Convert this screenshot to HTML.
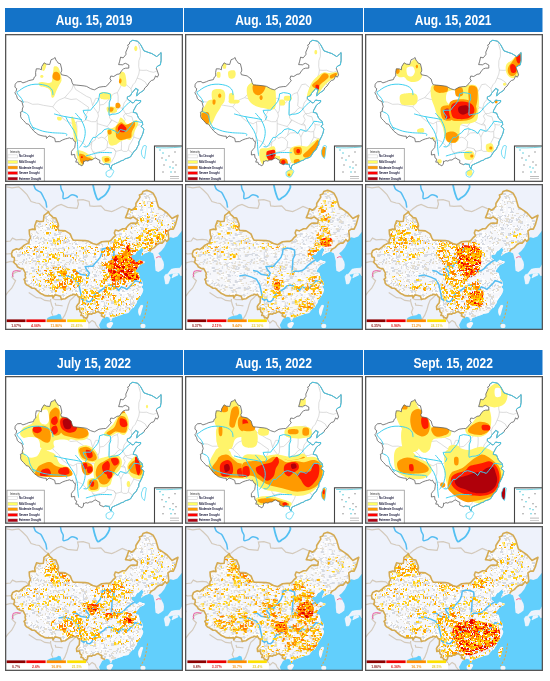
<!DOCTYPE html>
<html><head><meta charset="utf-8"><title>Drought maps</title>
<style>
html,body{margin:0;padding:0;background:#fff;}
body{width:550px;height:681px;overflow:hidden;position:relative;}
svg{display:block;}
.t{font-family:"Liberation Sans",Arial,sans-serif;font-weight:bold;fill:#fff;}
</style></head><body>
<svg width="550" height="681" viewBox="0 0 550 681">
<defs>
<path id="dCh" d="M124.9 8.9 L127.7 7.3 L130.3 7.7 L132.8 8.3 L135.6 11.6 L138.9 17.8 L143.9 19.6 L146.9 20.6 L151.9 23.7 L154.7 20.8 L156.1 19.6 L156.1 23.9 L156.1 27.5 L155.3 32.0 L152.8 32.9 L151.1 35.0 L152.4 38.1 L153.6 41.9 L152.3 44.2 L150.5 42.9 L149.7 45.0 L148.6 46.9 L146.4 47.5 L144.2 49.6 L142.3 52.8 L139.8 54.9 L138.7 57.4 L136.6 58.7 L134.2 60.3 L131.5 63.1 L132.1 60.0 L133.1 56.7 L130.6 55.4 L128.9 57.9 L126.8 59.8 L125.6 62.6 L123.9 63.3 L122.4 63.9 L122.3 65.8 L123.8 67.1 L126.1 68.6 L127.1 69.9 L128.7 69.6 L130.7 67.0 L133.2 67.6 L135.6 67.5 L135.6 69.0 L133.4 70.6 L131.2 72.5 L130.4 74.2 L128.6 77.5 L128.3 79.4 L131.5 80.0 L133.6 85.2 L135.6 87.1 L137.3 88.6 L137.7 91.6 L136.0 93.4 L138.0 94.9 L138.8 96.3 L138.1 99.8 L137.0 102.7 L135.4 106.0 L133.9 108.9 L133.7 111.6 L132.4 113.8 L131.2 116.6 L129.2 118.1 L127.3 121.0 L125.4 124.0 L122.4 125.2 L120.2 125.8 L118.4 127.2 L116.5 127.7 L114.7 128.7 L111.5 130.1 L108.4 131.5 L106.8 132.4 L106.0 135.9 L104.6 133.7 L104.2 131.4 L102.0 131.2 L100.4 130.9 L98.8 131.7 L96.8 131.0 L94.6 129.9 L94.9 127.3 L93.0 126.5 L90.8 125.0 L89.2 125.4 L87.0 127.0 L84.8 127.0 L82.8 128.1 L80.9 127.6 L79.6 128.4 L78.7 128.0 L78.3 131.0 L76.9 132.9 L74.7 131.6 L73.8 131.6 L72.9 129.2 L70.7 129.1 L71.8 126.1 L70.0 124.9 L69.6 121.4 L66.4 122.0 L66.4 118.5 L67.7 116.8 L69.7 114.6 L70.2 111.3 L70.4 108.7 L69.2 108.2 L67.4 105.1 L66.4 105.7 L64.4 104.8 L62.6 105.4 L60.4 105.9 L57.3 107.1 L54.7 108.6 L52.0 108.7 L50.4 108.8 L49.7 105.3 L46.3 103.7 L44.0 102.9 L41.5 105.5 L41.2 103.2 L39.1 103.2 L35.9 102.5 L33.1 101.5 L31.2 100.0 L29.1 98.4 L26.7 95.5 L23.7 91.3 L21.1 90.6 L20.5 89.7 L18.6 87.6 L16.4 85.4 L15.5 83.2 L15.8 81.0 L15.3 79.3 L17.3 78.4 L17.3 76.0 L18.2 73.6 L17.2 69.8 L17.0 68.6 L14.4 67.4 L12.4 65.6 L11.6 62.6 L10.6 61.1 L9.9 59.7 L11.2 58.2 L11.7 55.6 L9.9 54.2 L10.2 51.2 L11.5 49.7 L12.3 48.8 L15.9 48.5 L17.9 49.9 L21.4 48.7 L23.8 47.6 L28.4 46.6 L29.3 44.1 L30.8 43.0 L30.6 39.5 L31.3 35.8 L34.4 35.9 L36.4 36.8 L36.6 33.8 L39.1 29.8 L41.2 31.1 L44.7 31.5 L46.1 26.7 L48.6 25.7 L50.1 24.5 L50.9 27.0 L52.4 28.8 L53.1 30.1 L55.4 30.8 L56.7 36.0 L56.7 37.9 L55.8 39.7 L56.4 41.7 L62.1 42.9 L66.1 46.0 L67.2 49.8 L68.3 51.8 L71.7 52.1 L79.1 52.9 L81.6 53.4 L85.7 55.7 L88.2 56.5 L89.5 56.8 L94.0 54.2 L98.2 53.6 L100.7 53.5 L102.8 51.9 L104.2 49.9 L106.3 47.9 L105.0 45.7 L105.8 43.0 L108.7 43.5 L112.1 41.3 L114.5 41.0 L116.9 37.3 L118.5 35.9 L120.5 35.2 L123.8 35.1 L123.8 32.0 L122.1 31.1 L120.4 30.3 L118.8 30.9 L117.8 31.8 L115.9 31.7 L113.6 31.6 L114.5 28.9 L115.6 24.1 L118.1 24.9 L119.7 23.1 L121.0 21.3 L120.8 19.1 L122.0 16.5 L123.3 13.5 L122.6 12.1 L124.4 11.0Z"/>
<path id="dIs" d="M101.0 140.4 L101.4 142.8 L104.1 144.2 L106.0 143.7 L107.3 141.6 L108.8 138.4 L107.7 136.6 L105.4 136.7 L103.2 137.6 L101.2 138.9Z M138.2 113.1 L140.0 112.4 L141.4 113.2 L140.6 118.0 L140.2 121.9 L139.4 125.6 L137.5 123.6 L136.5 121.1 L136.4 118.0 L137.6 115.1Z"/>
<clipPath id="dClip"><path d="M124.9 8.9 L127.7 7.3 L130.3 7.7 L132.8 8.3 L135.6 11.6 L138.9 17.8 L143.9 19.6 L146.9 20.6 L151.9 23.7 L154.7 20.8 L156.1 19.6 L156.1 23.9 L156.1 27.5 L155.3 32.0 L152.8 32.9 L151.1 35.0 L152.4 38.1 L153.6 41.9 L152.3 44.2 L150.5 42.9 L149.7 45.0 L148.6 46.9 L146.4 47.5 L144.2 49.6 L142.3 52.8 L139.8 54.9 L138.7 57.4 L136.6 58.7 L134.2 60.3 L131.5 63.1 L132.1 60.0 L133.1 56.7 L130.6 55.4 L128.9 57.9 L126.8 59.8 L125.6 62.6 L123.9 63.3 L122.4 63.9 L122.3 65.8 L123.8 67.1 L126.1 68.6 L127.1 69.9 L128.7 69.6 L130.7 67.0 L133.2 67.6 L135.6 67.5 L135.6 69.0 L133.4 70.6 L131.2 72.5 L130.4 74.2 L128.6 77.5 L128.3 79.4 L131.5 80.0 L133.6 85.2 L135.6 87.1 L137.3 88.6 L137.7 91.6 L136.0 93.4 L138.0 94.9 L138.8 96.3 L138.1 99.8 L137.0 102.7 L135.4 106.0 L133.9 108.9 L133.7 111.6 L132.4 113.8 L131.2 116.6 L129.2 118.1 L127.3 121.0 L125.4 124.0 L122.4 125.2 L120.2 125.8 L118.4 127.2 L116.5 127.7 L114.7 128.7 L111.5 130.1 L108.4 131.5 L106.8 132.4 L106.0 135.9 L104.6 133.7 L104.2 131.4 L102.0 131.2 L100.4 130.9 L98.8 131.7 L96.8 131.0 L94.6 129.9 L94.9 127.3 L93.0 126.5 L90.8 125.0 L89.2 125.4 L87.0 127.0 L84.8 127.0 L82.8 128.1 L80.9 127.6 L79.6 128.4 L78.7 128.0 L78.3 131.0 L76.9 132.9 L74.7 131.6 L73.8 131.6 L72.9 129.2 L70.7 129.1 L71.8 126.1 L70.0 124.9 L69.6 121.4 L66.4 122.0 L66.4 118.5 L67.7 116.8 L69.7 114.6 L70.2 111.3 L70.4 108.7 L69.2 108.2 L67.4 105.1 L66.4 105.7 L64.4 104.8 L62.6 105.4 L60.4 105.9 L57.3 107.1 L54.7 108.6 L52.0 108.7 L50.4 108.8 L49.7 105.3 L46.3 103.7 L44.0 102.9 L41.5 105.5 L41.2 103.2 L39.1 103.2 L35.9 102.5 L33.1 101.5 L31.2 100.0 L29.1 98.4 L26.7 95.5 L23.7 91.3 L21.1 90.6 L20.5 89.7 L18.6 87.6 L16.4 85.4 L15.5 83.2 L15.8 81.0 L15.3 79.3 L17.3 78.4 L17.3 76.0 L18.2 73.6 L17.2 69.8 L17.0 68.6 L14.4 67.4 L12.4 65.6 L11.6 62.6 L10.6 61.1 L9.9 59.7 L11.2 58.2 L11.7 55.6 L9.9 54.2 L10.2 51.2 L11.5 49.7 L12.3 48.8 L15.9 48.5 L17.9 49.9 L21.4 48.7 L23.8 47.6 L28.4 46.6 L29.3 44.1 L30.8 43.0 L30.6 39.5 L31.3 35.8 L34.4 35.9 L36.4 36.8 L36.6 33.8 L39.1 29.8 L41.2 31.1 L44.7 31.5 L46.1 26.7 L48.6 25.7 L50.1 24.5 L50.9 27.0 L52.4 28.8 L53.1 30.1 L55.4 30.8 L56.7 36.0 L56.7 37.9 L55.8 39.7 L56.4 41.7 L62.1 42.9 L66.1 46.0 L67.2 49.8 L68.3 51.8 L71.7 52.1 L79.1 52.9 L81.6 53.4 L85.7 55.7 L88.2 56.5 L89.5 56.8 L94.0 54.2 L98.2 53.6 L100.7 53.5 L102.8 51.9 L104.2 49.9 L106.3 47.9 L105.0 45.7 L105.8 43.0 L108.7 43.5 L112.1 41.3 L114.5 41.0 L116.9 37.3 L118.5 35.9 L120.5 35.2 L123.8 35.1 L123.8 32.0 L122.1 31.1 L120.4 30.3 L118.8 30.9 L117.8 31.8 L115.9 31.7 L113.6 31.6 L114.5 28.9 L115.6 24.1 L118.1 24.9 L119.7 23.1 L121.0 21.3 L120.8 19.1 L122.0 16.5 L123.3 13.5 L122.6 12.1 L124.4 11.0Z M101.0 140.4 L101.4 142.8 L104.1 144.2 L106.0 143.7 L107.3 141.6 L108.8 138.4 L107.7 136.6 L105.4 136.7 L103.2 137.6 L101.2 138.9Z M138.2 113.1 L140.0 112.4 L141.4 113.2 L140.6 118.0 L140.2 121.9 L139.4 125.6 L137.5 123.6 L136.5 121.1 L136.4 118.0 L137.6 115.1Z"/></clipPath>
<path id="dRiv" d="M18.5 69.7 C18.1 69.0 17.5 67.0 16.4 65.4 C15.3 63.8 12.4 61.2 12.0 59.9 C11.6 58.6 13.0 58.6 14.2 57.7 C15.4 56.8 17.1 55.4 19.1 54.4 C21.1 53.4 23.8 52.2 26.2 51.7 C28.6 51.2 31.4 51.1 33.8 51.2 C36.1 51.3 38.5 51.8 40.3 52.3 C42.1 52.8 43.5 53.5 44.7 54.4 C45.9 55.3 46.9 56.4 47.4 57.7 C47.9 59.0 47.9 61.4 48.0 62.1 M17.4 78.4 C18.3 79.0 21.6 79.9 22.9 81.7 C24.2 83.5 24.0 86.8 25.1 89.3 C26.2 91.8 28.7 95.7 29.4 97.0 M80.9 123.0 C83.1 122.5 89.6 120.2 93.9 119.7 C98.2 119.2 104.7 119.7 106.8 119.7 M27.0 94.0 C28.8 94.7 34.2 97.1 37.6 98.1 C41.0 99.0 43.7 99.3 47.5 99.7 C51.3 100.1 58.3 100.0 60.6 100.6 C62.9 101.1 61.3 102.6 61.4 103.0 M49.1 80.9 C50.7 81.3 55.6 82.7 58.9 83.4 C62.2 84.1 65.7 84.5 68.7 85.0 C71.7 85.5 75.5 86.3 76.9 86.6 M60.6 83.4 C61.1 84.5 62.4 87.6 63.8 89.9 C65.1 92.2 67.3 94.6 68.7 97.3 C70.1 100.0 71.3 103.2 72.0 106.3 C72.7 109.4 72.5 113.4 72.8 116.1 C73.1 118.8 73.5 121.5 73.6 122.6 M70.4 80.1 C71.5 81.5 75.3 85.3 76.9 88.3 C78.5 91.3 79.9 94.8 80.2 98.1 C80.5 101.4 79.5 105.2 78.6 107.9 C77.6 110.6 75.2 113.4 74.5 114.5 M78.6 113.6 L81.6 114.0 L83.8 111.8 L86.3 107.4 L88.1 104.4 L90.8 104.4 L94.0 101.3 L96.6 99.7 L99.1 96.7 L102.5 95.7 L106.6 96.6 L110.2 98.2 L112.7 100.5 L115.3 96.5 L118.3 97.3 L121.3 98.4 L123.9 95.4 L127.2 91.2 L128.9 88.3 L132.3 88.5 L134.7 89.1 L136.8 89.5 M80.4 86.8 L81.9 83.8 L79.0 80.0 L78.1 77.4 L82.1 77.2 L85.6 77.2 L88.1 73.9 L90.2 71.7 L92.8 68.3 L94.1 64.6 L94.6 60.8 L98.4 59.6 L102.2 60.1 L105.3 61.0 L105.8 65.8 L104.2 69.6 L104.2 75.2 L103.9 80.8 L104.2 82.3 L107.2 81.3 L110.8 81.0 L114.0 79.9 L116.5 77.8 L119.0 74.5 L121.2 72.3 L123.8 69.7 L126.1 68.2"/>
<path id="dProv" d="M17.0 68.6 L22.5 69.1 L27.5 71.3 L33.1 71.1 L38.4 72.3 L47.8 73.8 L51.1 69.1 L54.1 66.9 L59.6 64.7 L64.1 59.6 L66.9 56.2 L68.3 51.8 M47.8 73.8 L50.1 76.4 L53.8 79.6 L57.4 85.0 L61.3 88.0 L68.1 90.9 L71.4 88.9 M71.4 88.9 L71.9 93.8 L71.9 98.6 L70.5 103.0 L71.2 106.1 L70.1 108.6 M59.6 64.7 L66.0 66.5 L71.3 65.9 L76.3 69.2 L80.1 71.9 L83.5 74.2 L82.6 79.4 L79.7 83.0 L81.0 86.8 L78.1 88.5 L72.5 88.3 L71.4 88.9 M68.3 51.8 L70.7 56.5 L75.5 59.5 L81.7 63.4 L85.6 65.0 L87.6 72.4 M87.6 72.4 L90.7 65.4 L94.1 65.3 L94.7 72.0 L94.3 77.5 L92.9 80.2 L91.6 78.3 L88.9 74.7 L87.6 72.4 M92.9 80.2 L93.5 83.1 L92.1 86.8 L90.8 88.7 L86.5 88.7 L81.0 86.8 M92.1 86.8 L92.2 90.6 L97.9 92.3 L102.2 93.5 L104.9 90.0 L106.7 86.9 L104.6 85.2 L104.5 82.2 M104.5 82.2 L104.2 75.2 L104.6 67.8 L105.5 64.0 L108.6 60.7 L112.4 59.6 L113.2 63.3 L113.1 68.8 L112.6 72.6 L114.9 74.6 M94.7 72.0 L98.7 71.4 L102.5 67.9 L105.5 64.0 M92.2 90.6 L92.2 98.0 L90.8 102.9 L93.1 105.4 L96.7 104.2 L99.6 105.2 L102.5 102.5 L104.3 95.6 L102.2 93.5 M70.1 108.6 L72.9 106.9 L77.3 109.0 L81.6 113.7 L84.7 112.6 L86.9 108.9 L90.2 107.0 L90.8 102.9 M86.9 108.9 L86.2 114.9 L87.7 118.6 L89.8 121.3 L90.8 125.0 M87.7 118.6 L90.8 119.7 L95.4 118.5 L100.0 117.2 L102.0 114.5 L102.7 108.8 L99.6 105.2 M102.0 114.5 L106.0 115.0 L109.1 115.9 L110.9 119.1 L109.6 123.4 L106.7 128.6 L104.5 131.0 M102.5 102.5 L105.3 100.0 L109.7 99.7 L114.1 100.4 L115.9 104.0 L116.5 111.4 L116.3 117.1 L110.8 118.4 L109.1 115.9 M104.9 90.0 L106.7 86.9 L113.4 90.4 L116.3 91.6 L120.1 92.2 L121.2 97.7 L118.4 98.8 L115.9 104.0 M104.5 82.2 L107.2 80.6 L109.8 79.6 L112.3 76.4 L114.9 74.6 L117.7 75.4 L120.4 80.6 L118.4 83.1 L120.2 86.6 L118.3 90.6 L116.3 91.6 M112.4 59.6 L114.6 55.6 L116.7 51.6 L120.4 51.1 L123.2 53.3 L126.0 55.8 L126.8 59.8 M117.7 75.4 L119.1 70.0 L122.1 66.2 M120.4 80.6 L123.7 80.5 L126.4 79.4 L128.3 79.4 M120.4 80.6 L122.5 82.6 L126.9 83.8 L128.4 89.1 L129.9 91.5 L133.7 92.0 L135.1 91.7 M118.3 90.6 L120.1 92.2 M121.2 97.7 L125.8 98.9 L128.7 98.5 L130.2 94.5 L129.9 91.5 M116.3 117.1 L118.6 118.4 L121.7 118.4 L123.2 117.1 L124.2 112.4 L126.8 108.2 L128.8 104.1 L128.7 98.5 M128.8 104.1 L132.6 105.4 L135.4 106.0 M123.2 117.1 L125.8 118.6 L127.3 121.0 M126.0 55.8 L128.0 51.7 L130.2 49.4 L132.1 45.2 L133.8 41.1 L134.4 37.1 L133.7 33.4 L133.9 27.6 L135.4 23.4 L135.4 17.5 L133.9 12.0 L132.8 8.3 M134.4 37.1 L138.1 37.4 L141.7 37.2 L144.4 38.4 L148.4 39.3 L151.9 38.2 M132.1 45.2 L136.0 46.3 L140.3 49.1 L142.3 52.8"/>
<path id="dCoast" d="M138.7 57.4 L136.6 58.7 L134.2 60.3 L131.5 63.1 L132.1 60.0 L133.1 56.7 L130.6 55.4 L128.9 57.9 L126.8 59.8 L125.6 62.6 L123.9 63.3 L122.4 63.9 L122.3 65.8 L123.8 67.1 L126.1 68.6 L127.1 69.9 L128.7 69.6 L130.7 67.0 L133.2 67.6 L135.6 67.5 L135.6 69.0 L133.4 70.6 L131.2 72.5 L130.4 74.2 L128.6 77.5 L128.3 79.4 L131.5 80.0 L133.6 85.2 L135.6 87.1 L137.3 88.6 L137.7 91.6 L136.0 93.4 L138.0 94.9 L138.8 96.3 L138.1 99.8 L137.0 102.7 L135.4 106.0 L133.9 108.9 L133.7 111.6 L132.4 113.8 L131.2 116.6 L129.2 118.1 L127.3 121.0 L125.4 124.0 L122.4 125.2 L120.2 125.8 L118.4 127.2 L116.5 127.7 L114.7 128.7 L111.5 130.1 L108.4 131.5 L106.8 132.4 L106.0 135.9 L104.6 133.7 L104.2 131.4 L102.0 131.2 L100.4 130.9 L98.8 131.7 M124.9 8.9 L127.7 7.3 L130.3 7.7 L132.8 8.3 L135.6 11.6 L138.9 17.8 L143.9 19.6 L146.9 20.6 L151.9 23.7 L154.7 20.8 L156.1 19.6 L156.1 23.9 L156.1 27.5 L155.3 32.0 L152.8 32.9 L151.1 35.0"/>
<g id="dIns">
<rect x="149.5" y="0" width="28" height="40" fill="#fff" stroke="#444" stroke-width="1.1"/>
<circle cx="155" cy="4" r="0.8" fill="#5cd"/>
<circle cx="158" cy="7" r="0.8" fill="#5cd"/>
<circle cx="157" cy="12" r="0.8" fill="#999"/>
<circle cx="161" cy="14" r="0.8" fill="#5cd"/>
<circle cx="164" cy="10" r="0.8" fill="#999"/>
<circle cx="170" cy="6" r="0.8" fill="#999"/>
<circle cx="168" cy="16" r="0.8" fill="#999"/>
<circle cx="165" cy="21" r="0.8" fill="#5cd"/>
<circle cx="168" cy="22" r="0.8" fill="#5cd"/>
<circle cx="171" cy="19" r="0.8" fill="#999"/>
<circle cx="159" cy="19" r="0.8" fill="#999"/>
<circle cx="166" cy="26" r="0.8" fill="#5cd"/>
<circle cx="158" cy="26" r="0.8" fill="#999"/>
<circle cx="170" cy="26" r="0.8" fill="#999"/>
<path d="M151 1.5 Q160 2.5 176 1" stroke="#5cd" stroke-width="0.8" fill="none"/>
<rect x="165" y="30" width="9" height="0.5" fill="#777"/><rect x="165" y="32.5" width="9" height="0.5" fill="#999"/>
</g>
<path id="sCh" d="M138.0 7.5 L141.8 6.2 L145.1 7.5 L148.1 9.1 L150.8 14.1 L153.3 22.8 L158.8 26.6 L162.1 29.0 L167.0 34.5 L171.1 32.2 L173.0 31.3 L171.6 36.3 L170.5 40.3 L168.3 45.1 L165.3 45.1 L162.9 46.9 L163.4 50.7 L163.7 55.4 L161.8 57.4 L160.1 55.4 L158.8 57.4 L157.1 59.1 L154.7 59.1 L151.9 60.7 L149.2 63.6 L146.2 65.2 L144.6 67.6 L142.1 68.4 L139.4 69.6 L136.1 71.9 L137.2 68.8 L138.8 65.6 L136.4 63.6 L134.2 66.0 L131.7 67.6 L130.1 70.4 L128.1 70.8 L126.5 71.1 L126.2 73.1 L127.6 74.7 L129.8 76.6 L130.6 78.1 L132.2 78.1 L134.7 75.8 L137.2 77.0 L139.6 77.4 L139.4 78.9 L136.9 80.1 L134.4 81.6 L133.3 83.1 L131.2 86.1 L130.6 87.9 L133.6 89.1 L135.0 94.6 L136.6 96.7 L138.0 98.5 L138.0 101.4 L136.1 102.8 L137.7 104.6 L138.3 106.0 L137.2 109.2 L135.8 111.6 L133.9 114.3 L132.2 116.7 L131.7 119.1 L130.3 120.8 L129.0 123.2 L127.1 124.2 L125.1 126.5 L123.2 128.9 L120.5 129.5 L118.6 129.8 L116.9 130.8 L115.3 131.2 L113.7 131.8 L110.9 132.8 L108.2 133.8 L106.8 134.5 L106.0 137.4 L104.9 135.4 L104.6 133.5 L102.7 133.1 L101.3 132.8 L100.0 133.5 L98.3 132.8 L96.4 131.8 L96.7 129.5 L95.1 128.9 L93.1 127.5 L91.8 127.9 L89.9 129.2 L87.9 129.2 L86.3 130.2 L84.7 129.8 L83.6 130.5 L82.8 130.2 L82.5 132.8 L81.4 134.5 L79.5 133.5 L78.6 133.5 L77.8 131.5 L75.9 131.5 L76.7 128.9 L75.1 127.9 L74.5 124.9 L71.8 125.5 L71.5 122.5 L72.6 120.8 L74.3 118.8 L74.5 115.7 L74.5 113.3 L73.5 113.0 L71.5 110.2 L70.7 110.9 L68.8 110.2 L67.2 110.9 L65.2 111.6 L62.5 113.0 L60.3 114.7 L57.9 115.0 L56.5 115.4 L55.4 112.3 L52.1 111.2 L49.9 110.9 L48.0 113.7 L47.5 111.6 L45.6 111.9 L42.5 111.9 L39.8 111.6 L37.9 110.5 L35.7 109.5 L33.0 107.4 L29.4 104.2 L27.0 104.2 L26.1 103.5 L24.0 102.1 L21.5 100.7 L20.1 98.9 L19.9 96.7 L19.0 95.3 L20.7 93.8 L20.1 91.6 L20.4 89.1 L18.5 85.7 L17.9 84.6 L15.2 84.2 L12.7 83.1 L11.1 80.4 L9.7 79.3 L8.6 78.1 L9.5 76.2 L9.2 73.5 L7.0 72.7 L6.5 69.6 L7.3 67.6 L7.8 66.4 L11.4 64.8 L13.8 65.6 L17.1 63.2 L19.3 61.1 L24.0 58.7 L24.2 55.8 L25.6 54.1 L24.5 50.3 L24.2 46.0 L27.8 45.1 L30.2 45.6 L29.7 42.1 L31.6 36.7 L34.3 37.6 L38.4 37.2 L39.0 31.3 L41.7 29.4 L43.4 27.6 L44.7 30.4 L46.9 32.2 L48.0 33.6 L50.8 34.0 L53.2 39.9 L53.5 42.1 L52.7 44.3 L53.8 46.4 L60.3 46.9 L65.2 49.9 L66.9 54.1 L68.3 56.2 L72.1 56.2 L80.3 56.6 L83.0 57.0 L87.7 59.5 L90.4 60.3 L91.8 60.7 L96.7 57.8 L101.3 57.4 L104.1 57.4 L106.5 55.8 L108.2 53.7 L110.6 51.6 L109.3 49.0 L110.4 46.0 L113.7 46.9 L117.8 44.7 L120.5 44.7 L123.8 40.8 L125.7 39.4 L128.1 39.0 L132.0 39.4 L132.5 35.8 L130.6 34.5 L128.7 33.1 L126.8 33.6 L125.4 34.5 L123.2 34.0 L120.5 33.6 L121.9 30.4 L123.8 24.7 L126.8 26.2 L129.0 24.3 L130.9 22.4 L130.9 19.5 L132.8 16.5 L135.0 13.1 L134.4 11.1 L136.9 10.1Z"/>
<path id="sIs" d="M101.6 141.0 L101.9 142.9 L104.1 144.2 L105.7 143.9 L106.8 142.3 L108.2 139.7 L107.4 138.1 L105.4 138.1 L103.5 138.7 L101.9 139.7Z M135.5 121.2 L137.2 120.8 L138.3 121.8 L136.9 125.9 L136.1 129.2 L135.0 132.2 L133.6 130.2 L133.1 127.9 L133.3 125.2 L134.7 122.8Z"/>
<path id="sLand" d="M100.0 133.5 L98.3 132.8 L96.4 131.8 L96.7 129.5 L95.1 128.9 L93.1 127.5 L91.8 127.9 L89.9 129.2 L87.9 129.2 L86.3 130.2 L84.7 129.8 L83.6 130.5 L82.8 130.2 L82.5 132.8 L81.4 134.5 L79.5 133.5 L78.6 133.5 L77.8 131.5 L75.9 131.5 L76.7 128.9 L75.1 127.9 L74.5 124.9 L71.8 125.5 L71.5 122.5 L72.6 120.8 L74.3 118.8 L74.5 115.7 L74.5 113.3 L73.5 113.0 L71.5 110.2 L70.7 110.9 L68.8 110.2 L67.2 110.9 L65.2 111.6 L62.5 113.0 L60.3 114.7 L57.9 115.0 L56.5 115.4 L55.4 112.3 L52.1 111.2 L49.9 110.9 L48.0 113.7 L47.5 111.6 L45.6 111.9 L42.5 111.9 L39.8 111.6 L37.9 110.5 L35.7 109.5 L33.0 107.4 L29.4 104.2 L27.0 104.2 L26.1 103.5 L24.0 102.1 L21.5 100.7 L20.1 98.9 L19.9 96.7 L19.0 95.3 L20.7 93.8 L20.1 91.6 L20.4 89.1 L18.5 85.7 L17.9 84.6 L15.2 84.2 L12.7 83.1 L11.1 80.4 L9.7 79.3 L8.6 78.1 L9.5 76.2 L9.2 73.5 L7.0 72.7 L6.5 69.6 L7.3 67.6 L7.8 66.4 L11.4 64.8 L13.8 65.6 L17.1 63.2 L19.3 61.1 L24.0 58.7 L24.2 55.8 L25.6 54.1 L24.5 50.3 L24.2 46.0 L27.8 45.1 L30.2 45.6 L29.7 42.1 L31.6 36.7 L34.3 37.6 L38.4 37.2 L39.0 31.3 L41.7 29.4 L43.4 27.6 L44.7 30.4 L46.9 32.2 L48.0 33.6 L50.8 34.0 L53.2 39.9 L53.5 42.1 L52.7 44.3 L53.8 46.4 L60.3 46.9 L65.2 49.9 L66.9 54.1 L68.3 56.2 L72.1 56.2 L80.3 56.6 L83.0 57.0 L87.7 59.5 L90.4 60.3 L91.8 60.7 L96.7 57.8 L101.3 57.4 L104.1 57.4 L106.5 55.8 L108.2 53.7 L110.6 51.6 L109.3 49.0 L110.4 46.0 L113.7 46.9 L117.8 44.7 L120.5 44.7 L123.8 40.8 L125.7 39.4 L128.1 39.0 L132.0 39.4 L132.5 35.8 L130.6 34.5 L128.7 33.1 L126.8 33.6 L125.4 34.5 L123.2 34.0 L120.5 33.6 L121.9 30.4 L123.8 24.7 L126.8 26.2 L129.0 24.3 L130.9 22.4 L130.9 19.5 L132.8 16.5 L135.0 13.1 L134.4 11.1 L136.9 10.1 L138.0 7.5 L141.8 6.2 L145.1 7.5 L148.1 9.1 L150.8 14.1 L153.3 22.8 L158.8 26.6 L162.1 29.0 L167.0 34.5 L171.1 32.2 L173.0 31.3 L171.6 36.3 L170.5 40.3 L168.3 45.1 L165.3 45.1 L162.9 46.9 L163.4 50.7 L163.7 55.4 L161.8 57.4 L160.1 55.4 L158.8 57.4 L157.1 59.1 L154.7 59.1 L151.9 60.7 L149.2 63.6 L146.2 65.2 L144.6 67.6"/>
<clipPath id="sClip"><path d="M138.0 7.5 L141.8 6.2 L145.1 7.5 L148.1 9.1 L150.8 14.1 L153.3 22.8 L158.8 26.6 L162.1 29.0 L167.0 34.5 L171.1 32.2 L173.0 31.3 L171.6 36.3 L170.5 40.3 L168.3 45.1 L165.3 45.1 L162.9 46.9 L163.4 50.7 L163.7 55.4 L161.8 57.4 L160.1 55.4 L158.8 57.4 L157.1 59.1 L154.7 59.1 L151.9 60.7 L149.2 63.6 L146.2 65.2 L144.6 67.6 L142.1 68.4 L139.4 69.6 L136.1 71.9 L137.2 68.8 L138.8 65.6 L136.4 63.6 L134.2 66.0 L131.7 67.6 L130.1 70.4 L128.1 70.8 L126.5 71.1 L126.2 73.1 L127.6 74.7 L129.8 76.6 L130.6 78.1 L132.2 78.1 L134.7 75.8 L137.2 77.0 L139.6 77.4 L139.4 78.9 L136.9 80.1 L134.4 81.6 L133.3 83.1 L131.2 86.1 L130.6 87.9 L133.6 89.1 L135.0 94.6 L136.6 96.7 L138.0 98.5 L138.0 101.4 L136.1 102.8 L137.7 104.6 L138.3 106.0 L137.2 109.2 L135.8 111.6 L133.9 114.3 L132.2 116.7 L131.7 119.1 L130.3 120.8 L129.0 123.2 L127.1 124.2 L125.1 126.5 L123.2 128.9 L120.5 129.5 L118.6 129.8 L116.9 130.8 L115.3 131.2 L113.7 131.8 L110.9 132.8 L108.2 133.8 L106.8 134.5 L106.0 137.4 L104.9 135.4 L104.6 133.5 L102.7 133.1 L101.3 132.8 L100.0 133.5 L98.3 132.8 L96.4 131.8 L96.7 129.5 L95.1 128.9 L93.1 127.5 L91.8 127.9 L89.9 129.2 L87.9 129.2 L86.3 130.2 L84.7 129.8 L83.6 130.5 L82.8 130.2 L82.5 132.8 L81.4 134.5 L79.5 133.5 L78.6 133.5 L77.8 131.5 L75.9 131.5 L76.7 128.9 L75.1 127.9 L74.5 124.9 L71.8 125.5 L71.5 122.5 L72.6 120.8 L74.3 118.8 L74.5 115.7 L74.5 113.3 L73.5 113.0 L71.5 110.2 L70.7 110.9 L68.8 110.2 L67.2 110.9 L65.2 111.6 L62.5 113.0 L60.3 114.7 L57.9 115.0 L56.5 115.4 L55.4 112.3 L52.1 111.2 L49.9 110.9 L48.0 113.7 L47.5 111.6 L45.6 111.9 L42.5 111.9 L39.8 111.6 L37.9 110.5 L35.7 109.5 L33.0 107.4 L29.4 104.2 L27.0 104.2 L26.1 103.5 L24.0 102.1 L21.5 100.7 L20.1 98.9 L19.9 96.7 L19.0 95.3 L20.7 93.8 L20.1 91.6 L20.4 89.1 L18.5 85.7 L17.9 84.6 L15.2 84.2 L12.7 83.1 L11.1 80.4 L9.7 79.3 L8.6 78.1 L9.5 76.2 L9.2 73.5 L7.0 72.7 L6.5 69.6 L7.3 67.6 L7.8 66.4 L11.4 64.8 L13.8 65.6 L17.1 63.2 L19.3 61.1 L24.0 58.7 L24.2 55.8 L25.6 54.1 L24.5 50.3 L24.2 46.0 L27.8 45.1 L30.2 45.6 L29.7 42.1 L31.6 36.7 L34.3 37.6 L38.4 37.2 L39.0 31.3 L41.7 29.4 L43.4 27.6 L44.7 30.4 L46.9 32.2 L48.0 33.6 L50.8 34.0 L53.2 39.9 L53.5 42.1 L52.7 44.3 L53.8 46.4 L60.3 46.9 L65.2 49.9 L66.9 54.1 L68.3 56.2 L72.1 56.2 L80.3 56.6 L83.0 57.0 L87.7 59.5 L90.4 60.3 L91.8 60.7 L96.7 57.8 L101.3 57.4 L104.1 57.4 L106.5 55.8 L108.2 53.7 L110.6 51.6 L109.3 49.0 L110.4 46.0 L113.7 46.9 L117.8 44.7 L120.5 44.7 L123.8 40.8 L125.7 39.4 L128.1 39.0 L132.0 39.4 L132.5 35.8 L130.6 34.5 L128.7 33.1 L126.8 33.6 L125.4 34.5 L123.2 34.0 L120.5 33.6 L121.9 30.4 L123.8 24.7 L126.8 26.2 L129.0 24.3 L130.9 22.4 L130.9 19.5 L132.8 16.5 L135.0 13.1 L134.4 11.1 L136.9 10.1Z M101.6 141.0 L101.9 142.9 L104.1 144.2 L105.7 143.9 L106.8 142.3 L108.2 139.7 L107.4 138.1 L105.4 138.1 L103.5 138.7 L101.9 139.7Z M135.5 121.2 L137.2 120.8 L138.3 121.8 L136.9 125.9 L136.1 129.2 L135.0 132.2 L133.6 130.2 L133.1 127.9 L133.3 125.2 L134.7 122.8Z"/></clipPath>
<path id="sSea" d="M144.6 67.6 L142.1 68.4 L139.4 69.6 L136.1 71.9 L137.2 68.8 L138.8 65.6 L136.4 63.6 L134.2 66.0 L131.7 67.6 L130.1 70.4 L128.1 70.8 L126.5 71.1 L126.2 73.1 L127.6 74.7 L129.8 76.6 L130.6 78.1 L132.2 78.1 L134.7 75.8 L137.2 77.0 L139.6 77.4 L139.4 78.9 L136.9 80.1 L134.4 81.6 L133.3 83.1 L131.2 86.1 L130.6 87.9 L133.6 89.1 L135.0 94.6 L136.6 96.7 L138.0 98.5 L138.0 101.4 L136.1 102.8 L137.7 104.6 L138.3 106.0 L137.2 109.2 L135.8 111.6 L133.9 114.3 L132.2 116.7 L131.7 119.1 L130.3 120.8 L129.0 123.2 L127.1 124.2 L125.1 126.5 L123.2 128.9 L120.5 129.5 L118.6 129.8 L116.9 130.8 L115.3 131.2 L113.7 131.8 L110.9 132.8 L108.2 133.8 L106.8 134.5 L106.0 137.4 L104.9 135.4 L104.6 133.5 L102.7 133.1 L101.3 132.8 L100.0 133.5 L97.2 135.1 L95.9 137.4 L94.0 141.0 L95.1 143.9 L96.4 147.1 L98.6 150.3 L100.8 152.8 L102.7 157.6 L103.3 163.8 L101.3 167.6 L95.9 170.1 L94.5 185.5 L214.8 185.5 L214.8 23.8 L190.2 14.1 L188.9 30.8 L182.0 39.9 L176.6 47.3 L172.4 52.4 L168.3 54.1 L165.6 53.3 L163.7 54.1 L162.1 57.4 L159.3 63.2 L156.0 67.2 L153.3 69.2 L156.0 73.1 L158.5 77.8 L159.0 80.8 L158.5 84.6 L156.0 86.5 L153.3 87.9 L150.6 86.8 L150.0 81.6 L150.0 77.0 L149.2 73.9 L148.7 71.5 L148.0 69.2 L146.5 68.8Z M41.2 140.0 L42.3 134.1 L45.3 132.5 L48.0 131.8 L51.3 131.2 L53.5 129.8 L55.7 130.5 L57.0 135.1 L59.0 139.0 L63.1 144.8 L63.1 170.1 L23.4 170.1 L23.4 152.8 L28.9 148.0 L34.3 143.2Z"/>
<path id="sJp" d="M159.3 92.7 L160.7 100.0 L163.2 99.6 L165.3 93.8 L162.9 90.2 L160.7 90.5Z M162.6 90.2 L166.2 85.3 L169.7 84.6 L175.2 84.2 L178.7 78.1 L180.4 79.7 L183.7 75.8 L187.2 67.6 L187.5 64.0 L191.3 61.5 L193.0 69.2 L190.2 73.9 L190.0 79.3 L187.5 86.5 L185.0 86.1 L182.6 87.9 L179.3 87.9 L176.0 92.0 L174.1 89.1 L170.0 88.7 L166.2 89.8 L162.9 90.5Z M167.0 93.8 L173.0 90.9 L172.4 89.4 L168.3 89.8Z"/>
<path id="sRiv" d="M53.5 92.0 L59.0 90.9 L65.8 93.1 L70.7 95.3 L74.0 101.0 L75.9 109.8 L76.7 115.0 L78.9 116.4 L80.3 114.0 L82.2 117.4 L84.9 117.8 L86.9 115.7 L89.0 111.6 L90.7 108.8 L93.1 108.8 L96.2 106.0 L98.6 104.6 L101.1 101.8 L104.4 101.0 L108.2 102.1 L111.5 103.9 L113.7 106.4 L116.4 102.8 L119.1 103.9 L121.9 105.3 L124.6 102.8 L128.1 99.3 L130.1 96.7 L133.3 97.5 L135.5 98.5 L137.4 99.3 M67.2 86.5 L71.3 87.2 L75.4 90.2 L79.5 90.9 L83.0 92.0 L84.4 89.1 L81.4 85.3 L80.3 82.7 L84.4 82.3 L87.9 82.3 L90.4 78.9 L92.6 76.6 L95.3 73.1 L96.7 69.2 L97.2 65.2 L101.3 64.0 L105.4 64.8 L108.7 66.0 L109.0 71.1 L107.1 75.1 L106.8 80.8 L106.3 86.5 L106.5 87.9 L109.6 87.2 L113.1 87.2 L116.4 86.5 L119.1 84.6 L121.9 81.6 L124.3 79.7 L127.3 77.4 L129.8 76.2  M29.1 0.0 C29.1 0.3 28.8 0.9 29.1 1.8 C29.4 2.7 29.8 4.4 30.9 5.5 C32.0 6.6 34.4 7.3 35.5 8.2 C36.6 9.1 36.7 9.8 37.3 10.9 C37.9 12.0 38.5 13.3 39.1 14.5 C39.7 15.7 40.5 16.7 40.9 18.2 C41.3 19.7 41.6 22.7 41.8 23.6 M55.5 0.0 C55.5 0.1 55.4 -0.0 55.5 0.9 C55.6 1.8 55.9 4.1 56.4 5.5 C56.9 6.9 57.9 7.6 58.2 9.1 C58.5 10.6 57.5 13.8 58.2 14.5 C59.0 15.2 61.3 14.2 62.7 13.6 C64.1 13.0 65.0 11.2 66.4 10.9 C67.8 10.6 69.9 11.4 70.9 11.8 C72.0 12.2 72.4 13.3 72.7 13.6"/>
<path id="sDmz" d="M151.1 73.9 L153.3 72.7 L156.0 73.1"/>
<path id="sLake" d="M88.2 0.0 C88.2 0.3 87.9 0.3 88.2 1.8 C88.5 3.3 89.2 6.8 90.0 9.1 C90.8 11.4 91.6 14.8 92.7 15.5 C93.8 16.2 95.0 14.5 96.4 13.6 C97.8 12.7 99.6 11.7 100.9 10.0 C102.2 8.3 104.0 5.3 104.5 3.6 C105.0 1.9 104.1 0.6 104.0 0.0"/>
<path id="sBord" d="M44.7 27.6 L48.0 24.7 L52.1 21.9 L56.2 20.4 L62.5 23.3 L67.2 23.8 L72.1 24.3 L73.5 20.0 L72.6 16.1 L78.1 15.6 L84.1 17.5 L84.9 21.9 L89.0 22.4 L95.9 21.9 L100.0 26.2 L106.8 27.6 L110.9 25.7 L117.2 22.4 L121.9 24.3 L123.8 24.7 M43.4 27.6 L40.6 25.7 L37.6 22.8 L34.3 19.5 L31.1 19.0 L26.1 17.5 L22.0 10.6 L17.4 6.0 L13.8 2.9 L7.0 3.9 L1.5 2.9 M24.0 58.7 L20.7 55.8 L16.6 55.4 L11.1 55.8 L7.5 54.1 L5.4 57.0 L-1.2 57.8 L-3.9 61.1 M5.9 69.6 L1.5 70.0 L-2.6 68.0 L-5.3 66.4 M9.5 78.1 L5.6 77.4 L0.2 78.9 L-0.7 82.7 L0.2 85.7 L-3.9 90.2 L-5.9 95.7 L-6.7 101.0 L-12.1 104.6 M17.4 84.6 L15.2 86.8 L11.6 87.9 L8.6 89.4 L7.0 93.1 L8.9 95.3 L10.6 96.7 L8.6 100.7 L6.7 104.2 L2.9 108.1 L0.2 111.9 L-3.1 112.6 L-5.0 116.1 L-2.6 120.1 L-5.3 124.2 L-8.0 125.9 M23.7 108.5 L26.7 110.5 L31.6 113.7 L35.7 114.0 L39.8 116.4 L45.6 117.1 L45.6 115.0 M47.5 114.3 L50.2 115.7 L56.5 115.7 M45.6 117.1 L46.7 121.2 L48.0 124.2 L46.4 128.5 L48.0 131.8 M57.6 121.8 L54.9 121.5 L50.8 121.2 L50.2 118.8 M70.7 110.9 L67.7 114.0 L65.0 116.4 L63.3 120.8 L62.0 125.5 L59.8 131.2 L57.9 134.1 L57.0 136.1 M81.4 134.5 L82.5 136.7 L84.1 139.0 L87.1 136.4 L90.1 138.4 L91.2 141.0 L92.9 143.2 L94.5 144.8 L96.2 147.4 M78.6 133.5 L79.5 137.4 L76.7 138.4 L74.0 139.4 L72.1 143.2"/>
<pattern id="pG" width="47" height="47" patternUnits="userSpaceOnUse"><path fill="#d6dae2" d="M6 0h1v2h-1zM31 0h1v2h-1zM7 1h3v1h-3zM42 1h1v2h-1zM43 1h2v1h-2zM2 2h2v2h-2zM20 2h3v2h-3zM32 2h2v1h-2zM3 3h3v1h-3zM6 3h1v2h-1zM7 3h2v1h-2zM17 3h2v1h-2zM44 3h1v2h-1zM2 4h3v1h-3zM20 4h1v2h-1zM25 4h2v2h-2zM30 4h1v1h-1zM28 5h2v2h-2zM32 5h1v1h-1zM0 6h2v2h-2zM23 6h2v1h-2zM28 6h1v2h-1zM36 6h1v2h-1zM22 7h1v2h-1zM33 7h1v2h-1zM35 7h1v2h-1zM38 7h2v1h-2zM43 7h1v1h-1zM15 8h2v1h-2zM26 8h1v2h-1zM5 9h3v2h-3zM11 9h2v1h-2zM16 9h1v2h-1zM23 9h1v2h-1zM43 9h1v1h-1zM44 9h3v2h-3zM3 10h3v1h-3zM11 10h3v1h-3zM14 10h1v2h-1zM15 10h1v2h-1zM30 10h2v1h-2zM37 10h2v1h-2zM13 11h3v1h-3zM22 11h1v1h-1zM23 12h3v2h-3zM33 12h1v1h-1zM45 12h2v1h-2zM0 13h1v2h-1zM2 13h1v1h-1zM3 13h1v2h-1zM37 13h1v1h-1zM46 13h1v1h-1zM12 14h2v1h-2zM33 14h2v1h-2zM14 15h1v1h-1zM20 15h1v1h-1zM23 15h1v1h-1zM28 15h1v1h-1zM29 15h1v2h-1zM10 16h2v1h-2zM21 16h2v2h-2zM43 16h1v1h-1zM6 17h3v1h-3zM11 17h2v2h-2zM30 17h1v2h-1zM34 17h1v1h-1zM1 18h1v2h-1zM31 18h2v1h-2zM45 18h1v1h-1zM7 19h1v1h-1zM32 19h2v2h-2zM31 21h1v1h-1zM19 22h3v1h-3zM31 22h1v2h-1zM38 22h1v1h-1zM2 23h3v1h-3zM14 23h2v1h-2zM16 23h3v1h-3zM19 23h1v2h-1zM22 23h3v2h-3zM34 23h1v1h-1zM42 23h1v2h-1zM7 24h1v2h-1zM12 24h2v2h-2zM14 24h1v2h-1zM15 24h1v1h-1zM31 24h1v2h-1zM5 25h1v2h-1zM26 25h1v2h-1zM32 25h3v2h-3zM41 25h3v2h-3zM24 26h1v2h-1zM31 26h1v2h-1zM33 26h2v1h-2zM5 27h2v2h-2zM21 27h1v1h-1zM24 27h1v2h-1zM4 28h3v2h-3zM7 28h1v2h-1zM19 28h1v2h-1zM21 28h1v1h-1zM32 28h2v1h-2zM43 28h1v1h-1zM18 29h1v1h-1zM28 29h3v2h-3zM33 29h1v1h-1zM2 30h1v2h-1zM17 30h1v1h-1zM18 30h1v2h-1zM43 30h1v2h-1zM45 30h1v2h-1zM8 31h2v1h-2zM27 31h1v1h-1zM39 31h1v1h-1zM46 31h1v2h-1zM1 32h1v1h-1zM13 32h1v1h-1zM17 32h1v2h-1zM40 32h3v2h-3zM10 34h1v2h-1zM12 34h1v2h-1zM40 34h2v1h-2zM2 35h3v1h-3zM10 35h2v2h-2zM12 35h2v1h-2zM36 35h1v2h-1zM41 35h2v1h-2zM3 36h1v2h-1zM5 36h2v2h-2zM26 36h3v2h-3zM36 36h1v2h-1zM16 37h1v1h-1zM24 37h1v1h-1zM46 37h1v2h-1zM2 38h1v1h-1zM3 38h3v1h-3zM12 38h1v1h-1zM14 38h3v2h-3zM29 38h1v1h-1zM27 39h3v2h-3zM33 39h3v2h-3zM21 40h2v2h-2zM44 40h1v2h-1zM1 41h2v2h-2zM11 41h1v2h-1zM5 42h1v1h-1zM7 42h2v1h-2zM14 42h1v2h-1zM24 42h1v2h-1zM35 42h1v2h-1zM2 43h1v2h-1zM12 43h1v1h-1zM21 43h1v1h-1zM41 43h3v2h-3zM13 44h1v1h-1zM37 44h1v1h-1zM42 44h3v2h-3zM46 44h1v1h-1zM4 45h1v1h-1zM12 45h2v1h-2zM15 45h2v1h-2zM42 45h2v1h-2zM10 46h3v1h-3zM32 46h1v1h-1zM37 46h1v1h-1z"/><path fill="#e4ded2" d="M32 1h1v2h-1zM38 1h1v1h-1zM7 2h2v2h-2zM25 2h2v1h-2zM39 2h1v2h-1zM41 2h3v2h-3zM19 3h1v1h-1zM27 3h1v1h-1zM13 4h1v2h-1zM8 5h3v1h-3zM15 6h1v1h-1zM17 6h1v1h-1zM31 6h3v1h-3zM10 7h1v1h-1zM30 7h3v1h-3zM39 8h3v2h-3zM14 9h1v1h-1zM17 9h1v2h-1zM0 11h3v2h-3zM11 11h2v2h-2zM34 11h2v2h-2zM38 11h2v2h-2zM17 12h2v1h-2zM20 12h1v2h-1zM37 12h3v1h-3zM20 13h1v2h-1zM3 14h1v2h-1zM46 14h1v2h-1zM29 16h3v2h-3zM1 17h3v1h-3zM4 17h1v2h-1zM9 17h1v1h-1zM10 17h1v1h-1zM17 17h1v1h-1zM31 17h1v2h-1zM45 17h1v1h-1zM5 18h2v2h-2zM16 18h1v1h-1zM33 18h2v2h-2zM24 19h1v2h-1zM27 19h2v2h-2zM41 19h1v2h-1zM11 20h1v2h-1zM15 20h1v2h-1zM21 20h1v1h-1zM45 20h2v1h-2zM14 21h1v1h-1zM33 21h2v2h-2zM40 21h3v2h-3zM43 22h1v2h-1zM12 23h2v1h-2zM5 24h1v2h-1zM25 24h1v1h-1zM33 24h3v2h-3zM26 27h3v2h-3zM18 28h1v1h-1zM44 28h1v2h-1zM10 29h3v1h-3zM26 29h1v1h-1zM27 29h1v1h-1zM6 30h1v2h-1zM21 30h1v2h-1zM23 30h2v1h-2zM31 30h1v2h-1zM1 31h2v2h-2zM14 31h3v1h-3zM20 31h2v2h-2zM25 31h1v2h-1zM33 31h2v2h-2zM24 32h1v1h-1zM30 32h1v2h-1zM31 32h1v2h-1zM5 33h3v2h-3zM12 33h3v1h-3zM34 33h2v1h-2zM38 33h1v2h-1zM39 33h2v1h-2zM0 34h3v2h-3zM46 34h1v1h-1zM0 36h2v2h-2zM13 36h2v2h-2zM33 36h1v2h-1zM41 36h1v2h-1zM43 36h1v1h-1zM45 36h1v1h-1zM1 37h2v1h-2zM12 37h3v2h-3zM15 37h1v2h-1zM30 38h3v1h-3zM42 38h2v1h-2zM45 39h1v1h-1zM0 40h2v1h-2zM4 40h2v1h-2zM40 40h1v2h-1zM18 41h1v1h-1zM22 41h1v1h-1zM31 41h2v2h-2zM37 41h1v2h-1zM33 42h1v1h-1zM36 42h1v1h-1zM33 43h2v1h-2zM9 44h3v2h-3zM35 46h2v1h-2zM40 46h1v1h-1z"/><path fill="#ffffff" d="M5 0h1v2h-1zM23 0h1v2h-1zM43 0h3v1h-3zM24 1h2v2h-2zM39 1h2v2h-2zM4 2h1v1h-1zM17 2h1v1h-1zM28 2h1v1h-1zM40 2h1v1h-1zM23 3h3v2h-3zM28 3h1v2h-1zM31 3h1v1h-1zM40 3h1v1h-1zM45 3h1v1h-1zM5 4h2v2h-2zM7 4h3v1h-3zM23 4h2v1h-2zM41 4h2v1h-2zM1 5h2v1h-2zM5 5h1v1h-1zM6 5h2v2h-2zM24 5h1v1h-1zM7 6h2v1h-2zM20 6h3v2h-3zM29 6h2v1h-2zM40 6h2v2h-2zM44 6h2v1h-2zM3 7h1v1h-1zM17 7h2v2h-2zM19 7h2v2h-2zM20 8h1v2h-1zM31 8h2v1h-2zM1 10h1v1h-1zM18 10h1v2h-1zM21 10h1v1h-1zM25 10h1v1h-1zM25 11h1v2h-1zM37 11h1v2h-1zM46 11h1v1h-1zM22 12h1v2h-1zM35 12h1v2h-1zM12 13h1v2h-1zM13 13h1v2h-1zM21 13h1v1h-1zM29 13h1v2h-1zM32 13h2v2h-2zM39 13h1v1h-1zM9 14h1v2h-1zM20 14h2v1h-2zM22 14h3v2h-3zM25 14h2v2h-2zM27 14h3v1h-3zM31 14h2v1h-2zM35 14h1v1h-1zM36 14h3v1h-3zM0 15h3v1h-3zM5 15h1v2h-1zM26 15h2v1h-2zM30 15h1v1h-1zM45 15h1v2h-1zM46 15h1v2h-1zM1 16h1v1h-1zM23 16h1v2h-1zM46 16h1v1h-1zM15 17h1v1h-1zM26 17h3v2h-3zM41 17h2v2h-2zM8 18h1v2h-1zM12 18h3v1h-3zM21 18h1v1h-1zM39 18h1v2h-1zM44 18h1v1h-1zM12 19h1v2h-1zM20 19h1v2h-1zM21 19h1v1h-1zM9 20h1v1h-1zM12 20h2v1h-2zM18 20h1v2h-1zM24 20h2v1h-2zM34 20h1v2h-1zM36 20h3v1h-3zM40 20h2v2h-2zM36 21h3v1h-3zM46 21h1v2h-1zM7 22h1v1h-1zM32 22h1v1h-1zM33 22h1v1h-1zM45 22h2v1h-2zM21 23h1v2h-1zM25 23h2v1h-2zM38 23h1v2h-1zM40 23h2v2h-2zM28 24h2v2h-2zM45 24h2v1h-2zM2 25h2v2h-2zM9 25h1v1h-1zM29 25h1v2h-1zM30 25h1v1h-1zM46 25h1v2h-1zM2 26h3v1h-3zM21 26h1v1h-1zM26 26h1v2h-1zM45 26h1v1h-1zM3 27h1v1h-1zM42 27h1v2h-1zM2 28h1v2h-1zM23 28h1v1h-1zM24 28h2v2h-2zM28 28h1v1h-1zM29 28h3v1h-3zM34 28h1v2h-1zM3 29h2v1h-2zM5 29h2v1h-2zM7 29h2v1h-2zM34 29h3v2h-3zM43 29h3v2h-3zM1 30h1v2h-1zM25 30h1v2h-1zM3 32h1v2h-1zM37 32h1v1h-1zM38 32h1v1h-1zM43 32h2v1h-2zM9 33h2v1h-2zM42 33h1v2h-1zM43 33h2v1h-2zM8 34h1v1h-1zM24 34h2v1h-2zM35 34h1v2h-1zM20 35h1v2h-1zM33 35h1v2h-1zM39 35h1v2h-1zM24 36h1v2h-1zM7 37h3v1h-3zM39 37h1v1h-1zM26 38h2v1h-2zM44 38h1v2h-1zM46 38h1v2h-1zM1 39h1v1h-1zM4 39h1v1h-1zM5 39h1v1h-1zM20 39h2v1h-2zM23 39h1v1h-1zM19 40h1v1h-1zM26 40h1v1h-1zM3 41h3v2h-3zM41 41h1v2h-1zM2 42h1v2h-1zM9 42h1v1h-1zM16 42h1v1h-1zM42 42h1v1h-1zM6 43h1v1h-1zM8 43h1v1h-1zM9 43h3v1h-3zM15 43h1v1h-1zM20 43h1v1h-1zM35 43h3v1h-3zM38 43h3v2h-3zM36 44h1v2h-1zM41 44h1v1h-1zM5 45h1v2h-1zM32 45h1v2h-1zM34 45h3v1h-3zM37 45h1v2h-1zM4 46h1v1h-1zM18 46h1v1h-1zM20 46h1v1h-1zM21 46h1v1h-1z"/></pattern>
<pattern id="pR2" width="43" height="43" patternUnits="userSpaceOnUse"><path fill="#ff2200" d="M1 0h2v2h-2zM9 0h3v1h-3zM12 0h1v2h-1zM14 0h1v1h-1zM15 0h1v1h-1zM20 0h2v1h-2zM26 0h1v2h-1zM2 1h1v1h-1zM4 1h1v2h-1zM21 1h1v2h-1zM22 1h3v1h-3zM26 1h2v2h-2zM30 1h1v2h-1zM14 2h2v1h-2zM19 2h2v2h-2zM21 2h1v1h-1zM22 2h1v1h-1zM28 2h1v2h-1zM30 2h1v1h-1zM31 2h3v2h-3zM40 2h1v1h-1zM41 2h2v1h-2zM1 3h1v1h-1zM7 3h1v1h-1zM15 3h1v2h-1zM16 3h1v2h-1zM17 3h1v1h-1zM19 3h2v2h-2zM25 3h1v2h-1zM30 3h2v2h-2zM37 3h2v2h-2zM12 4h2v1h-2zM23 4h1v2h-1zM24 4h3v2h-3zM36 4h2v1h-2zM39 4h1v1h-1zM9 5h1v1h-1zM11 5h2v1h-2zM15 5h1v1h-1zM35 5h1v2h-1zM5 6h1v2h-1zM9 6h2v2h-2zM12 6h1v1h-1zM16 6h3v2h-3zM24 6h1v2h-1zM30 6h2v1h-2zM38 6h1v2h-1zM42 6h1v2h-1zM5 7h2v1h-2zM12 7h1v1h-1zM15 7h1v2h-1zM16 7h2v1h-2zM19 7h1v2h-1zM31 7h1v1h-1zM33 7h3v1h-3zM41 7h2v2h-2zM8 8h1v1h-1zM11 8h1v1h-1zM12 8h1v1h-1zM22 8h2v1h-2zM28 8h1v1h-1zM36 8h3v1h-3zM10 9h3v1h-3zM14 9h3v2h-3zM18 9h3v1h-3zM21 9h1v2h-1zM23 9h2v1h-2zM28 9h1v2h-1zM31 9h1v1h-1zM35 9h3v2h-3zM41 9h1v1h-1zM4 10h1v2h-1zM6 10h1v2h-1zM7 10h1v2h-1zM18 10h1v1h-1zM22 10h2v2h-2zM34 10h2v2h-2zM36 10h3v1h-3zM41 10h2v2h-2zM0 11h2v2h-2zM4 11h2v1h-2zM8 11h1v1h-1zM9 11h1v1h-1zM14 11h1v2h-1zM19 11h2v1h-2zM22 11h1v1h-1zM29 11h1v2h-1zM32 11h1v2h-1zM33 11h1v2h-1zM42 11h1v2h-1zM6 12h2v2h-2zM9 12h1v1h-1zM14 12h1v2h-1zM15 12h2v1h-2zM17 12h2v1h-2zM24 12h1v1h-1zM38 12h2v1h-2zM18 13h1v2h-1zM19 13h3v1h-3zM38 13h2v2h-2zM3 14h1v1h-1zM4 14h3v1h-3zM26 14h1v1h-1zM32 14h2v2h-2zM35 14h1v2h-1zM15 15h1v1h-1zM16 15h1v2h-1zM19 15h1v1h-1zM25 15h1v2h-1zM32 15h3v1h-3zM36 15h1v1h-1zM2 16h1v1h-1zM10 16h1v2h-1zM20 16h1v2h-1zM21 16h1v2h-1zM25 16h2v1h-2zM27 16h3v1h-3zM31 16h2v1h-2zM1 17h2v1h-2zM7 17h1v2h-1zM8 17h1v1h-1zM9 17h1v1h-1zM10 17h3v1h-3zM26 17h1v2h-1zM34 17h3v1h-3zM0 18h3v2h-3zM6 18h1v1h-1zM9 18h1v1h-1zM10 18h1v1h-1zM15 18h3v2h-3zM19 18h2v1h-2zM22 18h1v1h-1zM23 18h2v1h-2zM25 18h2v2h-2zM1 19h2v1h-2zM5 19h1v2h-1zM6 19h1v2h-1zM13 19h1v1h-1zM14 19h2v2h-2zM17 19h1v2h-1zM18 19h1v1h-1zM20 19h1v2h-1zM23 19h1v1h-1zM24 19h1v2h-1zM33 19h1v1h-1zM34 19h2v2h-2zM36 19h3v2h-3zM2 20h1v1h-1zM5 20h1v2h-1zM6 20h1v1h-1zM12 20h1v1h-1zM17 20h3v2h-3zM22 20h2v1h-2zM28 20h1v1h-1zM0 21h1v1h-1zM6 21h1v1h-1zM9 21h2v1h-2zM15 21h1v1h-1zM23 21h3v1h-3zM32 21h1v1h-1zM35 21h2v2h-2zM0 22h1v1h-1zM6 22h2v2h-2zM10 22h1v1h-1zM16 22h1v1h-1zM18 22h1v2h-1zM23 22h1v1h-1zM26 22h2v2h-2zM28 22h1v2h-1zM34 22h1v1h-1zM40 22h1v1h-1zM5 23h2v1h-2zM9 23h2v2h-2zM19 23h1v2h-1zM23 23h1v2h-1zM31 23h1v2h-1zM2 24h1v1h-1zM5 24h1v2h-1zM13 24h1v1h-1zM25 24h1v1h-1zM27 24h1v2h-1zM41 24h1v1h-1zM0 25h1v2h-1zM1 25h2v2h-2zM10 25h1v2h-1zM12 25h1v1h-1zM31 25h1v2h-1zM3 26h1v2h-1zM7 26h1v2h-1zM9 26h2v1h-2zM31 26h1v2h-1zM33 26h1v1h-1zM34 26h2v1h-2zM38 26h1v1h-1zM6 27h3v1h-3zM17 27h1v1h-1zM25 27h1v1h-1zM9 28h2v2h-2zM11 28h2v2h-2zM15 28h1v2h-1zM33 28h1v2h-1zM41 28h1v1h-1zM9 29h1v2h-1zM12 29h2v2h-2zM15 29h2v2h-2zM24 29h1v1h-1zM29 29h2v1h-2zM41 29h2v1h-2zM1 30h1v2h-1zM11 30h1v1h-1zM13 30h1v1h-1zM17 30h1v2h-1zM20 30h1v2h-1zM33 30h1v1h-1zM38 30h2v2h-2zM40 30h2v2h-2zM1 31h3v2h-3zM8 31h1v1h-1zM10 31h1v2h-1zM20 31h2v2h-2zM34 31h1v2h-1zM41 31h1v2h-1zM42 31h1v2h-1zM9 32h3v1h-3zM12 32h1v1h-1zM13 32h1v2h-1zM15 32h3v2h-3zM19 32h1v2h-1zM34 32h1v1h-1zM35 32h1v1h-1zM8 33h1v2h-1zM18 33h1v1h-1zM23 33h1v2h-1zM24 33h3v1h-3zM27 33h1v2h-1zM31 33h1v2h-1zM38 33h2v1h-2zM0 34h2v2h-2zM2 34h1v1h-1zM7 34h1v1h-1zM8 34h1v2h-1zM27 34h1v2h-1zM29 34h1v2h-1zM30 34h1v1h-1zM36 34h1v2h-1zM1 35h3v2h-3zM7 35h1v2h-1zM20 35h1v2h-1zM24 35h1v1h-1zM25 35h2v2h-2zM42 35h1v1h-1zM2 36h1v2h-1zM4 36h1v2h-1zM12 36h3v1h-3zM22 36h1v1h-1zM26 36h1v2h-1zM28 36h1v1h-1zM29 36h1v1h-1zM30 36h1v2h-1zM31 36h2v1h-2zM0 37h2v1h-2zM2 37h1v1h-1zM11 37h1v2h-1zM13 37h1v1h-1zM14 37h1v2h-1zM15 37h1v2h-1zM16 37h2v2h-2zM33 37h2v2h-2zM39 37h1v2h-1zM19 38h1v2h-1zM29 38h3v1h-3zM35 38h1v2h-1zM3 39h3v2h-3zM10 39h1v2h-1zM14 39h1v1h-1zM17 39h1v1h-1zM18 39h3v1h-3zM30 39h2v1h-2zM33 39h1v1h-1zM38 39h2v1h-2zM10 40h1v1h-1zM26 40h1v1h-1zM33 40h1v1h-1zM37 40h2v1h-2zM41 40h1v2h-1zM5 41h3v1h-3zM13 41h2v1h-2zM18 41h1v2h-1zM23 41h3v2h-3zM30 41h2v2h-2zM2 42h2v1h-2zM12 42h1v1h-1zM26 42h1v1h-1zM32 42h2v1h-2zM37 42h1v1h-1zM42 42h1v1h-1z"/><path fill="#ff8a00" d="M5 0h2v2h-2zM18 0h2v2h-2zM22 0h1v2h-1zM29 0h2v1h-2zM31 0h3v2h-3zM38 0h1v2h-1zM41 0h2v1h-2zM5 1h2v1h-2zM15 1h1v1h-1zM19 1h1v1h-1zM4 2h2v2h-2zM16 2h2v1h-2zM25 2h1v2h-1zM27 2h1v2h-1zM37 2h1v1h-1zM38 2h1v1h-1zM13 3h2v2h-2zM21 3h1v1h-1zM22 3h3v1h-3zM26 3h1v2h-1zM27 3h1v2h-1zM40 3h2v1h-2zM42 3h1v1h-1zM7 4h1v2h-1zM8 4h1v2h-1zM14 4h1v2h-1zM17 4h2v2h-2zM21 4h2v1h-2zM33 4h2v2h-2zM38 4h1v1h-1zM42 4h1v1h-1zM10 5h1v1h-1zM16 5h2v2h-2zM22 5h2v1h-2zM36 5h1v2h-1zM40 5h2v2h-2zM0 6h1v2h-1zM3 6h1v2h-1zM6 6h3v1h-3zM11 6h1v2h-1zM13 6h1v1h-1zM28 6h1v1h-1zM35 6h1v1h-1zM13 7h1v2h-1zM14 7h1v2h-1zM22 7h2v1h-2zM30 7h1v2h-1zM5 8h2v1h-2zM9 8h2v2h-2zM13 8h3v1h-3zM0 9h1v2h-1zM1 9h1v2h-1zM2 9h2v2h-2zM4 9h3v2h-3zM13 9h1v1h-1zM25 9h1v2h-1zM39 9h1v1h-1zM40 9h1v1h-1zM0 10h1v1h-1zM1 10h1v1h-1zM5 10h1v1h-1zM13 10h1v2h-1zM15 10h1v2h-1zM31 10h1v2h-1zM39 10h1v2h-1zM21 11h1v1h-1zM23 11h1v2h-1zM24 11h1v1h-1zM38 11h1v2h-1zM39 11h3v1h-3zM0 12h3v2h-3zM20 12h1v1h-1zM22 12h1v1h-1zM25 12h3v2h-3zM31 12h3v1h-3zM2 13h1v2h-1zM5 13h1v1h-1zM7 13h1v1h-1zM13 13h1v2h-1zM15 13h1v1h-1zM16 13h2v1h-2zM22 13h1v1h-1zM33 13h3v2h-3zM36 13h1v1h-1zM1 14h2v1h-2zM10 14h1v1h-1zM14 14h2v1h-2zM17 14h1v2h-1zM18 14h1v1h-1zM19 14h2v2h-2zM22 14h1v2h-1zM27 14h3v2h-3zM34 14h1v2h-1zM39 14h2v1h-2zM5 15h1v1h-1zM6 15h2v1h-2zM8 15h3v1h-3zM13 15h2v1h-2zM24 15h1v2h-1zM26 15h1v1h-1zM27 15h3v1h-3zM31 15h1v1h-1zM41 15h2v1h-2zM36 16h2v2h-2zM40 16h1v2h-1zM42 16h1v2h-1zM4 17h2v1h-2zM16 17h1v2h-1zM20 17h2v2h-2zM24 17h2v2h-2zM27 17h1v2h-1zM29 17h3v1h-3zM38 17h1v1h-1zM3 18h1v2h-1zM8 18h1v1h-1zM11 18h1v1h-1zM36 18h1v1h-1zM42 18h1v1h-1zM0 19h1v2h-1zM4 19h1v2h-1zM39 19h2v1h-2zM8 20h1v2h-1zM14 20h3v2h-3zM24 20h1v2h-1zM32 20h1v2h-1zM33 20h1v1h-1zM8 21h1v2h-1zM13 21h1v2h-1zM26 21h2v1h-2zM41 21h2v1h-2zM1 22h3v2h-3zM11 22h1v1h-1zM17 22h1v1h-1zM25 22h1v1h-1zM37 22h1v2h-1zM38 22h1v1h-1zM39 22h1v2h-1zM41 22h2v1h-2zM0 23h1v2h-1zM12 23h2v1h-2zM17 23h1v2h-1zM24 23h1v1h-1zM25 23h2v1h-2zM40 23h1v1h-1zM41 23h1v1h-1zM4 24h1v1h-1zM10 24h3v2h-3zM17 24h3v1h-3zM21 24h2v1h-2zM26 24h1v2h-1zM29 24h3v1h-3zM32 24h2v1h-2zM34 24h3v2h-3zM3 25h3v1h-3zM8 25h2v1h-2zM17 25h1v1h-1zM20 25h2v1h-2zM22 25h1v1h-1zM25 25h1v1h-1zM27 25h3v1h-3zM35 25h1v1h-1zM4 26h1v1h-1zM6 26h1v2h-1zM8 26h1v2h-1zM18 26h1v1h-1zM19 26h2v1h-2zM21 26h2v1h-2zM24 26h1v2h-1zM25 26h1v2h-1zM27 26h1v1h-1zM1 27h3v1h-3zM23 27h1v1h-1zM26 27h3v1h-3zM29 27h3v2h-3zM34 27h1v1h-1zM38 27h1v1h-1zM4 28h3v2h-3zM17 28h2v2h-2zM34 28h2v2h-2zM37 28h2v1h-2zM8 29h1v2h-1zM10 29h2v1h-2zM14 29h1v1h-1zM17 29h1v1h-1zM25 29h1v1h-1zM0 30h1v1h-1zM9 30h1v2h-1zM14 30h3v1h-3zM18 30h1v1h-1zM22 30h1v2h-1zM37 30h1v1h-1zM0 31h1v1h-1zM35 31h2v2h-2zM37 31h2v2h-2zM39 31h1v1h-1zM1 32h1v1h-1zM2 32h2v1h-2zM6 32h2v2h-2zM27 32h1v1h-1zM37 32h2v2h-2zM0 33h2v1h-2zM2 33h2v2h-2zM16 33h1v2h-1zM28 33h2v2h-2zM33 33h3v1h-3zM36 33h1v1h-1zM37 33h1v2h-1zM4 34h1v1h-1zM5 34h1v1h-1zM18 34h3v2h-3zM21 34h2v1h-2zM28 34h1v2h-1zM37 34h1v1h-1zM38 34h3v1h-3zM13 35h2v1h-2zM27 35h1v1h-1zM40 35h2v2h-2zM3 36h1v2h-1zM5 36h1v1h-1zM6 36h1v2h-1zM19 36h1v1h-1zM24 36h1v1h-1zM37 36h1v1h-1zM42 36h1v1h-1zM4 37h3v2h-3zM20 37h2v2h-2zM22 37h1v1h-1zM27 37h1v1h-1zM29 37h1v2h-1zM2 38h2v1h-2zM4 38h2v1h-2zM6 38h1v2h-1zM8 38h2v1h-2zM10 38h1v1h-1zM11 38h1v2h-1zM12 38h2v2h-2zM14 38h2v2h-2zM16 38h1v1h-1zM20 38h1v1h-1zM28 38h1v1h-1zM33 38h1v2h-1zM36 38h2v2h-2zM40 38h3v1h-3zM7 39h1v1h-1zM9 39h1v2h-1zM11 39h3v2h-3zM24 39h3v2h-3zM32 39h1v1h-1zM42 39h1v2h-1zM4 40h1v2h-1zM7 40h1v2h-1zM20 40h2v2h-2zM29 40h3v2h-3zM32 40h1v2h-1zM39 40h2v1h-2zM9 41h1v1h-1zM12 41h1v2h-1zM21 41h1v2h-1zM37 41h3v2h-3zM41 41h1v2h-1zM4 42h1v1h-1zM15 42h2v1h-2zM21 42h1v1h-1zM22 42h3v1h-3zM38 42h2v1h-2zM40 42h1v1h-1z"/><path fill="#ffcc00" d="M3 0h2v2h-2zM23 0h1v1h-1zM27 0h2v1h-2zM35 0h2v1h-2zM3 1h1v2h-1zM12 1h1v2h-1zM17 1h2v2h-2zM29 1h1v2h-1zM31 1h3v1h-3zM41 1h2v1h-2zM2 2h2v2h-2zM6 2h3v1h-3zM23 2h1v2h-1zM39 2h1v2h-1zM2 3h2v1h-2zM4 3h1v1h-1zM5 3h1v1h-1zM6 3h1v1h-1zM11 3h1v1h-1zM18 3h1v1h-1zM0 4h1v2h-1zM3 4h1v2h-1zM5 4h2v1h-2zM28 4h2v2h-2zM31 4h1v1h-1zM32 4h1v1h-1zM3 5h1v1h-1zM6 5h1v2h-1zM26 5h2v2h-2zM31 5h3v2h-3zM34 5h1v2h-1zM14 6h2v2h-2zM26 6h2v1h-2zM29 6h1v1h-1zM32 6h3v2h-3zM39 6h1v1h-1zM4 7h1v2h-1zM10 7h2v2h-2zM27 7h3v2h-3zM32 7h1v2h-1zM4 8h1v1h-1zM16 8h2v1h-2zM29 8h1v1h-1zM30 8h3v2h-3zM33 8h3v2h-3zM41 8h2v2h-2zM22 9h1v1h-1zM26 9h1v1h-1zM29 9h2v2h-2zM32 9h2v2h-2zM34 9h1v2h-1zM42 9h1v1h-1zM16 10h2v1h-2zM24 10h1v2h-1zM26 10h1v2h-1zM27 10h2v2h-2zM6 11h1v2h-1zM15 11h2v2h-2zM34 11h1v2h-1zM37 11h1v2h-1zM40 12h1v1h-1zM41 12h2v1h-2zM0 13h2v1h-2zM8 13h1v2h-1zM24 13h1v2h-1zM25 13h3v2h-3zM41 13h2v2h-2zM23 14h1v2h-1zM41 14h2v1h-2zM23 15h1v2h-1zM30 15h1v1h-1zM35 15h1v1h-1zM0 16h2v2h-2zM4 16h3v1h-3zM7 16h1v1h-1zM11 16h1v2h-1zM12 16h1v1h-1zM18 16h1v2h-1zM23 16h2v1h-2zM34 16h1v2h-1zM6 17h1v2h-1zM13 17h1v2h-1zM28 17h1v2h-1zM7 18h1v2h-1zM29 18h1v2h-1zM31 18h1v1h-1zM39 18h3v2h-3zM3 19h1v2h-1zM19 19h1v2h-1zM30 19h1v1h-1zM32 19h1v1h-1zM41 19h2v1h-2zM10 20h2v2h-2zM13 20h1v1h-1zM34 20h1v2h-1zM14 21h1v2h-1zM16 21h2v2h-2zM18 21h2v2h-2zM37 21h3v1h-3zM40 21h1v1h-1zM8 22h2v2h-2zM14 22h2v1h-2zM24 22h1v2h-1zM32 22h2v2h-2zM35 22h2v1h-2zM1 23h3v1h-3zM16 23h1v1h-1zM18 23h1v2h-1zM21 23h2v1h-2zM27 23h3v1h-3zM32 23h1v1h-1zM36 23h3v2h-3zM0 24h2v1h-2zM7 24h3v2h-3zM14 24h3v2h-3zM28 24h1v2h-1zM26 25h1v1h-1zM32 25h1v1h-1zM33 25h1v2h-1zM36 25h1v1h-1zM2 26h1v1h-1zM23 26h1v2h-1zM26 26h1v1h-1zM28 26h2v2h-2zM39 26h1v2h-1zM42 26h1v2h-1zM0 27h1v2h-1zM5 27h1v2h-1zM9 27h1v2h-1zM11 27h2v1h-2zM20 27h2v2h-2zM42 27h1v2h-1zM13 28h2v1h-2zM16 28h1v2h-1zM22 28h3v1h-3zM26 28h3v2h-3zM30 28h3v2h-3zM36 28h1v1h-1zM42 28h1v2h-1zM0 29h1v2h-1zM1 29h1v2h-1zM4 29h1v1h-1zM18 29h1v1h-1zM27 29h2v1h-2zM31 29h1v2h-1zM32 29h3v1h-3zM35 29h1v2h-1zM36 29h1v1h-1zM37 29h1v2h-1zM38 29h3v1h-3zM12 30h1v2h-1zM34 30h2v1h-2zM36 30h1v1h-1zM42 30h1v1h-1zM4 31h2v2h-2zM11 31h1v1h-1zM13 31h2v2h-2zM17 31h1v1h-1zM18 31h2v1h-2zM22 31h2v2h-2zM28 31h2v2h-2zM33 31h1v1h-1zM0 32h1v1h-1zM18 32h1v1h-1zM20 32h2v1h-2zM36 32h1v2h-1zM5 33h3v1h-3zM9 33h1v1h-1zM12 33h2v2h-2zM19 33h3v1h-3zM6 34h1v2h-1zM14 34h2v1h-2zM23 34h2v2h-2zM26 34h1v2h-1zM35 34h1v1h-1zM4 35h2v1h-2zM9 35h1v2h-1zM17 35h3v1h-3zM21 35h2v2h-2zM23 35h1v2h-1zM38 35h1v2h-1zM1 36h1v2h-1zM9 36h3v2h-3zM20 36h2v1h-2zM39 36h1v2h-1zM3 37h1v1h-1zM7 37h2v2h-2zM30 37h3v1h-3zM36 37h1v2h-1zM37 37h2v2h-2zM0 38h1v1h-1zM7 38h1v2h-1zM17 38h1v1h-1zM0 39h1v2h-1zM6 39h1v2h-1zM8 39h1v1h-1zM34 39h1v1h-1zM36 39h1v2h-1zM37 39h1v1h-1zM0 40h1v2h-1zM11 40h3v2h-3zM19 40h1v1h-1zM34 40h3v2h-3zM42 40h1v2h-1zM4 41h1v2h-1zM8 41h1v1h-1zM10 41h2v2h-2zM16 41h1v1h-1zM19 41h1v1h-1zM20 41h1v2h-1zM27 41h2v2h-2zM29 41h1v2h-1zM32 41h1v2h-1zM10 42h2v1h-2zM14 42h1v1h-1zM28 42h1v1h-1zM30 42h1v1h-1zM35 42h2v1h-2z"/><path fill="#e00000" d="M39 0h2v2h-2zM20 1h1v1h-1zM37 1h2v1h-2zM39 1h2v1h-2zM9 4h3v2h-3zM40 4h1v2h-1zM7 5h1v2h-1zM28 5h3v2h-3zM37 5h1v2h-1zM38 5h2v2h-2zM20 6h1v1h-1zM36 6h2v2h-2zM7 7h3v2h-3zM20 7h2v2h-2zM38 7h1v2h-1zM19 8h2v2h-2zM21 8h1v1h-1zM19 10h3v2h-3zM40 10h1v1h-1zM34 12h2v2h-2zM40 13h1v1h-1zM7 14h3v2h-3zM11 14h3v2h-3zM24 14h2v2h-2zM18 15h1v2h-1zM8 16h2v2h-2zM16 16h1v2h-1zM30 16h1v1h-1zM33 17h1v1h-1zM40 17h1v1h-1zM4 18h2v1h-2zM12 18h3v1h-3zM35 18h1v1h-1zM11 19h1v2h-1zM0 20h2v1h-2zM36 20h1v1h-1zM40 20h3v1h-3zM21 21h1v2h-1zM33 21h2v1h-2zM20 23h1v1h-1zM0 26h2v1h-2zM5 26h1v1h-1zM19 27h1v1h-1zM35 27h1v1h-1zM1 28h2v1h-2zM5 30h1v1h-1zM8 30h1v1h-1zM9 31h1v2h-1zM15 31h2v2h-2zM23 32h2v2h-2zM41 33h1v2h-1zM3 34h1v1h-1zM33 34h2v2h-2zM10 35h2v2h-2zM28 35h3v2h-3zM16 36h2v1h-2zM35 36h2v1h-2zM12 37h1v2h-1zM24 37h2v1h-2zM21 38h3v1h-3zM15 39h2v1h-2zM35 39h1v2h-1zM15 41h1v2h-1zM17 41h1v2h-1zM34 41h3v2h-3zM8 42h1v1h-1zM19 42h2v1h-2zM27 42h1v1h-1z"/></pattern>
<pattern id="pY" width="61" height="61" patternUnits="userSpaceOnUse"><path fill="#ffd21a" d="M22 1h3v1h-3zM38 1h1v1h-1zM2 2h1v2h-1zM15 2h2v2h-2zM36 2h1v1h-1zM40 2h2v2h-2zM59 4h1v2h-1zM22 5h1v1h-1zM19 6h1v2h-1zM31 6h1v1h-1zM55 7h3v1h-3zM46 8h1v2h-1zM38 9h1v2h-1zM45 9h1v2h-1zM47 9h2v1h-2zM54 9h1v2h-1zM47 10h3v2h-3zM58 10h1v2h-1zM49 12h3v2h-3zM53 13h2v1h-2zM38 14h3v1h-3zM44 14h2v1h-2zM52 14h2v2h-2zM40 15h2v2h-2zM43 15h1v2h-1zM1 16h1v2h-1zM17 16h1v2h-1zM25 16h1v1h-1zM32 16h3v1h-3zM37 16h2v2h-2zM3 17h1v2h-1zM26 17h3v2h-3zM42 17h2v2h-2zM27 19h1v1h-1zM32 19h1v1h-1zM30 20h1v1h-1zM14 21h1v1h-1zM23 21h3v2h-3zM33 21h1v2h-1zM50 24h1v1h-1zM58 25h3v2h-3zM55 26h2v1h-2zM59 26h2v1h-2zM47 27h1v1h-1zM40 28h2v1h-2zM43 28h1v2h-1zM34 29h2v2h-2zM56 29h3v2h-3zM22 32h1v2h-1zM60 32h1v1h-1zM1 33h1v1h-1zM15 33h1v1h-1zM16 34h1v2h-1zM51 34h3v2h-3zM16 35h1v2h-1zM10 36h2v1h-2zM13 36h1v1h-1zM15 36h1v1h-1zM30 36h1v2h-1zM34 38h1v2h-1zM47 38h1v1h-1zM2 39h3v1h-3zM8 39h1v2h-1zM11 39h1v2h-1zM31 39h1v1h-1zM55 39h2v2h-2zM34 40h2v2h-2zM47 41h2v2h-2zM52 41h2v1h-2zM45 42h1v2h-1zM53 42h1v1h-1zM47 43h1v2h-1zM60 44h1v1h-1zM24 45h3v2h-3zM16 46h2v2h-2zM27 47h1v2h-1zM10 48h1v1h-1zM45 48h1v2h-1zM15 49h1v2h-1zM23 49h1v1h-1zM32 49h3v2h-3zM30 50h1v2h-1zM13 51h1v2h-1zM14 51h2v2h-2zM26 51h1v2h-1zM27 51h3v2h-3zM11 52h3v2h-3zM0 54h2v1h-2zM52 54h3v2h-3zM48 55h2v2h-2zM59 55h1v1h-1zM48 56h2v2h-2zM48 57h3v1h-3zM24 58h2v2h-2zM42 58h1v2h-1zM55 58h1v2h-1zM50 59h1v1h-1zM53 59h1v2h-1zM6 60h1v1h-1z"/><path fill="#ffb400" d="M13 1h1v1h-1zM30 1h1v2h-1zM41 1h1v2h-1zM17 2h1v2h-1zM24 2h1v1h-1zM38 2h1v1h-1zM29 4h1v2h-1zM38 4h1v1h-1zM35 6h3v2h-3zM10 7h1v2h-1zM17 7h1v2h-1zM22 7h2v1h-2zM53 7h1v2h-1zM28 8h2v2h-2zM58 8h1v2h-1zM44 9h1v2h-1zM53 9h1v1h-1zM1 10h1v2h-1zM4 10h1v2h-1zM47 11h3v2h-3zM6 12h1v1h-1zM7 12h1v2h-1zM44 13h2v2h-2zM59 15h1v1h-1zM8 16h2v2h-2zM23 20h1v2h-1zM17 21h2v1h-2zM55 21h1v2h-1zM51 22h1v1h-1zM53 22h1v2h-1zM7 24h3v2h-3zM33 24h1v2h-1zM52 24h2v1h-2zM6 25h1v1h-1zM0 26h1v1h-1zM31 26h1v1h-1zM52 26h3v2h-3zM58 26h1v2h-1zM32 28h1v1h-1zM45 28h1v2h-1zM20 29h1v2h-1zM2 30h1v1h-1zM20 32h1v1h-1zM20 33h2v1h-2zM13 34h2v2h-2zM13 35h2v1h-2zM14 36h1v2h-1zM20 36h2v2h-2zM35 36h1v1h-1zM20 37h1v2h-1zM60 38h1v2h-1zM45 39h1v1h-1zM41 40h1v1h-1zM54 40h1v2h-1zM0 41h1v1h-1zM49 41h2v2h-2zM59 42h2v1h-2zM4 43h1v2h-1zM49 43h1v2h-1zM58 43h3v1h-3zM18 44h2v2h-2zM50 45h2v2h-2zM41 48h3v2h-3zM9 53h3v2h-3zM29 53h1v1h-1zM35 53h2v2h-2zM60 53h1v2h-1zM52 56h1v1h-1zM55 56h1v2h-1zM57 56h1v1h-1zM26 58h1v1h-1zM2 59h1v1h-1zM15 59h2v1h-2zM21 59h1v2h-1zM52 59h1v2h-1z"/><path fill="#ffe680" d="M11 1h1v2h-1zM19 1h1v2h-1zM16 3h1v2h-1zM19 7h2v2h-2zM52 8h2v2h-2zM51 9h2v2h-2zM10 10h1v2h-1zM12 10h1v2h-1zM41 12h1v1h-1zM15 16h2v2h-2zM16 18h2v2h-2zM37 21h1v2h-1zM57 24h2v2h-2zM45 25h1v2h-1zM45 26h1v1h-1zM3 27h1v2h-1zM25 28h2v1h-2zM52 28h1v2h-1zM60 28h1v2h-1zM27 31h2v2h-2zM59 32h1v1h-1zM33 35h3v1h-3zM54 35h3v1h-3zM9 37h1v2h-1zM10 38h1v1h-1zM11 38h1v2h-1zM48 39h1v2h-1zM58 41h1v1h-1zM55 42h1v2h-1zM27 43h3v1h-3zM20 44h1v1h-1zM30 44h1v2h-1zM57 46h2v2h-2zM18 47h1v2h-1zM41 50h2v1h-2zM17 52h3v2h-3zM54 52h1v2h-1zM37 53h2v1h-2zM50 56h2v2h-2zM28 57h2v2h-2zM48 58h2v2h-2zM50 58h1v1h-1zM52 58h1v1h-1z"/><path fill="#ff9a00" d="M32 1h1v1h-1zM29 2h3v1h-3zM25 3h2v1h-2zM21 5h1v2h-1zM32 6h1v1h-1zM50 8h1v2h-1zM60 10h1v2h-1zM9 14h1v2h-1zM24 18h2v2h-2zM12 19h2v1h-2zM46 28h1v2h-1zM29 31h1v1h-1zM28 34h1v2h-1zM51 42h2v2h-2zM58 44h2v1h-2zM59 45h2v1h-2zM12 51h1v2h-1zM36 52h1v2h-1zM60 58h1v2h-1z"/></pattern>
<pattern id="pO" width="53" height="53" patternUnits="userSpaceOnUse"><path fill="#ffa000" d="M21 0h2v2h-2zM34 0h1v1h-1zM35 1h1v2h-1zM37 1h1v1h-1zM28 2h2v2h-2zM38 2h2v2h-2zM40 2h1v2h-1zM49 2h1v1h-1zM51 2h1v2h-1zM9 3h2v1h-2zM19 3h2v1h-2zM22 3h2v2h-2zM29 3h1v1h-1zM41 3h1v1h-1zM46 4h2v1h-2zM5 5h3v1h-3zM10 5h1v2h-1zM28 5h1v1h-1zM31 5h1v2h-1zM37 5h1v2h-1zM39 5h3v2h-3zM7 6h1v2h-1zM21 6h1v2h-1zM23 6h1v2h-1zM26 6h1v2h-1zM31 6h3v1h-3zM36 6h1v2h-1zM50 6h1v2h-1zM2 7h1v2h-1zM3 7h1v2h-1zM26 7h1v2h-1zM2 8h1v2h-1zM12 8h1v1h-1zM23 8h1v1h-1zM24 8h1v1h-1zM2 9h2v2h-2zM0 10h2v1h-2zM24 10h1v2h-1zM34 10h1v2h-1zM49 10h1v2h-1zM50 10h1v2h-1zM0 11h1v2h-1zM3 11h1v1h-1zM11 11h3v1h-3zM38 11h2v2h-2zM48 11h3v2h-3zM2 12h2v2h-2zM15 12h1v2h-1zM50 12h2v2h-2zM15 13h2v1h-2zM27 13h1v2h-1zM30 13h1v2h-1zM39 13h1v2h-1zM52 13h1v1h-1zM27 14h1v1h-1zM39 14h3v1h-3zM7 15h1v2h-1zM18 15h1v2h-1zM21 15h1v1h-1zM38 15h2v1h-2zM40 15h1v2h-1zM7 16h3v1h-3zM11 16h3v2h-3zM15 16h1v2h-1zM31 16h1v2h-1zM43 16h1v2h-1zM51 16h1v2h-1zM13 17h2v1h-2zM19 17h3v2h-3zM44 17h1v1h-1zM46 17h1v2h-1zM49 17h2v2h-2zM9 18h1v2h-1zM25 18h1v2h-1zM8 19h1v2h-1zM30 19h1v1h-1zM2 20h1v2h-1zM20 20h3v2h-3zM26 20h3v1h-3zM35 20h2v2h-2zM14 21h3v2h-3zM15 22h1v2h-1zM23 23h2v2h-2zM2 24h1v1h-1zM15 24h2v2h-2zM19 24h1v2h-1zM25 24h1v2h-1zM26 24h2v1h-2zM28 24h2v1h-2zM50 24h2v2h-2zM17 25h1v2h-1zM19 25h1v1h-1zM29 25h3v2h-3zM37 25h1v2h-1zM43 25h2v1h-2zM47 25h1v2h-1zM42 26h2v2h-2zM45 26h1v1h-1zM48 26h2v2h-2zM10 27h3v1h-3zM29 27h3v2h-3zM43 28h3v1h-3zM7 29h1v1h-1zM20 29h2v2h-2zM40 29h1v2h-1zM4 30h1v2h-1zM11 30h1v1h-1zM34 30h1v2h-1zM24 31h3v2h-3zM31 31h1v2h-1zM5 32h1v1h-1zM23 33h2v1h-2zM32 33h1v2h-1zM35 33h1v1h-1zM41 33h1v2h-1zM6 34h1v1h-1zM15 34h1v2h-1zM25 34h1v2h-1zM2 35h3v2h-3zM6 35h1v2h-1zM8 35h1v2h-1zM45 35h3v1h-3zM17 36h2v2h-2zM5 37h1v1h-1zM24 37h3v2h-3zM44 37h1v1h-1zM0 38h2v1h-2zM7 38h1v1h-1zM36 38h1v1h-1zM42 38h1v1h-1zM13 39h1v2h-1zM18 39h1v2h-1zM22 39h3v2h-3zM46 39h1v1h-1zM50 39h1v2h-1zM9 40h1v2h-1zM22 40h1v2h-1zM18 41h1v2h-1zM27 41h1v2h-1zM33 41h3v2h-3zM12 42h2v2h-2zM37 42h2v2h-2zM39 42h1v1h-1zM20 43h2v2h-2zM29 43h1v2h-1zM35 43h3v1h-3zM40 43h3v1h-3zM4 44h1v2h-1zM32 44h1v1h-1zM33 44h2v1h-2zM46 44h1v2h-1zM9 45h1v2h-1zM32 45h1v2h-1zM7 46h1v1h-1zM12 46h2v2h-2zM33 46h2v2h-2zM37 46h3v2h-3zM2 47h1v1h-1zM24 47h1v2h-1zM4 48h1v1h-1zM20 48h3v1h-3zM36 48h2v2h-2zM19 49h2v1h-2zM22 49h1v1h-1zM18 50h1v2h-1zM25 50h2v2h-2zM4 51h2v1h-2zM52 51h1v2h-1zM5 52h2v1h-2zM46 52h3v1h-3z"/><path fill="#ffc800" d="M39 0h1v1h-1zM48 0h1v2h-1zM8 1h1v2h-1zM27 1h3v1h-3zM41 1h1v2h-1zM45 1h1v1h-1zM48 1h2v2h-2zM12 2h2v2h-2zM21 2h1v1h-1zM33 2h2v2h-2zM35 2h2v2h-2zM12 3h1v2h-1zM25 3h1v1h-1zM47 3h1v1h-1zM9 4h1v1h-1zM11 4h1v2h-1zM20 4h1v1h-1zM40 4h1v1h-1zM4 5h1v2h-1zM32 5h1v1h-1zM36 5h1v1h-1zM52 5h1v1h-1zM2 6h1v1h-1zM5 6h1v1h-1zM5 7h1v2h-1zM27 7h2v2h-2zM30 7h1v2h-1zM13 8h1v2h-1zM25 8h1v1h-1zM7 9h2v2h-2zM22 9h1v1h-1zM35 9h2v2h-2zM4 10h3v1h-3zM15 11h1v1h-1zM20 11h2v1h-2zM24 12h2v2h-2zM26 12h1v2h-1zM10 13h2v2h-2zM18 13h3v2h-3zM1 14h1v2h-1zM12 14h2v2h-2zM15 15h1v2h-1zM49 15h2v2h-2zM8 17h1v2h-1zM26 17h1v2h-1zM42 17h2v2h-2zM4 18h3v2h-3zM15 18h2v2h-2zM31 18h3v1h-3zM1 19h3v2h-3zM9 19h1v2h-1zM15 19h1v2h-1zM26 19h1v1h-1zM29 19h1v2h-1zM6 20h1v1h-1zM30 20h1v2h-1zM32 20h1v1h-1zM4 21h2v2h-2zM35 21h1v1h-1zM3 22h1v2h-1zM18 22h1v2h-1zM30 22h1v2h-1zM35 22h1v2h-1zM36 22h1v1h-1zM28 23h2v1h-2zM52 23h1v2h-1zM14 24h1v1h-1zM18 24h1v1h-1zM34 24h1v2h-1zM42 25h1v2h-1zM0 26h1v2h-1zM38 26h1v1h-1zM52 26h1v1h-1zM43 27h2v2h-2zM17 28h2v2h-2zM19 28h3v2h-3zM47 28h1v1h-1zM49 28h3v2h-3zM11 29h1v1h-1zM41 29h1v1h-1zM48 29h3v2h-3zM8 30h2v2h-2zM10 30h1v2h-1zM7 32h1v2h-1zM9 32h3v1h-3zM23 32h1v2h-1zM32 32h1v2h-1zM2 33h1v2h-1zM7 33h1v2h-1zM36 33h1v2h-1zM44 33h3v1h-3zM2 34h2v2h-2zM4 34h1v2h-1zM7 34h1v2h-1zM31 35h3v2h-3zM34 35h1v2h-1zM28 36h1v1h-1zM3 37h1v2h-1zM13 37h2v2h-2zM36 37h3v1h-3zM47 37h2v2h-2zM5 38h2v2h-2zM15 38h1v1h-1zM18 38h2v2h-2zM29 38h1v2h-1zM45 38h2v1h-2zM15 39h1v1h-1zM19 39h1v2h-1zM20 39h2v2h-2zM27 39h2v2h-2zM48 39h2v2h-2zM15 40h1v2h-1zM17 40h2v2h-2zM5 41h1v1h-1zM6 41h1v2h-1zM7 41h1v1h-1zM8 41h1v2h-1zM10 41h2v1h-2zM15 41h3v2h-3zM30 41h3v2h-3zM43 41h1v1h-1zM29 42h1v2h-1zM46 42h3v2h-3zM6 43h2v1h-2zM9 43h1v1h-1zM17 43h1v2h-1zM9 44h1v1h-1zM40 44h1v1h-1zM22 45h1v1h-1zM34 45h1v2h-1zM40 45h1v2h-1zM42 45h3v1h-3zM11 46h1v2h-1zM21 46h1v1h-1zM31 46h1v2h-1zM23 47h1v1h-1zM52 47h1v2h-1zM8 48h1v2h-1zM44 48h1v2h-1zM39 49h2v2h-2zM2 50h2v2h-2zM23 50h2v2h-2zM38 50h2v2h-2zM50 50h2v2h-2zM19 51h1v2h-1zM21 51h3v2h-3zM36 51h1v2h-1zM48 51h1v2h-1zM50 51h2v2h-2zM13 52h3v1h-3zM16 52h1v1h-1zM27 52h2v1h-2z"/><path fill="#ff7a00" d="M46 0h2v2h-2zM10 1h2v2h-2zM40 1h1v1h-1zM46 1h1v2h-1zM14 3h2v1h-2zM1 5h3v1h-3zM25 6h1v1h-1zM34 6h1v2h-1zM44 6h2v2h-2zM9 7h3v2h-3zM38 8h1v1h-1zM4 9h1v1h-1zM48 10h1v2h-1zM1 11h1v2h-1zM17 12h1v2h-1zM21 13h2v2h-2zM23 13h2v2h-2zM46 13h1v2h-1zM48 14h3v1h-3zM10 16h1v1h-1zM16 16h3v2h-3zM41 18h2v2h-2zM44 18h1v2h-1zM6 19h2v2h-2zM1 20h1v2h-1zM3 20h1v2h-1zM8 20h2v2h-2zM24 20h1v2h-1zM34 20h1v2h-1zM38 20h1v2h-1zM23 21h1v2h-1zM37 21h1v1h-1zM0 23h1v1h-1zM36 23h1v1h-1zM37 23h1v1h-1zM52 24h1v1h-1zM39 25h2v2h-2zM13 26h1v2h-1zM24 26h1v1h-1zM26 26h1v2h-1zM32 26h2v2h-2zM5 27h3v1h-3zM46 27h3v2h-3zM1 29h1v2h-1zM5 29h2v1h-2zM10 29h1v2h-1zM48 30h1v2h-1zM3 33h1v2h-1zM15 33h2v2h-2zM39 33h2v1h-2zM17 34h3v1h-3zM33 34h3v2h-3zM18 35h3v2h-3zM26 35h2v1h-2zM5 36h3v2h-3zM34 36h1v2h-1zM35 36h3v2h-3zM30 40h1v1h-1zM33 40h1v2h-1zM49 40h1v2h-1zM20 41h1v2h-1zM45 41h1v2h-1zM47 41h2v2h-2zM7 42h3v1h-3zM12 43h1v2h-1zM22 43h1v1h-1zM43 43h1v2h-1zM7 44h1v1h-1zM13 44h2v2h-2zM1 45h1v2h-1zM6 45h1v2h-1zM28 45h1v2h-1zM2 46h3v2h-3zM45 46h2v1h-2zM1 47h1v2h-1zM6 47h2v1h-2zM15 48h1v2h-1zM35 48h1v2h-1zM1 49h1v1h-1zM4 49h2v2h-2zM6 49h2v2h-2zM26 49h1v2h-1zM47 49h2v2h-2zM16 50h1v2h-1zM9 52h1v1h-1z"/><path fill="#ffe060" d="M7 0h3v1h-3zM10 0h2v1h-2zM14 1h1v2h-1zM37 2h1v1h-1zM44 3h1v2h-1zM49 3h1v2h-1zM41 4h2v1h-2zM44 4h1v1h-1zM51 4h2v2h-2zM24 5h2v2h-2zM28 6h2v2h-2zM35 6h1v2h-1zM22 7h1v1h-1zM26 8h3v2h-3zM39 8h3v2h-3zM26 9h2v2h-2zM52 9h1v2h-1zM7 10h1v2h-1zM48 12h1v2h-1zM48 13h1v2h-1zM40 17h1v2h-1zM34 22h1v2h-1zM37 22h2v2h-2zM27 25h1v2h-1zM36 25h1v1h-1zM14 26h2v1h-2zM16 26h1v2h-1zM17 27h2v1h-2zM27 29h2v2h-2zM41 30h3v2h-3zM11 31h2v1h-2zM31 32h1v2h-1zM31 36h1v1h-1zM49 36h1v2h-1zM19 37h1v2h-1zM46 40h3v2h-3zM44 43h2v2h-2zM32 46h1v2h-1zM21 47h1v2h-1zM33 47h3v2h-3zM23 48h1v2h-1zM47 48h3v2h-3zM0 51h1v2h-1zM50 52h1v1h-1z"/></pattern>
<pattern id="pR" width="41" height="41" patternUnits="userSpaceOnUse"><path fill="#ff2200" d="M0 0h3v2h-3zM4 0h1v1h-1zM10 0h1v1h-1zM13 0h1v2h-1zM14 0h1v2h-1zM19 0h2v2h-2zM27 0h1v1h-1zM32 0h1v1h-1zM34 0h1v2h-1zM9 1h1v2h-1zM12 1h3v2h-3zM20 1h1v1h-1zM30 1h1v1h-1zM0 2h1v2h-1zM4 2h1v1h-1zM11 2h1v2h-1zM17 2h1v2h-1zM26 2h1v2h-1zM27 2h3v1h-3zM32 2h1v1h-1zM3 3h1v1h-1zM4 3h3v1h-3zM8 3h1v2h-1zM12 3h3v2h-3zM17 3h3v1h-3zM21 3h1v2h-1zM22 3h3v2h-3zM33 3h1v2h-1zM38 3h1v1h-1zM3 4h1v1h-1zM10 4h2v2h-2zM17 4h1v1h-1zM18 4h1v1h-1zM19 4h1v2h-1zM20 4h2v1h-2zM22 4h2v2h-2zM26 4h2v1h-2zM32 4h1v2h-1zM40 4h1v2h-1zM8 5h3v2h-3zM13 5h1v1h-1zM18 5h2v1h-2zM20 5h1v1h-1zM21 5h3v2h-3zM24 5h1v2h-1zM30 5h1v2h-1zM31 5h1v2h-1zM32 5h2v1h-2zM34 5h2v1h-2zM39 5h2v2h-2zM6 6h1v1h-1zM13 6h2v1h-2zM20 6h1v2h-1zM23 6h1v1h-1zM25 6h2v2h-2zM29 6h2v2h-2zM31 6h1v2h-1zM32 6h1v2h-1zM40 6h1v1h-1zM1 7h3v2h-3zM8 7h2v2h-2zM12 7h1v2h-1zM19 7h1v2h-1zM25 7h3v2h-3zM0 8h1v1h-1zM14 8h1v2h-1zM15 8h2v1h-2zM17 8h1v1h-1zM19 8h2v1h-2zM24 8h1v2h-1zM29 8h1v2h-1zM33 8h2v1h-2zM3 9h1v1h-1zM8 9h1v2h-1zM9 9h1v1h-1zM12 9h1v2h-1zM23 9h2v1h-2zM25 9h1v1h-1zM29 9h1v1h-1zM30 9h1v2h-1zM31 9h2v2h-2zM35 9h1v2h-1zM39 9h1v2h-1zM40 9h1v2h-1zM0 10h2v1h-2zM12 10h1v1h-1zM15 10h1v1h-1zM17 10h3v2h-3zM24 10h1v1h-1zM27 10h2v2h-2zM37 10h1v1h-1zM3 11h1v2h-1zM4 11h1v2h-1zM10 11h1v2h-1zM11 11h1v1h-1zM17 11h1v2h-1zM24 11h2v1h-2zM26 11h2v2h-2zM38 11h1v1h-1zM2 12h1v2h-1zM3 12h1v2h-1zM4 12h1v1h-1zM5 12h1v2h-1zM6 12h1v1h-1zM7 12h1v2h-1zM8 12h2v2h-2zM10 12h2v2h-2zM15 12h1v2h-1zM16 12h1v2h-1zM19 12h3v2h-3zM22 12h1v2h-1zM27 12h1v2h-1zM34 12h1v1h-1zM36 12h1v1h-1zM39 12h1v2h-1zM0 13h1v2h-1zM1 13h2v1h-2zM14 13h1v2h-1zM15 13h2v2h-2zM17 13h1v1h-1zM21 13h1v2h-1zM22 13h1v2h-1zM26 13h2v2h-2zM35 13h2v1h-2zM1 14h2v1h-2zM3 14h1v1h-1zM13 14h1v2h-1zM15 14h1v1h-1zM21 14h1v2h-1zM22 14h1v1h-1zM25 14h3v2h-3zM30 14h2v1h-2zM33 14h1v1h-1zM34 14h1v2h-1zM4 15h2v1h-2zM19 15h2v1h-2zM21 15h1v1h-1zM27 15h1v1h-1zM28 15h1v2h-1zM34 15h3v1h-3zM0 16h3v1h-3zM10 16h2v2h-2zM12 16h2v2h-2zM16 16h1v2h-1zM19 16h1v1h-1zM25 16h1v1h-1zM33 16h2v2h-2zM36 16h3v2h-3zM40 16h1v2h-1zM0 17h1v2h-1zM6 17h1v2h-1zM7 17h3v2h-3zM13 17h3v2h-3zM16 17h1v1h-1zM26 17h2v1h-2zM31 17h2v2h-2zM33 17h1v1h-1zM34 17h2v1h-2zM0 18h1v1h-1zM1 18h2v1h-2zM3 18h1v1h-1zM4 18h2v1h-2zM6 18h1v2h-1zM27 18h1v1h-1zM32 18h1v2h-1zM40 18h1v1h-1zM3 19h2v2h-2zM5 19h1v1h-1zM12 19h1v1h-1zM14 19h1v1h-1zM15 19h2v2h-2zM17 19h1v1h-1zM19 19h2v2h-2zM24 19h1v2h-1zM28 19h1v1h-1zM34 19h2v2h-2zM0 20h1v2h-1zM1 20h3v1h-3zM19 20h1v1h-1zM21 20h1v1h-1zM22 20h1v2h-1zM23 20h3v2h-3zM26 20h1v2h-1zM27 20h2v1h-2zM31 20h1v2h-1zM32 20h1v1h-1zM37 20h1v2h-1zM3 21h1v2h-1zM4 21h3v2h-3zM8 21h3v2h-3zM11 21h2v1h-2zM16 21h2v2h-2zM19 21h2v2h-2zM22 21h1v2h-1zM24 21h1v1h-1zM26 21h1v1h-1zM30 21h1v1h-1zM36 21h1v1h-1zM39 21h2v2h-2zM13 22h2v2h-2zM20 22h2v1h-2zM28 22h2v2h-2zM35 22h1v2h-1zM36 22h3v1h-3zM0 23h3v2h-3zM6 23h2v1h-2zM10 23h1v1h-1zM16 23h1v1h-1zM19 23h1v2h-1zM21 23h2v2h-2zM32 23h1v2h-1zM33 23h1v1h-1zM34 23h1v2h-1zM38 23h1v2h-1zM0 24h2v2h-2zM9 24h1v1h-1zM12 24h1v2h-1zM13 24h1v2h-1zM14 24h1v2h-1zM15 24h1v2h-1zM18 24h3v1h-3zM24 24h1v2h-1zM25 24h1v2h-1zM27 24h1v1h-1zM28 24h2v2h-2zM32 24h1v1h-1zM37 24h2v2h-2zM39 24h1v1h-1zM40 24h1v1h-1zM1 25h2v2h-2zM10 25h2v2h-2zM18 25h2v1h-2zM22 25h2v2h-2zM26 25h1v1h-1zM30 25h1v2h-1zM31 25h1v2h-1zM33 25h1v2h-1zM4 26h1v1h-1zM6 26h1v1h-1zM15 26h3v2h-3zM19 26h2v2h-2zM21 26h1v1h-1zM27 26h2v1h-2zM35 26h3v2h-3zM2 27h1v1h-1zM4 27h1v1h-1zM8 27h1v1h-1zM9 27h1v2h-1zM10 27h1v2h-1zM15 27h3v1h-3zM18 27h1v1h-1zM20 27h3v1h-3zM26 27h1v1h-1zM30 27h1v2h-1zM17 28h1v2h-1zM18 28h3v1h-3zM26 28h1v2h-1zM33 28h2v2h-2zM38 28h1v1h-1zM3 29h1v1h-1zM15 29h2v1h-2zM17 29h1v1h-1zM21 29h1v1h-1zM22 29h2v2h-2zM26 29h1v1h-1zM3 30h2v2h-2zM6 30h2v1h-2zM10 30h1v1h-1zM11 30h2v1h-2zM14 30h2v1h-2zM18 30h1v2h-1zM21 30h1v1h-1zM22 30h1v2h-1zM23 30h2v2h-2zM26 30h3v2h-3zM35 30h1v1h-1zM0 31h2v1h-2zM6 31h1v2h-1zM7 31h1v1h-1zM8 31h3v1h-3zM11 31h1v2h-1zM13 31h3v1h-3zM17 31h2v2h-2zM21 31h1v2h-1zM22 31h2v2h-2zM28 31h2v2h-2zM34 31h2v1h-2zM36 31h1v2h-1zM1 32h1v1h-1zM2 32h1v2h-1zM3 32h2v2h-2zM13 32h1v2h-1zM14 32h2v1h-2zM16 32h1v2h-1zM17 32h1v2h-1zM19 32h2v2h-2zM21 32h3v1h-3zM29 32h1v1h-1zM30 32h1v1h-1zM34 32h2v1h-2zM3 33h1v2h-1zM4 33h1v1h-1zM7 33h2v2h-2zM9 33h1v2h-1zM16 33h1v2h-1zM20 33h3v1h-3zM27 33h2v2h-2zM29 33h2v2h-2zM38 33h2v2h-2zM1 34h1v1h-1zM2 34h1v1h-1zM3 34h1v2h-1zM5 34h1v2h-1zM11 34h1v2h-1zM15 34h1v2h-1zM16 34h1v1h-1zM23 34h1v1h-1zM26 34h1v2h-1zM30 34h1v1h-1zM33 34h1v1h-1zM34 34h3v2h-3zM37 34h2v1h-2zM2 35h1v1h-1zM4 35h3v2h-3zM7 35h2v1h-2zM9 35h1v1h-1zM13 35h1v1h-1zM14 35h1v1h-1zM15 35h1v2h-1zM17 35h1v1h-1zM18 35h1v1h-1zM24 35h1v2h-1zM28 35h1v2h-1zM38 35h2v1h-2zM4 36h1v1h-1zM5 36h1v1h-1zM7 36h1v1h-1zM12 36h1v2h-1zM13 36h2v1h-2zM30 36h3v1h-3zM40 36h1v2h-1zM2 37h1v1h-1zM3 37h1v2h-1zM4 37h2v1h-2zM6 37h1v2h-1zM8 37h2v2h-2zM12 37h3v1h-3zM19 37h2v1h-2zM23 37h1v2h-1zM28 37h1v2h-1zM34 37h2v1h-2zM36 37h1v1h-1zM0 38h1v2h-1zM1 38h1v2h-1zM5 38h3v1h-3zM8 38h1v2h-1zM10 38h3v2h-3zM18 38h1v2h-1zM23 38h1v1h-1zM24 38h2v2h-2zM27 38h2v2h-2zM33 38h2v2h-2zM0 39h1v1h-1zM12 39h1v1h-1zM13 39h1v1h-1zM16 39h1v2h-1zM18 39h1v2h-1zM22 39h1v2h-1zM26 39h3v1h-3zM31 39h1v2h-1zM34 39h1v2h-1zM38 39h1v2h-1zM40 39h1v1h-1zM20 40h1v1h-1zM27 40h2v1h-2zM29 40h2v1h-2zM36 40h1v1h-1zM40 40h1v1h-1z"/><path fill="#ff8a00" d="M7 0h1v1h-1zM8 0h2v1h-2zM15 0h2v2h-2zM24 0h3v2h-3zM0 1h3v2h-3zM3 1h3v2h-3zM22 1h1v1h-1zM24 1h1v2h-1zM40 1h1v1h-1zM1 2h3v1h-3zM5 2h2v2h-2zM7 2h1v2h-1zM8 2h1v1h-1zM16 2h1v1h-1zM18 2h3v1h-3zM22 2h2v2h-2zM33 2h3v2h-3zM39 2h1v1h-1zM2 3h1v2h-1zM9 3h1v1h-1zM30 3h1v1h-1zM31 3h2v2h-2zM34 3h1v2h-1zM35 3h2v2h-2zM39 3h1v1h-1zM4 4h1v1h-1zM5 4h2v1h-2zM9 4h1v1h-1zM12 4h3v2h-3zM25 4h1v1h-1zM30 4h2v2h-2zM25 5h1v2h-1zM29 5h1v2h-1zM37 5h1v1h-1zM38 5h1v2h-1zM0 6h3v1h-3zM9 6h1v2h-1zM10 6h2v1h-2zM15 6h2v1h-2zM18 6h2v1h-2zM27 6h1v1h-1zM28 6h1v2h-1zM34 6h3v1h-3zM37 6h2v2h-2zM39 6h1v1h-1zM0 7h1v2h-1zM4 7h3v1h-3zM13 7h1v2h-1zM18 7h1v1h-1zM22 7h3v2h-3zM36 7h1v1h-1zM40 7h1v1h-1zM1 8h1v1h-1zM4 8h3v2h-3zM7 8h1v1h-1zM11 8h1v1h-1zM25 8h2v1h-2zM1 9h2v2h-2zM6 9h1v1h-1zM27 9h1v1h-1zM28 9h1v1h-1zM33 9h1v2h-1zM34 9h1v2h-1zM37 9h2v1h-2zM2 10h1v2h-1zM5 10h1v2h-1zM20 10h1v2h-1zM21 10h2v2h-2zM29 10h1v1h-1zM30 10h1v1h-1zM31 10h1v2h-1zM32 10h2v2h-2zM34 10h1v1h-1zM36 10h1v1h-1zM5 11h3v2h-3zM8 11h1v2h-1zM9 11h1v2h-1zM12 11h1v2h-1zM14 11h3v2h-3zM21 11h2v1h-2zM30 11h2v1h-2zM36 11h1v2h-1zM40 11h1v1h-1zM17 12h1v2h-1zM26 12h1v1h-1zM28 12h2v1h-2zM31 12h3v2h-3zM9 13h1v1h-1zM10 13h1v2h-1zM11 13h3v1h-3zM23 13h1v2h-1zM24 13h1v2h-1zM28 13h3v2h-3zM32 13h1v1h-1zM33 13h1v1h-1zM34 13h1v1h-1zM37 13h3v2h-3zM4 14h1v1h-1zM11 14h1v2h-1zM16 14h2v1h-2zM18 14h1v1h-1zM19 14h1v1h-1zM23 14h2v1h-2zM29 14h1v2h-1zM32 14h1v1h-1zM36 14h3v1h-3zM7 15h1v1h-1zM22 15h1v2h-1zM23 15h3v2h-3zM26 15h1v1h-1zM32 15h1v2h-1zM33 15h1v1h-1zM6 16h1v2h-1zM7 16h3v1h-3zM20 16h2v1h-2zM23 16h2v1h-2zM27 16h1v2h-1zM30 16h1v1h-1zM1 17h3v1h-3zM4 17h2v2h-2zM17 17h3v2h-3zM23 17h3v2h-3zM28 17h3v1h-3zM37 17h1v2h-1zM39 17h1v1h-1zM7 18h2v2h-2zM9 18h3v1h-3zM13 18h2v2h-2zM15 18h1v1h-1zM17 18h2v2h-2zM20 18h1v2h-1zM25 18h1v2h-1zM28 18h2v1h-2zM30 18h1v1h-1zM31 18h1v2h-1zM33 18h2v1h-2zM35 18h2v1h-2zM1 19h1v2h-1zM2 19h1v2h-1zM10 19h2v1h-2zM13 19h1v1h-1zM18 19h1v2h-1zM21 19h1v1h-1zM25 19h1v1h-1zM26 19h2v1h-2zM33 19h1v1h-1zM36 19h3v1h-3zM5 20h2v2h-2zM7 20h1v1h-1zM8 20h1v1h-1zM9 20h1v1h-1zM16 20h3v1h-3zM20 20h1v1h-1zM33 20h1v1h-1zM38 20h3v1h-3zM13 21h2v2h-2zM15 21h1v1h-1zM21 21h1v2h-1zM23 21h1v2h-1zM27 21h3v2h-3zM32 21h1v1h-1zM37 21h1v2h-1zM0 22h1v1h-1zM1 22h1v2h-1zM8 22h2v2h-2zM10 22h3v1h-3zM18 22h1v1h-1zM23 22h2v2h-2zM26 22h1v2h-1zM27 22h1v2h-1zM30 22h3v1h-3zM33 22h1v1h-1zM9 23h1v2h-1zM11 23h1v2h-1zM12 23h1v1h-1zM13 23h1v1h-1zM18 23h1v2h-1zM20 23h1v1h-1zM23 23h3v2h-3zM26 23h1v2h-1zM27 23h1v1h-1zM36 23h1v1h-1zM37 23h1v2h-1zM39 23h1v2h-1zM40 23h1v1h-1zM5 24h1v1h-1zM6 24h2v2h-2zM11 24h1v2h-1zM16 24h1v1h-1zM17 24h1v2h-1zM33 24h3v1h-3zM3 25h3v2h-3zM29 25h1v2h-1zM38 25h2v2h-2zM13 26h1v2h-1zM14 26h1v2h-1zM18 26h1v2h-1zM25 26h1v2h-1zM31 26h2v2h-2zM38 26h3v2h-3zM0 27h1v1h-1zM1 27h1v2h-1zM3 27h1v1h-1zM5 27h2v2h-2zM7 27h1v2h-1zM34 27h1v2h-1zM36 27h3v2h-3zM39 27h2v1h-2zM0 28h3v2h-3zM3 28h1v1h-1zM11 28h1v1h-1zM13 28h1v1h-1zM14 28h3v2h-3zM24 28h1v1h-1zM28 28h2v2h-2zM30 28h1v2h-1zM32 28h1v2h-1zM35 28h3v2h-3zM39 28h1v1h-1zM4 29h1v1h-1zM5 29h1v2h-1zM10 29h3v1h-3zM25 29h1v2h-1zM30 29h2v2h-2zM33 29h3v1h-3zM36 29h3v2h-3zM16 30h1v2h-1zM25 30h1v2h-1zM36 30h3v1h-3zM39 30h1v1h-1zM3 31h1v1h-1zM16 31h1v2h-1zM20 31h1v2h-1zM24 31h1v1h-1zM25 31h3v2h-3zM32 31h2v2h-2zM24 32h1v2h-1zM25 32h1v2h-1zM26 32h2v1h-2zM37 32h3v2h-3zM11 33h1v2h-1zM12 33h2v2h-2zM14 33h2v1h-2zM24 33h3v1h-3zM31 33h2v1h-2zM33 33h1v2h-1zM35 33h3v2h-3zM40 33h1v1h-1zM0 34h1v2h-1zM7 34h1v1h-1zM14 34h1v2h-1zM17 34h3v2h-3zM20 34h2v1h-2zM24 34h1v1h-1zM31 34h1v2h-1zM32 34h1v1h-1zM40 34h1v2h-1zM1 35h1v2h-1zM16 35h1v1h-1zM20 35h1v2h-1zM21 35h3v2h-3zM26 35h1v1h-1zM29 35h1v1h-1zM31 35h1v1h-1zM32 35h2v2h-2zM40 35h1v2h-1zM2 36h2v1h-2zM6 36h1v1h-1zM9 36h2v1h-2zM20 36h1v1h-1zM22 36h2v2h-2zM24 36h2v2h-2zM26 36h2v1h-2zM34 36h2v1h-2zM36 36h1v1h-1zM38 36h1v1h-1zM7 37h1v1h-1zM16 37h1v2h-1zM24 37h1v1h-1zM25 37h2v2h-2zM31 37h3v2h-3zM37 37h3v1h-3zM3 38h2v1h-2zM15 38h3v2h-3zM19 38h2v1h-2zM21 38h2v2h-2zM29 38h1v2h-1zM3 39h2v2h-2zM6 39h1v2h-1zM7 39h1v2h-1zM8 39h2v2h-2zM14 39h2v1h-2zM23 39h3v1h-3zM35 39h2v2h-2zM37 39h1v1h-1zM0 40h1v1h-1zM1 40h1v1h-1zM2 40h2v1h-2zM4 40h2v1h-2zM7 40h3v1h-3zM13 40h2v1h-2zM18 40h1v1h-1zM21 40h2v1h-2zM24 40h1v1h-1zM32 40h1v1h-1zM33 40h2v1h-2zM38 40h2v1h-2z"/><path fill="#ffcc00" d="M3 0h1v1h-1zM21 0h3v2h-3zM38 0h3v2h-3zM15 1h3v1h-3zM19 1h1v2h-1zM28 1h2v1h-2zM34 1h2v1h-2zM37 1h2v2h-2zM9 2h1v2h-1zM13 2h3v2h-3zM21 2h1v1h-1zM25 2h1v1h-1zM30 2h2v2h-2zM7 3h1v2h-1zM20 3h1v1h-1zM26 3h1v1h-1zM40 3h1v1h-1zM7 4h1v2h-1zM8 4h1v1h-1zM28 4h1v1h-1zM6 5h2v2h-2zM16 5h1v1h-1zM7 6h2v2h-2zM21 6h2v1h-2zM7 7h1v2h-1zM10 7h2v1h-2zM14 7h3v2h-3zM20 7h1v2h-1zM28 7h1v2h-1zM29 7h2v2h-2zM2 8h2v1h-2zM9 8h1v1h-1zM18 8h1v1h-1zM22 8h2v2h-2zM27 8h2v2h-2zM30 8h3v2h-3zM37 8h1v2h-1zM0 9h1v1h-1zM7 9h1v2h-1zM10 9h1v2h-1zM13 9h2v2h-2zM17 9h3v2h-3zM26 9h1v2h-1zM3 10h2v2h-2zM6 10h2v2h-2zM25 10h2v1h-2zM18 11h1v1h-1zM28 11h2v2h-2zM12 12h1v1h-1zM24 12h2v2h-2zM37 12h2v1h-2zM40 12h1v2h-1zM3 13h3v1h-3zM18 13h3v2h-3zM8 14h1v1h-1zM39 14h2v1h-2zM1 15h2v1h-2zM9 15h3v1h-3zM12 15h1v2h-1zM13 15h1v1h-1zM14 15h3v1h-3zM17 15h2v2h-2zM37 15h2v1h-2zM14 16h1v2h-1zM28 16h2v1h-2zM10 17h1v2h-1zM12 17h1v2h-1zM20 17h1v2h-1zM6 19h1v1h-1zM7 19h1v2h-1zM8 19h2v1h-2zM23 19h1v1h-1zM30 19h3v1h-3zM40 19h1v1h-1zM4 20h1v2h-1zM10 20h3v2h-3zM13 20h3v1h-3zM34 20h3v1h-3zM1 21h1v2h-1zM18 21h1v1h-1zM33 21h1v2h-1zM34 21h1v2h-1zM35 21h1v2h-1zM2 22h1v1h-1zM3 22h3v2h-3zM15 22h3v1h-3zM19 22h1v1h-1zM22 22h1v2h-1zM25 22h1v2h-1zM14 23h2v1h-2zM28 23h2v2h-2zM30 23h2v1h-2zM26 24h1v1h-1zM30 24h2v1h-2zM9 25h1v1h-1zM14 25h1v1h-1zM15 25h3v1h-3zM27 25h2v2h-2zM32 25h1v2h-1zM34 25h3v2h-3zM40 25h1v1h-1zM0 26h1v2h-1zM1 26h1v1h-1zM3 26h1v2h-1zM10 26h3v1h-3zM26 26h1v1h-1zM30 26h1v1h-1zM12 27h1v2h-1zM19 27h1v2h-1zM27 27h1v2h-1zM32 27h1v1h-1zM6 28h1v1h-1zM7 28h1v1h-1zM8 28h1v2h-1zM10 28h1v1h-1zM21 28h3v2h-3zM40 28h1v2h-1zM6 29h3v1h-3zM18 29h3v2h-3zM27 29h3v1h-3zM0 30h1v2h-1zM1 30h2v1h-2zM5 30h1v2h-1zM8 30h1v1h-1zM17 30h1v1h-1zM19 30h2v1h-2zM34 30h1v2h-1zM12 31h1v2h-1zM30 31h1v2h-1zM31 31h1v2h-1zM37 31h1v2h-1zM38 31h3v2h-3zM8 32h2v2h-2zM12 32h1v1h-1zM31 32h3v1h-3zM36 32h1v2h-1zM40 32h1v2h-1zM0 33h3v2h-3zM5 33h1v1h-1zM18 33h2v2h-2zM34 33h1v2h-1zM4 34h1v2h-1zM3 35h1v1h-1zM11 35h1v2h-1zM25 35h1v2h-1zM34 35h2v2h-2zM37 35h1v1h-1zM11 36h1v1h-1zM19 36h1v1h-1zM21 36h1v2h-1zM0 37h2v2h-2zM10 37h2v1h-2zM21 37h2v1h-2zM14 38h1v2h-1zM36 38h1v1h-1zM38 38h1v2h-1zM39 38h2v2h-2zM2 39h1v2h-1zM20 39h2v2h-2zM33 39h1v1h-1zM15 40h3v1h-3zM23 40h1v1h-1zM25 40h1v1h-1zM26 40h1v1h-1zM31 40h1v1h-1z"/><path fill="#e00000" d="M17 0h2v2h-2zM29 0h3v1h-3zM35 0h3v2h-3zM6 1h2v1h-2zM8 1h1v2h-1zM18 1h1v1h-1zM27 1h1v1h-1zM31 1h3v1h-3zM36 2h1v1h-1zM0 3h2v1h-2zM10 3h1v2h-1zM11 3h1v1h-1zM0 4h1v2h-1zM24 4h1v1h-1zM34 4h3v2h-3zM0 5h3v1h-3zM3 5h2v1h-2zM11 5h1v2h-1zM26 5h3v2h-3zM36 5h1v2h-1zM12 6h1v1h-1zM37 7h3v2h-3zM38 8h3v2h-3zM4 9h1v2h-1zM5 9h1v1h-1zM8 10h2v2h-2zM14 10h1v1h-1zM0 11h3v2h-3zM33 11h1v2h-1zM34 11h1v1h-1zM37 11h1v1h-1zM6 13h2v1h-2zM8 13h1v2h-1zM25 13h1v1h-1zM12 14h1v1h-1zM35 14h1v2h-1zM29 15h3v1h-3zM3 16h2v2h-2zM26 16h1v2h-1zM31 16h2v2h-2zM35 16h1v1h-1zM11 17h1v1h-1zM12 18h1v2h-1zM38 18h2v1h-2zM40 22h1v2h-1zM5 23h1v1h-1zM10 24h1v1h-1zM21 24h3v2h-3zM0 25h1v2h-1zM25 25h1v2h-1zM5 26h1v2h-1zM7 26h3v2h-3zM23 27h3v1h-3zM4 28h1v2h-1zM5 31h1v2h-1zM28 32h1v1h-1zM6 33h1v2h-1zM10 34h1v2h-1zM13 34h1v1h-1zM27 34h3v2h-3zM36 35h1v2h-1zM15 36h2v1h-2zM18 36h1v1h-1zM15 37h1v1h-1zM17 37h1v2h-1zM13 38h1v1h-1z"/></pattern>
<filter id="fb" x="-2%" y="-2%" width="104%" height="104%"><feGaussianBlur stdDeviation="0.55"/></filter>
</defs>
<rect width="550" height="681" fill="#fff"/>
<rect x="5" y="8" width="178" height="24" fill="#1473c8"/>
<text class="t" transform="translate(94.0,25) scale(0.87,1)" font-size="13.8" text-anchor="middle">Aug. 15, 2019</text>
<svg x="5" y="34" width="178" height="148" overflow="hidden"><rect width="178" height="148" fill="#fff"/>
<g transform="translate(0,-1)">
<use href="#dCh" fill="#fff"/>
<use href="#dProv" fill="none" stroke="#c4c4c4" stroke-width="0.6"/>
<g clip-path="url(#dClip)">
<path d="M38.5 29.5 C39.1 28.1 40.5 28.1 40.9 28.6 C41.4 29.2 41.5 31.2 41.2 32.7 C41.0 34.2 39.9 37.0 39.3 37.6 C38.6 38.3 37.5 38.2 37.3 36.8 C37.2 35.5 37.9 30.8 38.5 29.5Z" fill="#fff46a"/>
<path d="M38.5 43.4 C38.5 43.7 38.3 44.0 38.1 44.2 C38.0 44.5 37.6 44.7 37.3 44.8 C37.0 44.9 36.6 44.9 36.3 44.8 C36.0 44.7 35.7 44.5 35.5 44.2 C35.3 44.0 35.2 43.7 35.2 43.4 C35.2 43.1 35.3 42.7 35.5 42.5 C35.7 42.3 36.0 42.1 36.3 42.0 C36.6 41.9 37.0 41.9 37.3 42.0 C37.6 42.1 38.0 42.3 38.1 42.5 C38.3 42.7 38.5 43.1 38.5 43.4Z" fill="#fff46a"/>
<path d="M49.1 33.6 C49.9 33.0 52.1 33.1 53.2 34.4 C54.3 35.6 55.1 38.7 55.6 40.9 C56.2 43.1 56.7 45.6 56.5 47.5 C56.2 49.4 54.8 50.7 54.0 52.4 C53.2 54.0 52.4 55.4 51.6 57.3 C50.7 59.2 49.9 62.7 49.1 63.8 C48.3 65.0 47.2 65.0 46.6 64.2 C46.1 63.3 46.4 60.3 45.8 58.9 C45.3 57.5 44.5 56.5 43.4 55.6 C42.3 54.8 40.6 54.4 39.3 54.0 C37.9 53.6 36.1 53.9 35.2 53.2 C34.2 52.5 33.1 50.6 33.6 49.9 C34.0 49.2 36.1 49.1 37.6 49.1 C39.1 49.1 41.1 49.9 42.6 49.9 C44.1 49.9 45.8 50.3 46.6 49.1 C47.5 47.9 47.2 44.5 47.5 42.6 C47.7 40.6 48.0 39.1 48.3 37.6 C48.6 36.1 48.3 34.1 49.1 33.6Z" fill="#fff46a"/>
<path d="M49.1 39.3 C49.9 38.5 51.4 38.5 52.4 39.0 C53.3 39.4 54.4 40.6 54.8 41.7 C55.3 42.9 55.4 44.8 55.2 45.8 C54.9 46.8 54.2 47.7 53.2 47.8 C52.2 47.9 50.1 47.4 49.1 46.6 C48.1 45.9 47.5 44.6 47.5 43.4 C47.5 42.1 48.3 40.0 49.1 39.3Z" fill="#ff9a00"/>
<path d="M132.4 15.5 C132.4 16.1 132.3 16.7 132.1 17.1 C131.9 17.5 131.6 17.9 131.3 18.1 C131.0 18.3 130.6 18.3 130.3 18.1 C130.0 17.9 129.7 17.5 129.5 17.1 C129.3 16.7 129.2 16.1 129.2 15.5 C129.2 15.0 129.3 14.4 129.5 13.9 C129.7 13.5 130.0 13.1 130.3 12.9 C130.6 12.8 131.0 12.8 131.3 12.9 C131.6 13.1 131.9 13.5 132.1 13.9 C132.3 14.4 132.4 15.0 132.4 15.5Z" fill="#fff46a"/>
<path d="M115.6 39.2 C116.5 38.3 118.7 38.8 119.6 40.0 C120.5 41.2 120.9 44.3 121.2 46.4 C121.5 48.5 121.7 51.6 121.2 52.8 C120.7 54.0 119.1 53.9 118.0 53.6 C116.9 53.3 115.5 52.5 114.8 51.2 C114.1 49.9 113.9 47.6 114.0 45.6 C114.1 43.6 114.7 40.1 115.6 39.2Z" fill="#fff46a"/>
<path d="M114.3 46.4 C114.6 45.7 115.5 45.3 115.9 45.6 C116.3 45.9 116.6 47.2 116.6 48.0 C116.5 48.8 116.0 50.1 115.6 50.4 C115.2 50.7 114.2 50.3 114.0 49.6 C113.8 48.9 114.0 47.1 114.3 46.4Z" fill="#ff9a00"/>
<path d="M94.8 60.0 C95.7 58.9 99.3 59.1 101.2 59.2 C103.1 59.3 105.2 59.7 106.0 60.8 C106.8 61.9 106.8 64.7 106.0 65.6 C105.2 66.5 102.9 66.4 101.2 66.4 C99.5 66.4 96.7 66.7 95.6 65.6 C94.5 64.5 93.9 61.1 94.8 60.0Z" fill="#fff46a"/>
<path d="M110.8 70.4 C111.3 69.6 113.2 69.7 114.0 70.1 C114.8 70.5 115.6 72.0 115.6 72.8 C115.6 73.6 114.8 74.7 114.0 75.0 C113.2 75.4 111.3 75.8 110.8 75.0 C110.3 74.3 110.3 71.2 110.8 70.4Z" fill="#ff9a00"/>
<path d="M52.4 84.0 C53.0 83.6 55.8 83.9 56.5 84.5 C57.1 85.0 56.8 86.9 56.1 87.3 C55.5 87.7 53.3 87.5 52.7 86.9 C52.1 86.4 51.7 84.4 52.4 84.0Z" fill="#fff46a"/>
<path d="M66.3 84.8 C66.4 83.0 67.8 83.2 68.7 85.1 C69.7 87.1 71.5 92.5 72.0 96.3 C72.6 100.0 72.4 105.8 72.0 107.7 C71.6 109.6 70.2 109.6 69.6 107.7 C68.9 105.8 68.5 100.1 67.9 96.3 C67.4 92.5 66.1 86.7 66.3 84.8Z" fill="#fff46a"/>
<path d="M72.0 117.6 C73.1 116.6 76.4 117.6 78.6 118.4 C80.7 119.2 83.3 121.2 85.1 122.5 C86.9 123.7 88.7 124.5 89.2 125.7 C89.7 127.0 89.6 128.9 88.4 129.8 C87.2 130.8 83.5 130.8 81.8 131.5 C80.2 132.1 79.8 133.9 78.6 133.9 C77.3 133.9 75.6 133.1 74.5 131.5 C73.4 129.8 72.4 126.4 72.0 124.1 C71.6 121.8 70.9 118.5 72.0 117.6Z" fill="#fff46a"/>
<path d="M74.5 120.8 C75.2 120.4 77.3 121.1 78.6 121.6 C79.8 122.2 80.7 123.6 81.8 124.1 C82.9 124.6 84.2 124.4 85.1 124.9 C86.1 125.4 87.7 126.4 87.6 127.0 C87.4 127.7 85.4 128.7 84.3 129.0 C83.2 129.3 82.0 128.6 81.0 129.0 C80.1 129.4 79.5 131.5 78.6 131.5 C77.7 131.5 76.3 130.2 75.6 129.0 C74.9 127.8 74.7 125.5 74.5 124.1 C74.3 122.7 73.8 121.2 74.5 120.8Z" fill="#ff9a00"/>
<path d="M77.9 124.1 C77.9 124.3 77.8 124.5 77.7 124.7 C77.6 124.8 77.4 125.0 77.2 125.0 C77.0 125.1 76.8 125.1 76.6 125.0 C76.4 125.0 76.2 124.8 76.1 124.7 C76.0 124.5 75.9 124.3 75.9 124.1 C75.9 123.9 76.0 123.7 76.1 123.5 C76.2 123.4 76.4 123.2 76.6 123.2 C76.8 123.1 77.0 123.1 77.2 123.2 C77.4 123.2 77.6 123.4 77.7 123.5 C77.8 123.7 77.9 123.9 77.9 124.1Z" fill="#ff1a00"/>
<path d="M115.6 84.6 C116.4 84.5 117.7 85.9 118.8 87.0 C119.9 88.1 120.7 90.6 122.0 91.0 C123.3 91.4 125.2 90.1 126.8 89.4 C128.4 88.7 130.5 86.7 131.6 87.0 C132.7 87.3 133.5 89.3 133.2 91.0 C132.9 92.7 130.9 95.3 130.0 97.4 C129.1 99.5 128.4 102.2 127.6 103.8 C126.8 105.4 126.1 106.6 125.2 107.0 C124.3 107.4 123.1 106.2 122.0 106.2 C120.9 106.2 120.1 106.5 118.8 107.0 C117.5 107.5 115.3 108.6 114.0 109.4 C112.7 110.2 112.1 111.3 110.8 111.8 C109.5 112.3 107.2 113.0 106.0 112.6 C104.8 112.2 104.1 111.1 103.6 109.4 C103.1 107.7 103.1 104.2 102.8 102.2 C102.5 100.2 101.7 98.5 102.0 97.4 C102.3 96.3 103.2 96.3 104.4 95.8 C105.6 95.3 107.9 95.0 109.2 94.2 C110.5 93.4 111.6 92.1 112.4 91.0 C113.2 89.9 113.5 88.9 114.0 87.8 C114.5 86.7 114.8 84.7 115.6 84.6Z" fill="#fff46a"/>
<path d="M110.8 94.2 C111.6 92.3 114.0 89.8 115.6 89.4 C117.2 89.0 118.8 91.7 120.4 91.8 C122.0 91.9 123.7 90.7 125.2 90.2 C126.7 89.7 128.4 88.2 129.2 88.6 C130.0 89.0 130.4 90.9 130.0 92.6 C129.6 94.3 127.5 97.0 126.8 99.0 C126.1 101.0 127.1 103.4 126.0 104.6 C124.9 105.8 122.3 105.8 120.4 106.2 C118.5 106.6 116.3 107.3 114.8 107.0 C113.3 106.7 112.3 105.7 111.6 104.6 C110.9 103.5 110.9 102.3 110.8 100.6 C110.7 98.9 110.0 96.1 110.8 94.2Z" fill="#ff9a00"/>
<path d="M102.8 97.4 C103.2 96.7 105.4 96.5 106.0 97.1 C106.6 97.6 106.9 99.9 106.5 100.6 C106.1 101.3 104.2 102.1 103.6 101.6 C103.0 101.0 102.4 98.1 102.8 97.4Z" fill="#ff9a00"/>
<path d="M113.2 94.2 C113.7 93.1 115.3 91.2 116.4 91.0 C117.5 90.8 118.7 92.1 119.6 92.9 C120.5 93.7 121.5 94.8 121.5 95.8 C121.5 96.8 120.6 98.5 119.6 99.0 C118.6 99.5 116.7 99.3 115.6 99.0 C114.5 98.7 113.6 98.2 113.2 97.4 C112.8 96.6 112.7 95.3 113.2 94.2Z" fill="#ff1a00"/>
<path d="M97.2 123.8 C98.1 123.0 101.3 122.7 102.8 123.0 C104.3 123.3 105.6 124.3 106.0 125.4 C106.4 126.5 106.3 128.6 105.2 129.4 C104.1 130.2 100.9 130.5 99.6 130.2 C98.3 129.9 97.6 128.9 97.2 127.8 C96.8 126.7 96.3 124.6 97.2 123.8Z" fill="#fff46a"/>
<path d="M99.6 125.4 C100.1 124.8 102.8 124.7 103.6 125.1 C104.4 125.5 104.9 127.2 104.4 127.8 C103.9 128.4 101.2 129.3 100.4 128.9 C99.6 128.5 99.1 126.0 99.6 125.4Z" fill="#ff9a00"/>
<path d="M102.0 74.2 C103.1 73.3 108.4 73.4 110.0 74.2 C111.6 75.0 112.7 78.1 111.6 79.0 C110.5 79.9 105.2 80.6 103.6 79.8 C102.0 79.0 100.9 75.1 102.0 74.2Z" fill="#fff46a"/>
<path d="M103.6 74.7 C104.3 74.0 107.7 74.1 108.4 74.7 C109.1 75.3 108.3 77.6 107.6 78.2 C106.9 78.8 105.1 79.1 104.4 78.5 C103.7 77.9 102.9 75.3 103.6 74.7Z" fill="#ff9a00"/>
</g>
<use href="#dRiv" fill="none" stroke="#40d0f0" stroke-width="1"/>
<use href="#dCh" fill="none" stroke="#5e5e5e" stroke-width="0.8"/>
<use href="#dCoast" fill="none" stroke="#40d0f0" stroke-width="0.9"/>
<use href="#dIs" fill="none" stroke="#40d0f0" stroke-width="0.7"/>
</g>
<g transform="translate(0,114.4)">
<rect x="2" y="0" width="37.3" height="40" fill="#fff" stroke="#999" stroke-width="0.8"/>
<text x="4.9" y="4.6" font-size="2.7" fill="#333" font-family="Liberation Sans,Arial,sans-serif">Intensity</text>
<rect x="2.9" y="6.50" width="9.8" height="3" fill="#fff" stroke="#bbb" stroke-width="0.4"/>
<text x="13.9" y="9.10" font-size="2.95" fill="#1a1a3a" stroke="#1a1a3a" stroke-width="0.08" font-family="Liberation Sans,Arial,sans-serif">No Drought</text>
<rect x="2.9" y="12.05" width="9.8" height="3" fill="#ffff66" stroke="#bbb" stroke-width="0.4"/>
<text x="13.9" y="14.65" font-size="2.95" fill="#1a1a3a" stroke="#1a1a3a" stroke-width="0.08" font-family="Liberation Sans,Arial,sans-serif">Mild Drought</text>
<rect x="2.9" y="17.60" width="9.8" height="3" fill="#ff9900" stroke="#bbb" stroke-width="0.4"/>
<text x="13.9" y="20.20" font-size="2.95" fill="#1a1a3a" stroke="#1a1a3a" stroke-width="0.08" font-family="Liberation Sans,Arial,sans-serif">Moderate Drought</text>
<rect x="2.9" y="23.15" width="9.8" height="3" fill="#ff0000" stroke="#bbb" stroke-width="0.4"/>
<text x="13.9" y="25.75" font-size="2.95" fill="#1a1a3a" stroke="#1a1a3a" stroke-width="0.08" font-family="Liberation Sans,Arial,sans-serif">Severe Drought</text>
<rect x="2.9" y="28.70" width="9.8" height="3" fill="#b00010" stroke="#bbb" stroke-width="0.4"/>
<text x="13.9" y="31.30" font-size="2.95" fill="#1a1a3a" stroke="#1a1a3a" stroke-width="0.08" font-family="Liberation Sans,Arial,sans-serif">Extreme Drought</text>
</g>
<use href="#dIns" y="112.0"/>
</svg>
<rect x="5.65" y="34.65" width="176.7" height="146.7" fill="none" stroke="#555" stroke-width="1.3"/>
<svg x="5" y="184" width="178" height="146" overflow="hidden"><rect width="178" height="146" fill="#eef2fb"/>
<g transform="translate(0,0)"><use href="#sSea" fill="#62cffc"/>
<use href="#sJp" fill="#eef2fb" stroke="#fff" stroke-width="0.6"/>
<use href="#sBord" fill="none" stroke="#d3c9bb" stroke-width="1.2"/>
<use href="#sDmz" fill="none" stroke="#f06a9a" stroke-width="1"/>
<use href="#sCh" fill="#f6f7fb"/>
<use href="#sIs" fill="#f6f7fb"/>
<g clip-path="url(#sClip)"><use href="#sCh" fill="url(#pG)"/></g>
<use href="#sRiv" fill="none" stroke="#55bdf2" stroke-width="1.5"/>
<use href="#sLake" fill="none" stroke="#52c0f2" stroke-width="1.8"/>
<g clip-path="url(#sClip)"><g filter="url(#fb)">
<path d="M40.5 38.8 C42.9 35.3 49.9 36.1 53.4 37.2 C56.9 38.3 60.4 41.5 61.5 45.3 C62.6 49.1 62.0 56.6 59.9 59.9 C57.7 63.1 52.0 65.0 48.5 64.7 C45.0 64.5 40.2 62.6 38.8 58.3 C37.5 53.9 38.0 42.3 40.5 38.8Z" fill="url(#pY)"/>
<path d="M14.6 64.7 C17.5 62.6 26.7 61.5 32.4 61.5 C38.0 61.5 43.1 64.5 48.5 64.7 C53.9 65.0 61.8 61.8 64.7 63.1 C67.7 64.5 69.0 70.4 66.3 72.8 C63.6 75.2 55.3 76.9 48.5 77.7 C41.8 78.5 31.6 78.2 25.9 77.7 C20.2 77.1 16.5 76.6 14.6 74.4 C12.7 72.3 11.6 66.9 14.6 64.7Z" fill="url(#pY)"/>
<path d="M61.5 63.1 C64.2 60.9 75.0 61.2 80.9 61.5 C86.8 61.8 93.9 62.6 97.1 64.7 C100.3 66.9 102.5 72.3 100.3 74.4 C98.2 76.6 90.1 77.7 84.1 77.7 C78.2 77.7 68.5 76.9 64.7 74.4 C60.9 72.0 58.8 65.3 61.5 63.1Z" fill="url(#pY)"/>
<path d="M25.9 84.1 C28.0 80.9 35.6 81.2 42.1 80.9 C48.5 80.6 58.3 81.2 64.7 82.5 C71.2 83.9 77.7 86.0 80.9 89.0 C84.1 92.0 85.2 96.8 84.1 100.3 C83.1 103.8 80.4 108.4 74.4 110.0 C68.5 111.7 56.1 111.7 48.5 110.0 C41.0 108.4 32.9 104.6 29.1 100.3 C25.4 96.0 23.7 87.4 25.9 84.1Z" fill="url(#pY)"/>
<path d="M71.2 97.1 C74.2 93.9 84.7 93.3 90.6 93.9 C96.5 94.4 103.6 96.5 106.8 100.3 C110.0 104.1 111.7 111.7 110.0 116.5 C108.4 121.4 102.5 127.3 97.1 129.4 C91.7 131.6 81.7 132.1 77.7 129.4 C73.6 126.8 73.9 118.7 72.8 113.3 C71.7 107.9 68.2 100.3 71.2 97.1Z" fill="url(#pY)"/>
<path d="M123.0 22.7 C124.6 19.7 131.6 18.3 135.9 17.8 C140.2 17.3 145.6 16.5 148.9 19.4 C152.1 22.4 152.1 33.4 155.3 35.6 C158.6 37.8 165.6 31.3 168.3 32.4 C171.0 33.4 172.6 38.3 171.5 42.1 C170.4 45.8 165.6 51.2 161.8 55.0 C158.0 58.8 153.2 62.6 148.9 64.7 C144.6 66.9 140.2 68.0 135.9 68.0 C131.6 68.0 125.7 68.0 123.0 64.7 C120.3 61.5 119.2 53.4 119.7 48.5 C120.3 43.7 125.7 39.9 126.2 35.6 C126.8 31.3 121.4 25.6 123.0 22.7Z" fill="url(#pY)"/>
<path d="M103.6 51.8 C106.8 48.5 118.7 44.8 123.0 45.3 C127.3 45.8 130.5 51.8 129.4 55.0 C128.4 58.3 120.8 63.1 116.5 64.7 C112.2 66.3 105.7 66.9 103.6 64.7 C101.4 62.6 100.3 55.0 103.6 51.8Z" fill="url(#pY)"/>
<path d="M90.6 119.7 C93.9 117.0 103.6 115.4 110.0 113.3 C116.5 111.1 125.1 106.3 129.4 106.8 C133.8 107.3 137.0 112.7 135.9 116.5 C134.8 120.3 128.4 126.8 123.0 129.4 C117.6 132.1 109.0 132.7 103.6 132.7 C98.2 132.7 92.8 131.6 90.6 129.4 C88.5 127.3 87.4 122.4 90.6 119.7Z" fill="url(#pY)"/>
<path d="M38.8 85.8 C41.3 83.2 49.6 83.2 55.0 83.5 C60.4 83.8 67.4 85.4 71.2 87.4 C75.0 89.4 77.7 92.8 77.7 95.5 C77.7 98.2 75.0 102.1 71.2 103.6 C67.4 105.0 60.1 105.0 55.0 104.2 C49.9 103.4 43.1 101.8 40.5 98.7 C37.8 95.6 36.4 88.3 38.8 85.8Z" fill="url(#pO)"/>
<path d="M98.7 66.3 C100.9 61.5 104.9 59.3 110.0 58.3 C115.2 57.2 124.1 58.0 129.4 59.9 C134.8 61.8 140.2 64.5 142.4 69.6 C144.6 74.7 144.0 85.5 142.4 90.6 C140.8 95.7 137.0 98.2 132.7 100.3 C128.4 102.5 121.4 103.6 116.5 103.6 C111.7 103.6 106.8 103.0 103.6 100.3 C100.3 97.6 97.9 93.0 97.1 87.4 C96.3 81.7 96.5 71.2 98.7 66.3Z" fill="url(#pO)"/>
<path d="M132.7 53.4 C134.8 51.0 141.3 50.4 145.6 48.5 C149.9 46.7 155.6 42.1 158.6 42.1 C161.5 42.1 164.0 45.8 163.4 48.5 C162.9 51.2 158.8 55.8 155.3 58.3 C151.8 60.7 146.2 62.3 142.4 63.1 C138.6 63.9 134.3 64.7 132.7 63.1 C131.1 61.5 130.5 55.8 132.7 53.4Z" fill="url(#pO)"/>
<path d="M77.7 108.4 C79.8 105.7 89.5 104.6 92.2 106.8 C94.9 109.0 96.0 118.7 93.9 121.4 C91.7 124.1 82.0 125.1 79.3 123.0 C76.6 120.8 75.5 111.1 77.7 108.4Z" fill="url(#pO)"/>
<path d="M97.1 103.6 C99.1 101.5 107.9 101.0 110.0 102.9 C112.2 104.8 112.1 112.8 110.0 114.9 C108.0 116.9 99.9 117.1 97.7 115.2 C95.6 113.3 95.0 105.6 97.1 103.6Z" fill="url(#pO)"/>
<path d="M117.2 57.3 C118.6 54.9 124.1 54.9 125.5 57.3 C126.8 59.6 126.8 69.1 125.5 71.5 C124.1 73.8 118.6 73.8 117.2 71.5 C115.8 69.1 115.8 59.6 117.2 57.3Z" fill="url(#pO)"/>
<path d="M138.5 47.8 C141.0 44.7 152.3 43.7 155.0 46.6 C157.8 49.6 157.6 62.4 155.0 65.6 C152.5 68.7 142.4 68.5 139.6 65.6 C136.9 62.6 135.9 51.0 138.5 47.8Z" fill="url(#pO)"/>
<path d="M97.1 95.1 C99.1 92.1 106.9 92.1 108.9 95.1 C110.9 98.1 110.9 109.9 108.9 112.8 C106.9 115.8 99.1 115.8 97.1 112.8 C95.1 109.9 95.1 98.1 97.1 95.1Z" fill="url(#pO)"/>
<path d="M104.2 79.7 C105.2 77.8 107.7 75.2 108.9 73.8 C110.1 72.4 109.7 72.1 111.3 71.5 C112.9 70.9 116.8 71.5 118.4 70.3 C119.9 69.1 119.9 66.1 120.7 64.4 C121.5 62.6 122.3 60.1 123.1 59.6 C123.9 59.1 125.1 59.8 125.5 61.4 C125.9 63.0 124.7 67.2 125.5 69.1 C126.2 71.0 128.6 71.5 130.2 72.6 C131.8 73.8 133.5 75.3 134.9 76.2 C136.3 77.1 138.7 77.2 138.5 78.0 C138.3 78.8 134.7 79.6 133.7 80.9 C132.8 82.2 132.4 83.9 132.6 85.6 C132.8 87.4 134.7 90.0 134.9 91.6 C135.1 93.1 134.7 94.3 133.7 95.1 C132.8 95.9 131.2 96.3 129.0 96.3 C126.8 96.3 123.3 95.1 120.7 95.1 C118.2 95.1 115.8 95.9 113.6 96.3 C111.5 96.7 109.3 98.1 107.7 97.5 C106.2 96.9 105.0 94.7 104.2 92.7 C103.4 90.8 103.0 87.8 103.0 85.6 C103.0 83.5 103.2 81.7 104.2 79.7Z" fill="url(#pR)"/>
</g></g>
<use href="#sLand" fill="none" stroke="#d4aa52" stroke-width="1.6" stroke-linejoin="round"/>
<path d="M8.2 87.4L11.5 86.5L15.5 87.4M8.2 87.4L7.4 90.6L8.2 93.1" fill="none" stroke="#ea4f9c" stroke-width="0.9"/>
<path d="M142.6 117.5L141.3 125.5L139.6 133L135.5 140" fill="none" stroke="#d4aa52" stroke-width="1.1" stroke-dasharray="2.2 1.6"/>
<ellipse cx="138" cy="142" rx="2.6" ry="2.2" fill="#f4f6fa"/>
<rect x="1" y="138.0" width="82" height="9" fill="#fff"/>
<rect x="1.6" y="135.4" width="18.9" height="2.7" fill="#8c0000"/>
<text x="11.1" y="142.8" font-size="3.5" font-weight="bold" fill="#8b1a1a" text-anchor="middle" font-family="Liberation Sans,Arial,sans-serif">1.07%</text>
<rect x="21.3" y="135.4" width="19.3" height="2.7" fill="#ec0000"/>
<text x="31.0" y="142.8" font-size="3.5" font-weight="bold" fill="#e02020" text-anchor="middle" font-family="Liberation Sans,Arial,sans-serif">4.06%</text>
<rect x="41.7" y="135.4" width="19.2" height="2.7" fill="#ff8c00"/>
<text x="51.3" y="142.8" font-size="3.5" font-weight="bold" fill="#f59a20" text-anchor="middle" font-family="Liberation Sans,Arial,sans-serif">11.86%</text>
<rect x="62.2" y="135.4" width="18.8" height="2.7" fill="#ffe000"/>
<text x="71.6" y="142.8" font-size="3.5" font-weight="bold" fill="#e8d040" text-anchor="middle" font-family="Liberation Sans,Arial,sans-serif">23.45%</text></g>
</svg>
<rect x="5.65" y="184.65" width="176.7" height="144.7" fill="none" stroke="#555" stroke-width="1.3"/>
<rect x="184" y="8" width="179" height="24" fill="#1473c8"/>
<text class="t" transform="translate(273.5,25) scale(0.87,1)" font-size="13.8" text-anchor="middle">Aug. 15, 2020</text>
<svg x="185" y="34" width="178" height="148" overflow="hidden"><rect width="178" height="148" fill="#fff"/>
<g transform="translate(0,-1)">
<use href="#dCh" fill="#fff"/>
<use href="#dProv" fill="none" stroke="#c4c4c4" stroke-width="0.6"/>
<g clip-path="url(#dClip)">
<path d="M37.6 30.3 C38.1 29.5 40.4 29.5 40.9 30.3 C41.5 31.1 41.4 34.4 40.9 35.2 C40.4 36.0 38.5 36.0 38.0 35.2 C37.4 34.4 37.2 31.1 37.6 30.3Z" fill="#fff46a"/>
<path d="M31.9 39.3 C32.4 38.5 34.6 38.5 35.2 39.3 C35.7 40.1 35.7 43.4 35.2 44.2 C34.7 45.0 32.8 45.0 32.2 44.2 C31.7 43.4 31.4 40.1 31.9 39.3Z" fill="#fff46a"/>
<path d="M43.4 38.5 C44.2 37.2 47.9 36.9 49.1 37.3 C50.3 37.7 50.7 39.6 50.7 40.9 C50.7 42.2 50.2 44.3 49.1 45.0 C48.0 45.7 45.1 46.1 44.2 45.0 C43.2 43.9 42.6 39.7 43.4 38.5Z" fill="#fff46a"/>
<path d="M27.8 57.3 C29.5 55.8 34.8 55.9 36.8 56.5 C38.9 57.0 39.7 58.5 40.1 60.6 C40.5 62.6 40.1 66.8 39.3 68.7 C38.5 70.6 36.8 71.5 35.2 72.0 C33.6 72.6 30.8 73.1 29.5 72.0 C28.1 70.9 27.3 67.9 27.0 65.5 C26.7 63.0 26.2 58.8 27.8 57.3Z" fill="#fff46a"/>
<path d="M36.3 62.7 C36.3 63.1 36.2 63.6 36.0 63.9 C35.8 64.3 35.5 64.6 35.2 64.7 C34.9 64.8 34.5 64.8 34.2 64.7 C33.9 64.6 33.6 64.3 33.4 63.9 C33.2 63.6 33.1 63.1 33.1 62.7 C33.1 62.3 33.2 61.8 33.4 61.4 C33.6 61.1 33.9 60.8 34.2 60.7 C34.5 60.5 34.9 60.5 35.2 60.7 C35.5 60.8 35.8 61.1 36.0 61.4 C36.2 61.8 36.3 62.3 36.3 62.7Z" fill="#ff9a00"/>
<path d="M30.4 68.7 C30.4 69.2 30.3 69.8 30.2 70.2 C30.0 70.6 29.8 70.9 29.5 71.1 C29.3 71.2 29.0 71.2 28.7 71.1 C28.5 70.9 28.2 70.6 28.1 70.2 C27.9 69.8 27.8 69.2 27.8 68.7 C27.8 68.3 27.9 67.7 28.1 67.3 C28.2 66.9 28.5 66.6 28.7 66.4 C29.0 66.3 29.3 66.3 29.5 66.4 C29.8 66.6 30.0 66.9 30.2 67.3 C30.3 67.7 30.4 68.3 30.4 68.7Z" fill="#ff9a00"/>
<path d="M44.5 60.6 C45.3 59.5 48.0 59.8 48.8 60.9 C49.5 62.0 49.5 65.8 49.1 67.1 C48.7 68.4 47.5 68.7 46.6 68.7 C45.8 68.7 44.2 68.5 43.9 67.1 C43.5 65.7 43.7 61.6 44.5 60.6Z" fill="#fff46a"/>
<path d="M62.2 54.0 C63.1 51.3 66.3 50.1 68.7 49.1 C71.2 48.1 74.2 47.7 76.9 48.3 C79.7 48.8 82.9 51.4 85.1 52.4 C87.3 53.3 89.2 50.2 90.0 54.0 C90.8 57.8 91.9 71.5 90.0 75.0 C88.1 78.5 82.1 75.5 78.6 75.0 C75.0 74.5 71.3 73.6 68.7 72.0 C66.1 70.4 64.1 68.5 63.0 65.5 C61.9 62.5 61.2 56.7 62.2 54.0Z" fill="#fff46a"/>
<path d="M67.9 52.4 C68.7 50.9 71.6 50.7 73.6 50.7 C75.7 50.8 79.2 51.6 80.2 52.7 C81.2 53.8 79.9 56.0 79.4 57.3 C78.8 58.6 77.9 59.7 76.9 60.6 C76.0 61.4 75.0 62.3 73.6 62.2 C72.3 62.1 69.7 61.4 68.7 59.7 C67.8 58.1 67.1 53.9 67.9 52.4Z" fill="#ff9a00"/>
<path d="M77.7 64.6 C77.7 65.1 77.6 65.7 77.4 66.1 C77.2 66.5 76.9 66.8 76.6 67.0 C76.3 67.1 75.9 67.1 75.6 67.0 C75.3 66.8 75.0 66.5 74.8 66.1 C74.6 65.7 74.5 65.1 74.5 64.6 C74.5 64.2 74.6 63.6 74.8 63.2 C75.0 62.8 75.3 62.5 75.6 62.3 C75.9 62.2 76.3 62.2 76.6 62.3 C76.9 62.5 77.2 62.8 77.4 63.2 C77.6 63.6 77.7 64.2 77.7 64.6Z" fill="#ff9a00"/>
<path d="M132.2 19.2 C132.2 19.6 132.1 20.2 132.0 20.5 C131.8 20.9 131.5 21.2 131.2 21.3 C131.0 21.5 130.6 21.5 130.4 21.3 C130.1 21.2 129.8 20.9 129.6 20.5 C129.5 20.2 129.4 19.6 129.4 19.2 C129.4 18.8 129.5 18.2 129.6 17.9 C129.8 17.5 130.1 17.2 130.4 17.1 C130.6 16.9 131.0 16.9 131.2 17.1 C131.5 17.2 131.8 17.5 132.0 17.9 C132.1 18.2 132.2 18.8 132.2 19.2Z" fill="#fff46a"/>
<path d="M122.0 62.4 C122.5 59.9 124.7 53.1 126.8 49.6 C128.9 46.1 132.7 43.3 134.8 41.6 C136.9 39.9 138.0 39.5 139.6 39.2 C141.2 38.9 142.3 40.0 144.4 40.0 C146.5 40.0 151.2 38.5 152.4 39.2 C153.6 39.9 152.9 42.5 151.6 44.0 C150.3 45.5 146.7 46.3 144.4 48.0 C142.1 49.7 139.9 52.3 138.0 54.4 C136.1 56.5 134.8 59.2 133.2 60.8 C131.6 62.4 130.0 63.3 128.4 64.0 C126.8 64.7 124.7 65.1 123.6 64.8 C122.5 64.5 121.5 64.9 122.0 62.4Z" fill="#fff46a"/>
<path d="M127.6 51.2 C128.5 50.0 131.5 48.1 133.2 46.4 C134.9 44.7 136.5 41.7 138.0 40.8 C139.5 39.9 141.1 40.3 142.0 40.8 C142.9 41.3 144.0 42.8 143.6 44.0 C143.2 45.2 140.9 46.8 139.6 48.0 C138.3 49.2 136.7 50.0 135.6 51.2 C134.5 52.4 134.1 54.5 133.2 55.2 C132.3 55.9 130.9 55.5 130.0 55.2 C129.1 54.9 128.0 54.3 127.6 53.6 C127.2 52.9 126.7 52.4 127.6 51.2Z" fill="#ff9a00"/>
<path d="M145.2 42.4 C146.0 41.5 149.7 40.1 150.8 40.0 C151.9 39.9 152.6 41.0 151.8 41.9 C151.0 42.9 147.1 45.5 146.0 45.6 C144.9 45.7 144.4 43.3 145.2 42.4Z" fill="#ff9a00"/>
<path d="M130.8 52.0 C131.3 51.5 133.0 51.5 133.5 52.0 C134.1 52.5 134.3 54.3 134.2 55.2 C134.0 56.1 133.0 57.6 132.4 57.6 C131.8 57.6 131.1 56.1 130.8 55.2 C130.5 54.3 130.3 52.5 130.8 52.0Z" fill="#ff1a00"/>
<path d="M94.8 67.2 C95.6 66.4 98.8 66.4 99.6 67.2 C100.4 68.0 100.4 71.2 99.6 72.0 C98.8 72.8 95.6 72.8 94.8 72.0 C94.0 71.2 94.0 68.0 94.8 67.2Z" fill="#fff46a"/>
<path d="M99.6 63.2 C100.7 62.5 104.9 62.5 106.0 63.2 C107.1 63.9 107.1 66.5 106.0 67.2 C104.9 67.9 100.7 67.9 99.6 67.2 C98.5 66.5 98.5 63.9 99.6 63.2Z" fill="#fff46a"/>
<path d="M24.5 67.0 C27.6 65.9 35.7 65.9 37.6 67.0 C39.6 68.1 37.1 71.1 36.0 73.5 C34.9 76.0 32.7 78.7 31.1 81.7 C29.5 84.7 27.8 89.9 26.2 91.5 C24.5 93.2 22.9 92.4 21.3 91.5 C19.6 90.7 17.3 88.8 16.4 86.6 C15.4 84.5 15.0 80.6 15.5 78.5 C16.1 76.3 18.1 75.5 19.6 73.5 C21.1 71.6 21.5 68.1 24.5 67.0Z" fill="#fff46a"/>
<path d="M17.2 80.1 C18.3 79.4 21.7 78.7 22.9 79.3 C24.1 79.8 24.4 81.6 24.5 83.4 C24.7 85.1 24.4 88.5 23.7 89.9 C23.0 91.3 21.5 91.8 20.5 91.5 C19.4 91.3 17.9 89.6 17.2 88.3 C16.5 86.9 16.4 84.7 16.4 83.4 C16.4 82.0 16.1 80.8 17.2 80.1Z" fill="#ff9a00"/>
<path d="M27.8 67.0 C28.3 66.3 30.1 66.3 30.4 67.0 C30.8 67.7 30.6 70.4 30.1 71.1 C29.7 71.8 28.2 71.8 27.8 71.1 C27.4 70.4 27.4 67.7 27.8 67.0Z" fill="#ff9a00"/>
<path d="M44.2 67.0 C45.7 66.5 52.5 66.5 54.0 67.0 C55.5 67.5 54.7 69.7 53.2 70.3 C51.7 70.8 46.5 70.8 45.0 70.3 C43.5 69.7 42.7 67.5 44.2 67.0Z" fill="#fff46a"/>
<path d="M75.3 116.1 C76.5 114.6 79.4 115.6 81.8 115.3 C84.3 115.0 88.7 111.3 90.0 114.5 C91.4 117.6 91.4 131.0 90.0 134.1 C88.7 137.2 84.0 133.8 81.8 133.3 C79.7 132.7 78.2 132.3 76.9 130.8 C75.7 129.3 74.7 126.7 74.5 124.3 C74.2 121.8 74.1 117.6 75.3 116.1Z" fill="#fff46a"/>
<path d="M81.8 118.6 C82.7 117.3 85.4 117.1 86.7 116.9 C88.1 116.8 89.5 116.0 90.0 117.7 C90.6 119.5 90.8 125.9 90.0 127.6 C89.2 129.2 86.5 128.4 85.1 127.9 C83.7 127.3 82.4 125.8 81.8 124.3 C81.3 122.7 81.0 119.8 81.8 118.6Z" fill="#ff1a00"/>
<path d="M88.1 121.8 C88.1 122.1 88.0 122.5 87.8 122.8 C87.7 123.0 87.4 123.3 87.1 123.4 C86.9 123.5 86.6 123.5 86.3 123.4 C86.1 123.3 85.8 123.0 85.7 122.8 C85.5 122.5 85.4 122.1 85.4 121.8 C85.4 121.5 85.5 121.1 85.7 120.9 C85.8 120.6 86.1 120.4 86.3 120.3 C86.6 120.2 86.9 120.2 87.1 120.3 C87.4 120.4 87.7 120.6 87.8 120.9 C88.0 121.1 88.1 121.5 88.1 121.8Z" fill="#b0000a"/>
<path d="M106.0 115.0 C107.6 113.8 111.3 112.9 114.0 112.6 C116.7 112.3 119.6 114.1 122.0 113.4 C124.4 112.7 126.5 109.9 128.4 108.6 C130.3 107.3 132.0 105.5 133.2 105.4 C134.4 105.3 135.6 106.2 135.6 107.8 C135.6 109.4 134.4 112.7 133.2 115.0 C132.0 117.3 130.3 119.5 128.4 121.4 C126.5 123.3 124.4 124.9 122.0 126.2 C119.6 127.5 116.4 128.7 114.0 129.4 C111.6 130.1 109.1 130.7 107.6 130.2 C106.1 129.7 105.7 127.9 105.2 126.2 C104.7 124.5 104.3 121.7 104.4 119.8 C104.5 117.9 104.4 116.2 106.0 115.0Z" fill="#fff46a"/>
<path d="M118.0 122.2 C118.4 120.9 121.9 118.3 123.6 116.6 C125.3 114.9 126.9 113.4 128.4 111.8 C129.9 110.2 131.5 107.4 132.4 107.0 C133.3 106.6 134.3 107.8 134.0 109.4 C133.7 111.0 132.1 114.5 130.8 116.6 C129.5 118.7 127.6 120.9 126.0 122.2 C124.4 123.5 122.5 124.6 121.2 124.6 C119.9 124.6 117.6 123.5 118.0 122.2Z" fill="#ff9a00"/>
<path d="M108.9 115.0 C109.8 113.8 114.3 113.7 115.6 114.2 C116.9 114.7 116.9 117.0 116.9 118.2 C116.9 119.4 116.7 120.9 115.6 121.4 C114.5 121.9 111.1 122.5 110.0 121.4 C108.9 120.3 107.9 116.2 108.9 115.0Z" fill="#ff9a00"/>
<path d="M115.1 118.2 C115.1 118.6 115.0 119.2 114.8 119.5 C114.5 119.9 114.2 120.2 113.8 120.3 C113.4 120.5 113.0 120.5 112.6 120.3 C112.2 120.2 111.9 119.9 111.6 119.5 C111.4 119.2 111.3 118.6 111.3 118.2 C111.3 117.8 111.4 117.2 111.6 116.9 C111.9 116.5 112.2 116.2 112.6 116.1 C113.0 115.9 113.4 115.9 113.8 116.1 C114.2 116.2 114.5 116.5 114.8 116.9 C115.0 117.2 115.1 117.8 115.1 118.2Z" fill="#ff1a00"/>
<path d="M109.2 127.0 C109.9 126.3 113.1 125.7 114.0 126.2 C114.9 126.7 115.5 129.0 114.8 129.7 C114.1 130.4 110.5 130.8 109.5 130.4 C108.6 129.9 108.5 127.7 109.2 127.0Z" fill="#ff9a00"/>
<path d="M94.8 126.5 C95.8 125.4 100.2 125.2 101.5 126.2 C102.8 127.2 103.5 131.5 102.5 132.6 C101.5 133.7 96.9 133.9 95.6 132.9 C94.3 131.9 93.8 127.6 94.8 126.5Z" fill="#ff9a00"/>
<path d="M100.6 129.4 C100.6 129.9 100.4 130.5 100.1 130.9 C99.9 131.3 99.4 131.7 99.0 131.8 C98.6 132.0 98.0 132.0 97.6 131.8 C97.2 131.7 96.8 131.3 96.5 130.9 C96.2 130.5 96.1 129.9 96.1 129.4 C96.1 128.9 96.2 128.3 96.5 127.9 C96.8 127.5 97.2 127.1 97.6 127.0 C98.0 126.8 98.6 126.8 99.0 127.0 C99.4 127.1 99.9 127.5 100.1 127.9 C100.4 128.3 100.6 128.9 100.6 129.4Z" fill="#ff1a00"/>
<path d="M136.7 115.0 C137.3 113.7 139.7 113.1 140.4 114.2 C141.1 115.3 141.1 119.5 140.9 121.4 C140.6 123.3 139.5 125.3 138.8 125.4 C138.1 125.5 137.1 123.9 136.7 122.2 C136.4 120.5 136.1 116.3 136.7 115.0Z" fill="#ff9a00"/>
<path d="M102.0 137.4 C102.8 136.3 106.5 136.5 107.6 137.4 C108.7 138.3 109.2 141.9 108.4 143.0 C107.6 144.1 103.9 145.1 102.8 144.1 C101.7 143.2 101.2 138.5 102.0 137.4Z" fill="#fff46a"/>
<path d="M105.4 141.7 C105.4 142.0 105.3 142.3 105.1 142.5 C105.0 142.7 104.7 142.9 104.5 142.9 C104.2 143.0 103.9 143.0 103.7 142.9 C103.4 142.9 103.2 142.7 103.0 142.5 C102.9 142.3 102.8 142.0 102.8 141.7 C102.8 141.5 102.9 141.2 103.0 141.0 C103.2 140.8 103.4 140.6 103.7 140.5 C103.9 140.4 104.2 140.4 104.5 140.5 C104.7 140.6 105.0 140.8 105.1 141.0 C105.3 141.2 105.4 141.5 105.4 141.7Z" fill="#ff9a00"/>
<path d="M90.0 123.0 C90.8 122.5 94.1 122.7 94.8 123.3 C95.5 123.9 95.3 126.0 94.5 126.5 C93.7 127.1 90.7 127.1 90.0 126.5 C89.3 125.9 89.2 123.5 90.0 123.0Z" fill="#fff46a"/>
</g>
<use href="#dRiv" fill="none" stroke="#40d0f0" stroke-width="1"/>
<use href="#dCh" fill="none" stroke="#5e5e5e" stroke-width="0.8"/>
<use href="#dCoast" fill="none" stroke="#40d0f0" stroke-width="0.9"/>
<use href="#dIs" fill="none" stroke="#40d0f0" stroke-width="0.7"/>
</g>
<g transform="translate(0,114.4)">
<rect x="2" y="0" width="37.3" height="40" fill="#fff" stroke="#999" stroke-width="0.8"/>
<text x="4.9" y="4.6" font-size="2.7" fill="#333" font-family="Liberation Sans,Arial,sans-serif">Intensity</text>
<rect x="2.9" y="6.50" width="9.8" height="3" fill="#fff" stroke="#bbb" stroke-width="0.4"/>
<text x="13.9" y="9.10" font-size="2.95" fill="#1a1a3a" stroke="#1a1a3a" stroke-width="0.08" font-family="Liberation Sans,Arial,sans-serif">No Drought</text>
<rect x="2.9" y="12.05" width="9.8" height="3" fill="#ffff66" stroke="#bbb" stroke-width="0.4"/>
<text x="13.9" y="14.65" font-size="2.95" fill="#1a1a3a" stroke="#1a1a3a" stroke-width="0.08" font-family="Liberation Sans,Arial,sans-serif">Mild Drought</text>
<rect x="2.9" y="17.60" width="9.8" height="3" fill="#ff9900" stroke="#bbb" stroke-width="0.4"/>
<text x="13.9" y="20.20" font-size="2.95" fill="#1a1a3a" stroke="#1a1a3a" stroke-width="0.08" font-family="Liberation Sans,Arial,sans-serif">Moderate Drought</text>
<rect x="2.9" y="23.15" width="9.8" height="3" fill="#ff0000" stroke="#bbb" stroke-width="0.4"/>
<text x="13.9" y="25.75" font-size="2.95" fill="#1a1a3a" stroke="#1a1a3a" stroke-width="0.08" font-family="Liberation Sans,Arial,sans-serif">Severe Drought</text>
<rect x="2.9" y="28.70" width="9.8" height="3" fill="#b00010" stroke="#bbb" stroke-width="0.4"/>
<text x="13.9" y="31.30" font-size="2.95" fill="#1a1a3a" stroke="#1a1a3a" stroke-width="0.08" font-family="Liberation Sans,Arial,sans-serif">Extreme Drought</text>
</g>
<use href="#dIns" y="112.0"/>
</svg>
<rect x="185.65" y="34.65" width="176.7" height="146.7" fill="none" stroke="#555" stroke-width="1.3"/>
<svg x="185" y="184" width="178" height="146" overflow="hidden"><rect width="178" height="146" fill="#eef2fb"/>
<g transform="translate(0.8,0)"><use href="#sSea" fill="#62cffc"/>
<use href="#sJp" fill="#eef2fb" stroke="#fff" stroke-width="0.6"/>
<use href="#sBord" fill="none" stroke="#d3c9bb" stroke-width="1.2"/>
<use href="#sDmz" fill="none" stroke="#f06a9a" stroke-width="1"/>
<use href="#sCh" fill="#f6f7fb"/>
<use href="#sIs" fill="#f6f7fb"/>
<g clip-path="url(#sClip)"><use href="#sCh" fill="url(#pG)"/></g>
<use href="#sRiv" fill="none" stroke="#55bdf2" stroke-width="1.5"/>
<use href="#sLake" fill="none" stroke="#52c0f2" stroke-width="1.8"/>
<g clip-path="url(#sClip)"><g filter="url(#fb)">
<path d="M141.7 7.9 C143.8 7.4 148.9 6.2 150.6 8.8 C152.2 11.5 152.5 18.8 151.5 23.6 C150.6 28.3 146.1 32.4 144.7 37.3 C143.2 42.2 144.0 49.4 142.7 53.0 C141.4 56.6 138.8 58.3 136.8 58.9 C134.8 59.6 131.6 60.2 130.9 57.0 C130.2 53.7 132.2 44.9 132.9 39.3 C133.5 33.7 134.0 28.2 134.8 23.6 C135.7 19.0 136.6 14.4 137.8 11.8 C138.9 9.2 139.6 8.3 141.7 7.9Z" fill="url(#pY)"/>
<path d="M132.9 23.6 C133.9 21.3 139.3 21.6 140.7 23.6 C142.2 25.5 142.7 33.1 141.7 35.4 C140.7 37.7 136.3 39.3 134.8 37.3 C133.4 35.4 131.9 25.9 132.9 23.6Z" fill="url(#pO)"/>
<path d="M132.9 43.2 C135.2 40.8 140.7 41.9 142.7 44.2 C144.7 46.5 145.6 53.5 144.7 57.0 C143.7 60.4 139.4 62.5 136.8 64.8 C134.2 67.1 130.9 68.8 128.9 70.7 C127.0 72.7 126.0 76.9 125.0 76.6 C124.0 76.3 122.4 71.7 123.0 68.8 C123.7 65.8 127.3 63.2 128.9 58.9 C130.6 54.7 130.6 45.7 132.9 43.2Z" fill="url(#pO)"/>
<path d="M32.4 35.6 C36.1 32.9 51.1 32.9 55.0 35.6 C58.9 38.3 59.4 49.1 55.7 51.8 C51.9 54.5 36.2 54.5 32.4 51.8 C28.5 49.1 28.6 38.3 32.4 35.6Z" fill="url(#pY)"/>
<path d="M12.9 58.3 C18.9 55.6 42.6 55.6 48.5 58.3 C54.5 60.9 54.5 71.7 48.5 74.4 C42.6 77.1 18.9 77.1 12.9 74.4 C7.0 71.7 7.0 60.9 12.9 58.3Z" fill="url(#pY)"/>
<path d="M58.3 55.0 C64.7 53.4 90.6 53.4 97.1 55.0 C103.6 56.6 103.6 63.1 97.1 64.7 C90.6 66.3 64.7 66.3 58.3 64.7 C51.8 63.1 51.8 56.6 58.3 55.0Z" fill="url(#pY)"/>
<path d="M84.1 84.1 C88.5 79.8 105.7 79.8 110.0 84.1 C114.3 88.5 114.3 105.7 110.0 110.0 C105.7 114.3 88.5 114.3 84.1 110.0 C79.8 105.7 79.8 88.5 84.1 84.1Z" fill="url(#pY)"/>
<path d="M74.4 106.8 C78.2 103.6 93.3 103.6 97.1 106.8 C100.9 110.0 100.9 123.0 97.1 126.2 C93.3 129.4 78.2 129.4 74.4 126.2 C70.7 123.0 70.7 110.0 74.4 106.8Z" fill="url(#pY)"/>
<path d="M113.3 93.9 C117.6 90.6 134.8 90.6 139.2 93.9 C143.5 97.1 143.5 110.0 139.2 113.3 C134.8 116.5 117.6 116.5 113.3 113.3 C109.0 110.0 109.0 97.1 113.3 93.9Z" fill="url(#pY)"/>
<path d="M97.1 116.5 C102.5 113.8 124.1 113.8 129.4 116.5 C134.8 119.2 134.8 130.0 129.4 132.7 C124.1 135.4 102.5 135.4 97.1 132.7 C91.7 130.0 91.7 119.2 97.1 116.5Z" fill="url(#pY)"/>
<path d="M123.0 64.7 C124.6 63.1 131.1 63.1 132.7 64.7 C134.3 66.3 134.3 72.8 132.7 74.4 C131.1 76.1 124.6 76.1 123.0 74.4 C121.4 72.8 121.4 66.3 123.0 64.7Z" fill="url(#pO)"/>
<path d="M87.4 93.9 C89.0 91.2 95.5 91.2 97.1 93.9 C98.7 96.5 98.7 107.3 97.1 110.0 C95.5 112.7 89.0 112.7 87.4 110.0 C85.8 107.3 85.8 96.5 87.4 93.9Z" fill="url(#pO)"/>
<path d="M123.0 93.9 C125.7 91.2 136.7 91.2 139.2 93.9 C141.6 96.5 140.2 107.3 137.5 110.0 C134.8 112.7 125.4 112.7 123.0 110.0 C120.6 107.3 120.3 96.5 123.0 93.9Z" fill="url(#pO)"/>
<path d="M113.3 116.5 C115.4 114.9 124.1 114.9 126.2 116.5 C128.4 118.1 128.4 124.6 126.2 126.2 C124.1 127.8 115.4 127.8 113.3 126.2 C111.1 124.6 111.1 118.1 113.3 116.5Z" fill="url(#pO)"/>
<path d="M135.9 55.0 C137.5 53.7 144.0 53.3 145.6 54.4 C147.2 55.4 147.2 60.2 145.6 61.5 C144.0 62.8 137.5 63.2 135.9 62.1 C134.3 61.1 134.3 56.3 135.9 55.0Z" fill="url(#pR)"/>
<path d="M89.0 98.7 C89.8 97.6 93.0 97.6 93.9 98.7 C94.7 99.8 94.7 104.1 93.9 105.2 C93.0 106.3 89.8 106.3 89.0 105.2 C88.2 104.1 88.2 99.8 89.0 98.7Z" fill="url(#pR)"/>
</g></g>
<use href="#sLand" fill="none" stroke="#d4aa52" stroke-width="1.6" stroke-linejoin="round"/>
<path d="M8.2 87.4L11.5 86.5L15.5 87.4M8.2 87.4L7.4 90.6L8.2 93.1" fill="none" stroke="#ea4f9c" stroke-width="0.9"/>
<path d="M142.6 117.5L141.3 125.5L139.6 133L135.5 140" fill="none" stroke="#d4aa52" stroke-width="1.1" stroke-dasharray="2.2 1.6"/>
<ellipse cx="138" cy="142" rx="2.6" ry="2.2" fill="#f4f6fa"/>
<rect x="1" y="138.0" width="82" height="9" fill="#fff"/>
<rect x="1.6" y="135.4" width="18.9" height="2.7" fill="#8c0000"/>
<text x="11.1" y="142.8" font-size="3.5" font-weight="bold" fill="#8b1a1a" text-anchor="middle" font-family="Liberation Sans,Arial,sans-serif">0.37%</text>
<rect x="21.3" y="135.4" width="19.3" height="2.7" fill="#ec0000"/>
<text x="31.0" y="142.8" font-size="3.5" font-weight="bold" fill="#e02020" text-anchor="middle" font-family="Liberation Sans,Arial,sans-serif">2.11%</text>
<rect x="41.7" y="135.4" width="19.2" height="2.7" fill="#ff8c00"/>
<text x="51.3" y="142.8" font-size="3.5" font-weight="bold" fill="#f59a20" text-anchor="middle" font-family="Liberation Sans,Arial,sans-serif">9.44%</text>
<rect x="62.2" y="135.4" width="18.8" height="2.7" fill="#ffe000"/>
<text x="71.6" y="142.8" font-size="3.5" font-weight="bold" fill="#e8d040" text-anchor="middle" font-family="Liberation Sans,Arial,sans-serif">22.16%</text></g>
</svg>
<rect x="185.65" y="184.65" width="176.7" height="144.7" fill="none" stroke="#555" stroke-width="1.3"/>
<rect x="364" y="8" width="178.5" height="24" fill="#1473c8"/>
<text class="t" transform="translate(453.2,25) scale(0.87,1)" font-size="13.8" text-anchor="middle">Aug. 15, 2021</text>
<svg x="365" y="34" width="178" height="148" overflow="hidden"><rect width="178" height="148" fill="#fff"/>
<g transform="translate(0,-1)">
<use href="#dCh" fill="#fff"/>
<use href="#dProv" fill="none" stroke="#c4c4c4" stroke-width="0.6"/>
<g clip-path="url(#dClip)">
<path d="M31.1 34.4 C32.2 32.3 35.5 29.3 37.6 28.6 C39.8 28.0 42.3 30.7 44.2 30.3 C46.1 29.9 47.5 26.5 49.1 26.2 C50.7 25.9 52.8 27.0 54.0 28.6 C55.2 30.3 55.9 33.7 56.5 36.0 C57.0 38.3 57.7 40.6 57.3 42.6 C56.9 44.5 55.6 46.4 54.0 47.5 C52.4 48.6 49.4 49.1 47.5 49.1 C45.6 49.1 43.9 48.3 42.6 47.5 C41.2 46.6 40.6 44.7 39.3 44.2 C37.9 43.6 35.7 44.7 34.4 44.2 C33.0 43.6 31.6 42.6 31.1 40.9 C30.6 39.3 30.0 36.4 31.1 34.4Z" fill="#fff46a"/>
<path d="M41.7 35.2 C42.5 33.7 46.1 33.0 47.5 33.6 C48.8 34.1 49.9 36.9 49.9 38.5 C49.9 40.0 48.6 42.2 47.5 42.9 C46.3 43.6 43.8 43.8 42.9 42.6 C41.9 41.3 41.0 36.7 41.7 35.2Z" fill="#fff"/>
<path d="M30.8 34.7 C31.2 33.8 32.9 33.4 33.6 34.0 C34.2 34.7 34.8 37.3 34.7 38.5 C34.6 39.6 33.4 40.8 32.7 40.9 C32.1 41.1 31.1 40.3 30.8 39.3 C30.4 38.2 30.3 35.6 30.8 34.7Z" fill="#ff9a00"/>
<path d="M53.0 33.6 C53.0 33.9 52.9 34.3 52.8 34.6 C52.7 34.9 52.4 35.2 52.2 35.3 C52.0 35.4 51.7 35.4 51.5 35.3 C51.3 35.2 51.1 34.9 51.0 34.6 C50.8 34.3 50.7 33.9 50.7 33.6 C50.7 33.2 50.8 32.8 51.0 32.5 C51.1 32.2 51.3 31.9 51.5 31.8 C51.7 31.7 52.0 31.7 52.2 31.8 C52.4 31.9 52.7 32.2 52.8 32.5 C52.9 32.8 53.0 33.2 53.0 33.6Z" fill="#ff9a00"/>
<path d="M35.2 62.2 C36.3 60.4 40.0 60.4 42.6 60.2 C45.1 60.0 49.0 60.0 50.7 60.9 C52.4 61.8 52.7 63.7 52.7 65.5 C52.7 67.2 52.4 70.0 50.7 71.2 C49.0 72.3 45.0 72.4 42.6 72.3 C40.1 72.3 37.2 72.4 36.0 70.7 C34.8 69.0 34.1 63.9 35.2 62.2Z" fill="#fff46a"/>
<path d="M141.2 32.0 C142.2 29.7 145.6 28.3 147.6 26.4 C149.6 24.5 151.6 22.1 153.2 20.8 C154.8 19.5 156.4 17.5 157.2 18.9 C158.0 20.2 158.3 25.5 158.0 28.8 C157.7 32.1 156.7 35.9 155.6 38.4 C154.5 40.9 153.2 42.9 151.6 44.0 C150.0 45.1 147.7 45.5 146.0 44.8 C144.3 44.1 142.3 42.1 141.5 40.0 C140.7 37.9 140.2 34.3 141.2 32.0Z" fill="#fff46a"/>
<path d="M143.6 33.6 C144.4 31.9 146.3 29.9 147.6 28.0 C148.9 26.1 150.3 23.9 151.6 22.4 C152.9 20.9 154.8 18.7 155.6 19.2 C156.4 19.7 156.5 23.5 156.4 25.6 C156.3 27.7 155.5 29.9 154.8 32.0 C154.1 34.1 153.3 36.7 152.4 38.4 C151.5 40.1 150.4 41.7 149.2 42.4 C148.0 43.1 146.3 43.1 145.2 42.4 C144.1 41.7 143.1 39.9 142.8 38.4 C142.5 36.9 142.8 35.3 143.6 33.6Z" fill="#ff9a00"/>
<path d="M145.2 32.8 C145.5 31.5 147.4 30.9 148.4 31.2 C149.4 31.5 150.8 33.1 151.1 34.4 C151.5 35.7 151.3 38.4 150.5 39.2 C149.7 40.0 147.2 40.3 146.3 39.2 C145.4 38.1 144.9 34.1 145.2 32.8Z" fill="#ff1a00"/>
<path d="M151.6 23.2 C152.1 22.0 154.1 20.3 154.8 20.8 C155.5 21.3 156.1 24.8 155.9 26.4 C155.8 28.0 154.7 30.1 154.0 30.4 C153.3 30.7 152.0 29.2 151.6 28.0 C151.2 26.8 151.1 24.4 151.6 23.2Z" fill="#ff1a00"/>
<path d="M141.2 51.2 C141.2 51.5 141.1 51.9 140.9 52.1 C140.7 52.4 140.4 52.6 140.1 52.7 C139.8 52.8 139.4 52.8 139.1 52.7 C138.8 52.6 138.5 52.4 138.3 52.1 C138.1 51.9 138.0 51.5 138.0 51.2 C138.0 50.9 138.1 50.5 138.3 50.3 C138.5 50.0 138.8 49.8 139.1 49.7 C139.4 49.6 139.8 49.6 140.1 49.7 C140.4 49.8 140.7 50.0 140.9 50.3 C141.1 50.5 141.2 50.9 141.2 51.2Z" fill="#fff46a"/>
<path d="M132.4 68.8 C132.4 69.1 132.3 69.5 132.2 69.7 C132.0 70.0 131.8 70.2 131.5 70.3 C131.3 70.4 131.0 70.4 130.7 70.3 C130.5 70.2 130.2 70.0 130.1 69.7 C129.9 69.5 129.8 69.1 129.8 68.8 C129.8 68.5 129.9 68.1 130.1 67.9 C130.2 67.6 130.5 67.4 130.7 67.3 C131.0 67.2 131.3 67.2 131.5 67.3 C131.8 67.4 132.0 67.6 132.2 67.9 C132.3 68.1 132.4 68.5 132.4 68.8Z" fill="#ff9a00"/>
<path d="M66.3 53.4 C67.7 51.0 71.5 50.4 74.4 50.2 C77.4 49.9 80.9 51.2 84.1 51.8 C87.4 52.3 90.6 53.4 93.9 53.4 C97.1 53.4 100.6 51.8 103.6 51.8 C106.5 51.8 109.9 51.2 111.7 53.4 C113.4 55.6 113.6 60.7 113.9 64.7 C114.2 68.8 113.6 73.9 113.3 77.7 C112.9 81.4 113.3 85.2 111.7 87.4 C110.0 89.5 106.3 89.8 103.6 90.6 C100.9 91.4 97.1 89.5 95.5 92.2 C93.9 94.9 95.2 103.8 93.9 106.8 C92.5 109.8 89.5 110.0 87.4 110.0 C85.2 110.0 82.5 109.5 80.9 106.8 C79.3 104.1 79.0 97.6 77.7 93.9 C76.3 90.1 74.2 87.4 72.8 84.1 C71.5 80.9 70.7 77.7 69.6 74.4 C68.5 71.2 66.9 68.2 66.3 64.7 C65.8 61.2 65.0 55.8 66.3 53.4Z" fill="#fff46a"/>
<path d="M82.5 58.9 C84.3 57.2 90.3 56.7 92.2 58.3 C94.1 59.8 94.7 65.7 93.9 68.0 C93.0 70.2 89.4 71.7 87.4 71.8 C85.3 72.0 82.4 70.8 81.6 68.6 C80.7 66.5 80.7 60.6 82.5 58.9Z" fill="#fff"/>
<path d="M69.6 52.4 C71.5 51.5 78.7 50.8 80.9 51.8 C83.1 52.8 83.6 56.9 82.5 58.3 C81.4 59.6 76.6 60.0 74.4 59.9 C72.3 59.8 70.4 58.8 69.6 57.6 C68.8 56.4 67.7 53.4 69.6 52.4Z" fill="#ff9a00"/>
<path d="M90.6 55.0 C91.6 53.7 95.9 53.8 97.1 55.0 C98.3 56.2 98.7 60.8 97.7 62.1 C96.8 63.5 92.4 64.3 91.3 63.1 C90.1 61.9 89.6 56.4 90.6 55.0Z" fill="#ff9a00"/>
<path d="M104.2 53.4 C105.6 51.7 110.2 52.5 111.7 54.4 C113.1 56.3 112.9 61.1 112.6 64.7 C112.4 68.3 111.3 73.9 110.0 76.1 C108.8 78.2 106.3 79.6 105.2 77.7 C104.1 75.8 103.7 68.8 103.6 64.7 C103.4 60.7 102.9 55.1 104.2 53.4Z" fill="#ff9a00"/>
<path d="M76.1 74.4 C77.4 72.3 83.6 71.7 85.8 72.8 C87.9 73.9 89.0 78.5 89.0 80.9 C89.0 83.3 87.6 86.6 85.8 87.4 C83.9 88.2 79.3 87.9 77.7 85.8 C76.1 83.6 74.7 76.6 76.1 74.4Z" fill="#ff9a00"/>
<path d="M79.3 77.0 C79.9 75.4 83.5 75.0 84.8 76.1 C86.0 77.1 87.4 81.9 86.7 83.5 C86.1 85.1 82.1 86.8 80.9 85.8 C79.7 84.7 78.6 78.6 79.3 77.0Z" fill="#ff1a00"/>
<path d="M84.8 69.6 C86.7 66.3 93.1 66.3 97.1 66.3 C101.0 66.3 106.0 67.7 108.4 69.6 C110.8 71.5 111.9 75.0 111.7 77.7 C111.4 80.4 109.5 84.0 106.8 85.8 C104.1 87.5 99.0 88.0 95.5 88.0 C92.0 88.0 87.5 88.8 85.8 85.8 C84.0 82.7 82.9 72.8 84.8 69.6Z" fill="#ff9a00"/>
<path d="M86.7 71.8 C88.3 69.4 93.7 68.7 97.1 68.6 C100.4 68.5 104.7 69.6 106.8 71.2 C108.8 72.8 109.8 76.1 109.4 78.3 C109.0 80.6 106.7 83.5 104.2 84.8 C101.7 86.1 97.3 86.3 94.5 86.1 C91.7 85.9 88.7 85.9 87.4 83.5 C86.1 81.1 85.1 74.3 86.7 71.8Z" fill="#ff1a00"/>
<path d="M93.9 73.8 C95.2 72.6 100.2 71.7 101.9 72.5 C103.7 73.2 104.7 76.8 104.2 78.3 C103.7 79.8 100.4 81.3 98.7 81.6 C97.0 81.8 94.7 80.9 93.9 79.6 C93.0 78.3 92.5 75.0 93.9 73.8Z" fill="#b0000a"/>
<path d="M80.9 100.3 C82.0 98.7 86.8 98.2 89.0 98.7 C91.2 99.2 93.6 101.8 93.9 103.6 C94.1 105.3 92.5 108.6 90.6 109.4 C88.7 110.2 84.1 109.9 82.5 108.4 C80.9 106.9 79.8 101.9 80.9 100.3Z" fill="#ff9a00"/>
<path d="M52.4 96.5 C53.2 95.7 57.0 94.7 58.1 95.2 C59.2 95.6 59.7 98.2 58.9 98.9 C58.1 99.7 54.3 100.1 53.2 99.7 C52.1 99.3 51.6 97.2 52.4 96.5Z" fill="#fff46a"/>
<path d="M70.2 106.0 C70.2 106.3 70.0 106.8 69.8 107.1 C69.5 107.4 69.1 107.7 68.6 107.8 C68.2 107.9 67.6 107.9 67.2 107.8 C66.8 107.7 66.3 107.4 66.1 107.1 C65.8 106.8 65.6 106.3 65.6 106.0 C65.6 105.6 65.8 105.1 66.1 104.8 C66.3 104.5 66.8 104.2 67.2 104.1 C67.6 104.0 68.2 104.0 68.6 104.1 C69.1 104.2 69.5 104.5 69.8 104.8 C70.0 105.1 70.2 105.6 70.2 106.0Z" fill="#fff46a"/>
<path d="M76.8 128.4 C76.8 128.8 76.6 129.4 76.3 129.7 C76.1 130.1 75.6 130.4 75.2 130.6 C74.7 130.7 74.2 130.7 73.8 130.6 C73.3 130.4 72.9 130.1 72.6 129.7 C72.4 129.4 72.2 128.8 72.2 128.4 C72.2 127.9 72.4 127.4 72.6 127.0 C72.9 126.7 73.3 126.3 73.8 126.2 C74.2 126.1 74.7 126.1 75.2 126.2 C75.6 126.3 76.1 126.7 76.3 127.0 C76.6 127.4 76.8 127.9 76.8 128.4Z" fill="#fff46a"/>
<path d="M121.2 111.8 C122.0 110.5 125.5 110.0 126.8 110.5 C128.1 111.1 128.6 113.7 128.7 115.0 C128.9 116.3 128.7 117.9 127.6 118.5 C126.5 119.1 123.1 119.6 122.0 118.5 C120.9 117.4 120.4 113.1 121.2 111.8Z" fill="#fff46a"/>
<path d="M127.4 115.0 C127.4 115.3 127.3 115.7 127.1 115.9 C127.0 116.2 126.6 116.4 126.3 116.5 C126.0 116.6 125.6 116.6 125.3 116.5 C125.0 116.4 124.7 116.2 124.5 115.9 C124.4 115.7 124.2 115.3 124.2 115.0 C124.2 114.7 124.4 114.3 124.5 114.1 C124.7 113.8 125.0 113.6 125.3 113.5 C125.6 113.4 126.0 113.4 126.3 113.5 C126.6 113.6 127.0 113.8 127.1 114.1 C127.3 114.3 127.4 114.7 127.4 115.0Z" fill="#ff9a00"/>
<path d="M99.6 119.0 C100.7 117.7 105.1 117.3 106.8 117.9 C108.5 118.4 109.4 120.8 109.5 122.2 C109.7 123.6 109.1 125.9 107.6 126.5 C106.1 127.1 101.7 127.1 100.4 125.9 C99.1 124.6 98.5 120.3 99.6 119.0Z" fill="#fff46a"/>
<path d="M108.4 123.0 C108.4 123.3 108.3 123.7 108.1 123.9 C107.9 124.2 107.6 124.4 107.3 124.5 C107.0 124.6 106.6 124.6 106.3 124.5 C106.0 124.4 105.7 124.2 105.5 123.9 C105.3 123.7 105.2 123.3 105.2 123.0 C105.2 122.7 105.3 122.3 105.5 122.1 C105.7 121.8 106.0 121.6 106.3 121.5 C106.6 121.4 107.0 121.4 107.3 121.5 C107.6 121.6 107.9 121.8 108.1 122.1 C108.3 122.3 108.4 122.7 108.4 123.0Z" fill="#ff9a00"/>
<path d="M102.0 137.4 C102.7 136.6 106.0 136.6 106.8 137.4 C107.6 138.2 107.5 141.4 106.8 142.2 C106.1 143.0 103.3 143.0 102.5 142.2 C101.7 141.4 101.3 138.2 102.0 137.4Z" fill="#fff46a"/>
<path d="M132.4 68.6 C132.4 68.9 132.3 69.3 132.2 69.5 C132.0 69.8 131.8 70.0 131.5 70.1 C131.3 70.2 131.0 70.2 130.7 70.1 C130.5 70.0 130.2 69.8 130.1 69.5 C129.9 69.3 129.8 68.9 129.8 68.6 C129.8 68.3 129.9 67.9 130.1 67.7 C130.2 67.4 130.5 67.2 130.7 67.1 C131.0 67.0 131.3 67.0 131.5 67.1 C131.8 67.2 132.0 67.4 132.2 67.7 C132.3 67.9 132.4 68.3 132.4 68.6Z" fill="#ff9a00"/>
</g>
<use href="#dRiv" fill="none" stroke="#40d0f0" stroke-width="1"/>
<use href="#dCh" fill="none" stroke="#5e5e5e" stroke-width="0.8"/>
<use href="#dCoast" fill="none" stroke="#40d0f0" stroke-width="0.9"/>
<use href="#dIs" fill="none" stroke="#40d0f0" stroke-width="0.7"/>
</g>
<g transform="translate(0,114.4)">
<rect x="2" y="0" width="37.3" height="40" fill="#fff" stroke="#999" stroke-width="0.8"/>
<text x="4.9" y="4.6" font-size="2.7" fill="#333" font-family="Liberation Sans,Arial,sans-serif">Intensity</text>
<rect x="2.9" y="6.50" width="9.8" height="3" fill="#fff" stroke="#bbb" stroke-width="0.4"/>
<text x="13.9" y="9.10" font-size="2.95" fill="#1a1a3a" stroke="#1a1a3a" stroke-width="0.08" font-family="Liberation Sans,Arial,sans-serif">No Drought</text>
<rect x="2.9" y="12.05" width="9.8" height="3" fill="#ffff66" stroke="#bbb" stroke-width="0.4"/>
<text x="13.9" y="14.65" font-size="2.95" fill="#1a1a3a" stroke="#1a1a3a" stroke-width="0.08" font-family="Liberation Sans,Arial,sans-serif">Mild Drought</text>
<rect x="2.9" y="17.60" width="9.8" height="3" fill="#ff9900" stroke="#bbb" stroke-width="0.4"/>
<text x="13.9" y="20.20" font-size="2.95" fill="#1a1a3a" stroke="#1a1a3a" stroke-width="0.08" font-family="Liberation Sans,Arial,sans-serif">Moderate Drought</text>
<rect x="2.9" y="23.15" width="9.8" height="3" fill="#ff0000" stroke="#bbb" stroke-width="0.4"/>
<text x="13.9" y="25.75" font-size="2.95" fill="#1a1a3a" stroke="#1a1a3a" stroke-width="0.08" font-family="Liberation Sans,Arial,sans-serif">Severe Drought</text>
<rect x="2.9" y="28.70" width="9.8" height="3" fill="#b00010" stroke="#bbb" stroke-width="0.4"/>
<text x="13.9" y="31.30" font-size="2.95" fill="#1a1a3a" stroke="#1a1a3a" stroke-width="0.08" font-family="Liberation Sans,Arial,sans-serif">Extreme Drought</text>
</g>
<use href="#dIns" y="112.0"/>
</svg>
<rect x="365.65" y="34.65" width="176.7" height="146.7" fill="none" stroke="#555" stroke-width="1.3"/>
<svg x="365" y="184" width="178" height="146" overflow="hidden"><rect width="178" height="146" fill="#eef2fb"/>
<g transform="translate(0,0)"><use href="#sSea" fill="#62cffc"/>
<use href="#sJp" fill="#eef2fb" stroke="#fff" stroke-width="0.6"/>
<use href="#sBord" fill="none" stroke="#d3c9bb" stroke-width="1.2"/>
<use href="#sDmz" fill="none" stroke="#f06a9a" stroke-width="1"/>
<use href="#sCh" fill="#f6f7fb"/>
<use href="#sIs" fill="#f6f7fb"/>
<g clip-path="url(#sClip)"><use href="#sCh" fill="url(#pG)"/></g>
<use href="#sRiv" fill="none" stroke="#55bdf2" stroke-width="1.5"/>
<use href="#sLake" fill="none" stroke="#52c0f2" stroke-width="1.8"/>
<g clip-path="url(#sClip)"><g filter="url(#fb)">
<path d="M24.3 42.1 C27.5 38.3 34.3 36.1 38.8 35.6 C43.4 35.1 48.5 35.6 51.8 38.8 C55.0 42.1 56.1 50.7 58.3 55.0 C60.4 59.3 66.3 61.5 64.7 64.7 C63.1 68.0 53.9 72.3 48.5 74.4 C43.1 76.6 37.2 78.2 32.4 77.7 C27.5 77.1 21.6 74.4 19.4 71.2 C17.3 68.0 18.6 63.1 19.4 58.3 C20.2 53.4 21.0 45.8 24.3 42.1Z" fill="url(#pY)"/>
<path d="M64.7 55.0 C68.0 52.9 78.7 54.5 84.1 55.0 C89.5 55.6 96.0 55.6 97.1 58.3 C98.2 60.9 94.4 68.5 90.6 71.2 C86.8 73.9 78.7 75.0 74.4 74.4 C70.1 73.9 66.3 71.2 64.7 68.0 C63.1 64.7 61.5 57.2 64.7 55.0Z" fill="url(#pY)"/>
<path d="M77.7 58.3 C79.8 54.2 90.6 56.1 97.1 56.6 C103.6 57.2 112.7 58.5 116.5 61.5 C120.3 64.5 120.3 69.6 119.7 74.4 C119.2 79.3 113.8 85.2 113.3 90.6 C112.7 96.0 114.9 101.4 116.5 106.8 C118.1 112.2 124.6 119.2 123.0 123.0 C121.4 126.8 112.7 128.9 106.8 129.4 C100.9 130.0 92.2 128.9 87.4 126.2 C82.5 123.5 79.3 118.1 77.7 113.3 C76.1 108.4 76.6 102.5 77.7 97.1 C78.7 91.7 84.1 87.4 84.1 80.9 C84.1 74.4 75.5 62.3 77.7 58.3Z" fill="url(#pY)"/>
<path d="M25.9 90.6 C27.5 89.0 41.0 92.8 48.5 93.9 C56.1 94.9 68.5 94.9 71.2 97.1 C73.9 99.2 70.1 105.7 64.7 106.8 C59.3 107.9 45.3 106.3 38.8 103.6 C32.4 100.9 24.3 92.2 25.9 90.6Z" fill="url(#pY)"/>
<path d="M142.4 48.5 C144.6 46.9 153.2 46.9 155.3 48.5 C157.5 50.2 157.5 56.6 155.3 58.3 C153.2 59.9 144.6 59.9 142.4 58.3 C140.2 56.6 140.2 50.2 142.4 48.5Z" fill="url(#pY)"/>
<path d="M25.9 48.5 C28.0 45.8 38.3 44.2 42.1 45.3 C45.8 46.4 48.5 52.3 48.5 55.0 C48.5 57.7 45.3 60.4 42.1 61.5 C38.8 62.6 31.8 63.6 29.1 61.5 C26.4 59.3 23.7 51.2 25.9 48.5Z" fill="url(#pO)"/>
<path d="M74.4 58.3 C77.7 55.6 90.6 55.6 93.9 58.3 C97.1 60.9 97.1 71.7 93.9 74.4 C90.6 77.1 77.7 77.1 74.4 74.4 C71.2 71.7 71.2 60.9 74.4 58.3Z" fill="url(#pO)"/>
<path d="M90.6 61.5 C93.0 59.6 102.5 62.6 106.8 63.1 C111.1 63.6 115.2 61.8 116.5 64.7 C117.9 67.7 116.5 77.1 114.9 80.9 C113.3 84.7 108.1 84.7 106.8 87.4 C105.4 90.1 107.9 93.9 106.8 97.1 C105.7 100.3 103.0 105.7 100.3 106.8 C97.6 107.9 92.8 106.8 90.6 103.6 C88.5 100.3 87.1 92.2 87.4 87.4 C87.6 82.5 91.7 78.7 92.2 74.4 C92.8 70.1 88.2 63.4 90.6 61.5Z" fill="url(#pO)"/>
<path d="M77.7 97.1 C80.6 93.3 90.6 93.3 97.1 93.9 C103.6 94.4 113.3 95.5 116.5 100.3 C119.7 105.2 119.7 118.9 116.5 123.0 C113.3 127.0 103.3 125.7 97.1 124.6 C90.9 123.5 82.5 121.1 79.3 116.5 C76.1 111.9 74.7 100.9 77.7 97.1Z" fill="url(#pO)"/>
<path d="M74.4 55.0 C77.7 52.3 90.9 52.6 97.1 53.4 C103.3 54.2 111.7 57.4 111.7 59.9 C111.7 62.3 102.8 66.3 97.1 68.0 C91.4 69.6 81.4 71.7 77.7 69.6 C73.9 67.4 71.2 57.7 74.4 55.0Z" fill="url(#pO)"/>
<path d="M77.7 56.6 C80.9 51.8 93.9 49.9 97.1 55.0 C100.3 60.1 98.2 78.2 97.1 87.4 C96.0 96.5 93.3 106.8 90.6 110.0 C87.9 113.3 83.1 111.1 80.9 106.8 C78.7 102.5 78.2 92.5 77.7 84.1 C77.1 75.8 74.4 61.5 77.7 56.6Z" fill="url(#pO)"/>
<path d="M93.9 63.1 C96.8 60.5 106.3 61.2 110.0 62.1 C113.8 63.1 115.6 65.2 116.5 68.6 C117.4 72.0 116.6 78.6 115.2 82.5 C113.9 86.5 111.4 90.9 108.4 92.2 C105.4 93.6 99.8 93.0 97.1 90.6 C94.4 88.2 92.8 82.3 92.2 77.7 C91.7 73.1 90.9 65.7 93.9 63.1Z" fill="url(#pR2)"/>
<path d="M105.2 108.4 C107.2 106.4 115.2 106.4 117.2 108.4 C119.1 110.4 119.1 118.4 117.2 120.4 C115.2 122.4 107.2 122.4 105.2 120.4 C103.2 118.4 103.2 110.4 105.2 108.4Z" fill="url(#pR2)"/>
</g></g>
<use href="#sLand" fill="none" stroke="#d4aa52" stroke-width="1.6" stroke-linejoin="round"/>
<path d="M8.2 87.4L11.5 86.5L15.5 87.4M8.2 87.4L7.4 90.6L8.2 93.1" fill="none" stroke="#ea4f9c" stroke-width="0.9"/>
<path d="M142.6 117.5L141.3 125.5L139.6 133L135.5 140" fill="none" stroke="#d4aa52" stroke-width="1.1" stroke-dasharray="2.2 1.6"/>
<ellipse cx="138" cy="142" rx="2.6" ry="2.2" fill="#f4f6fa"/>
<rect x="1" y="138.0" width="82" height="9" fill="#fff"/>
<rect x="1.6" y="135.4" width="18.9" height="2.7" fill="#8c0000"/>
<text x="11.1" y="142.8" font-size="3.5" font-weight="bold" fill="#8b1a1a" text-anchor="middle" font-family="Liberation Sans,Arial,sans-serif">0.35%</text>
<rect x="21.3" y="135.4" width="19.3" height="2.7" fill="#ec0000"/>
<text x="31.0" y="142.8" font-size="3.5" font-weight="bold" fill="#e02020" text-anchor="middle" font-family="Liberation Sans,Arial,sans-serif">0.96%</text>
<rect x="41.7" y="135.4" width="19.2" height="2.7" fill="#ff8c00"/>
<text x="51.3" y="142.8" font-size="3.5" font-weight="bold" fill="#f59a20" text-anchor="middle" font-family="Liberation Sans,Arial,sans-serif">11.2%</text>
<rect x="62.2" y="135.4" width="18.8" height="2.7" fill="#ffe000"/>
<text x="71.6" y="142.8" font-size="3.5" font-weight="bold" fill="#e8d040" text-anchor="middle" font-family="Liberation Sans,Arial,sans-serif">24.31%</text></g>
</svg>
<rect x="365.65" y="184.65" width="176.7" height="144.7" fill="none" stroke="#555" stroke-width="1.3"/>
<rect x="5" y="350" width="178" height="25" fill="#1473c8"/>
<text class="t" transform="translate(94.0,368) scale(0.87,1)" font-size="13.8" text-anchor="middle">July 15, 2022</text>
<svg x="5" y="376" width="178" height="147.8" overflow="hidden"><rect width="178" height="147.8" fill="#fff"/>
<g transform="translate(0,-1)">
<use href="#dCh" fill="#fff"/>
<use href="#dProv" fill="none" stroke="#c4c4c4" stroke-width="0.6"/>
<g clip-path="url(#dClip)">
<path d="M28.4 46.8 C30.7 43.5 35.3 33.7 38.2 30.5 C41.1 27.2 43.6 28.1 45.8 27.2 C48.0 26.3 49.8 23.9 51.3 25.0 C52.7 26.1 53.5 31.0 54.5 33.7 C55.6 36.5 55.6 39.0 57.8 41.4 C60.0 43.7 64.2 46.1 67.6 47.9 C71.1 49.7 75.8 50.5 78.6 52.3 C81.3 54.1 83.6 56.8 84.0 58.8 C84.4 60.8 82.7 63.2 80.7 64.3 C78.7 65.4 74.6 65.4 72.0 65.4 C69.5 65.4 67.3 63.7 65.5 64.3 C63.6 64.8 62.9 68.3 61.1 68.6 C59.3 69.0 56.7 65.7 54.5 66.5 C52.4 67.2 49.8 71.6 48.0 73.0 C46.2 74.5 45.6 75.2 43.6 75.2 C41.6 75.2 38.2 74.5 36.0 73.0 C33.8 71.6 32.9 67.9 30.5 66.5 C28.2 65.0 24.4 65.4 21.8 64.3 C19.3 63.2 16.0 61.7 15.3 59.9 C14.5 58.1 16.0 55.0 17.5 53.4 C18.9 51.7 22.2 51.2 24.0 50.1 C25.8 49.0 26.0 50.1 28.4 46.8Z" fill="#fff46a"/>
<path d="M15.3 73.0 C16.2 71.7 18.9 79.6 21.8 80.6 C24.7 81.7 30.2 80.8 32.7 79.6 C35.3 78.3 35.3 73.6 37.1 73.0 C38.9 72.5 41.5 75.2 43.6 76.3 C45.8 77.4 48.4 77.6 50.2 79.6 C52.0 81.6 52.4 86.1 54.5 88.3 C56.7 90.5 61.5 90.5 63.3 92.6 C65.1 94.8 70.6 99.6 65.5 100.9 C60.4 102.3 40.0 101.6 32.7 100.9 C25.5 100.3 24.5 99.1 21.8 97.0 C19.1 94.9 17.5 92.3 16.4 88.3 C15.3 84.3 14.4 74.3 15.3 73.0Z" fill="#fff46a"/>
<path d="M17.9 63.8 C19.9 61.7 27.7 61.7 30.5 62.5 C33.4 63.3 34.5 65.6 34.9 68.6 C35.3 71.7 34.7 78.4 32.7 80.6 C30.7 82.9 25.3 83.1 22.9 82.2 C20.5 81.3 19.2 78.2 18.3 75.2 C17.5 72.1 15.9 66.0 17.9 63.8Z" fill="#fff"/>
<path d="M49.1 66.0 C50.9 64.4 60.5 64.0 63.3 65.4 C66.0 66.7 67.3 72.5 65.5 74.1 C63.6 75.7 55.1 76.5 52.4 75.2 C49.6 73.8 47.3 67.7 49.1 66.0Z" fill="#fff"/>
<path d="M34.5 37.7 C35.6 35.6 40.3 33.7 41.9 34.8 C43.5 36.0 44.2 42.2 44.1 44.6 C43.9 47.1 42.5 49.0 41.0 49.4 C39.6 49.9 36.4 49.2 35.3 47.3 C34.3 45.3 33.4 39.7 34.5 37.7Z" fill="#fff"/>
<path d="M27.3 54.5 C27.8 52.9 30.9 52.2 32.7 51.6 C34.5 51.0 36.4 50.5 38.2 50.7 C40.0 51.0 42.4 51.8 43.6 53.4 C44.9 54.9 45.6 57.7 45.8 59.9 C46.0 62.1 45.6 65.2 44.7 66.5 C43.8 67.7 42.0 67.9 40.4 67.6 C38.7 67.2 36.7 65.4 34.9 64.3 C33.1 63.2 30.7 62.6 29.5 61.0 C28.2 59.4 26.7 56.0 27.3 54.5Z" fill="#ff9a00"/>
<path d="M44.7 38.1 C45.6 35.7 48.5 33.0 50.2 32.6 C51.8 32.3 53.8 33.9 54.5 35.9 C55.3 37.9 54.1 41.7 54.5 44.6 C55.0 47.5 57.2 50.9 57.2 53.4 C57.2 55.8 55.9 58.3 54.5 59.5 C53.2 60.6 50.6 61.0 49.1 60.3 C47.6 59.7 46.1 57.8 45.4 55.5 C44.7 53.3 44.8 49.7 44.7 46.8 C44.6 43.9 43.8 40.5 44.7 38.1Z" fill="#ff9a00"/>
<path d="M54.5 44.6 C55.6 42.5 58.9 40.6 61.1 40.3 C63.3 39.9 65.6 40.6 67.6 42.5 C69.6 44.3 70.7 49.2 73.1 51.2 C75.5 53.2 80.2 52.9 81.8 54.5 C83.5 56.0 84.0 58.8 82.9 60.3 C81.8 61.9 78.2 63.3 75.3 63.6 C72.4 63.9 68.4 62.8 65.5 62.1 C62.6 61.4 59.6 60.9 57.8 59.5 C56.0 58.0 55.1 55.8 54.5 53.4 C54.0 50.9 53.5 46.8 54.5 44.6Z" fill="#ff9a00"/>
<path d="M28.4 52.3 C29.5 51.4 33.5 51.1 34.9 51.6 C36.3 52.2 37.0 54.5 36.7 55.5 C36.3 56.6 34.1 58.0 32.7 58.2 C31.3 58.3 29.1 57.6 28.4 56.6 C27.6 55.7 27.3 53.1 28.4 52.3Z" fill="#ff1a00"/>
<path d="M46.9 43.5 C47.7 42.5 50.3 40.8 51.3 41.4 C52.3 41.9 53.1 45.4 52.8 46.8 C52.5 48.3 50.8 49.9 49.7 50.1 C48.7 50.3 46.7 49.0 46.3 47.9 C45.8 46.8 46.1 44.6 46.9 43.5Z" fill="#ff1a00"/>
<path d="M46.9 52.3 C47.7 51.3 50.3 50.0 51.3 50.7 C52.3 51.5 53.2 55.2 52.8 56.6 C52.4 58.1 50.2 59.5 49.1 59.5 C48.0 59.5 46.6 57.8 46.3 56.6 C45.9 55.4 46.1 53.3 46.9 52.3Z" fill="#ff1a00"/>
<path d="M55.6 44.6 C56.5 43.0 59.5 41.7 61.1 41.4 C62.7 41.0 64.2 41.4 65.5 42.5 C66.7 43.5 67.6 46.3 68.7 47.9 C69.8 49.5 71.8 50.8 72.0 52.3 C72.2 53.7 71.1 55.7 69.8 56.6 C68.6 57.5 66.2 57.9 64.4 57.7 C62.6 57.5 60.4 56.6 58.9 55.5 C57.5 54.5 56.2 53.0 55.6 51.2 C55.1 49.4 54.7 46.3 55.6 44.6Z" fill="#ff1a00"/>
<path d="M57.8 45.7 C58.4 44.1 61.8 43.2 63.3 43.5 C64.7 43.9 66.2 46.3 66.6 47.9 C66.9 49.5 66.6 52.5 65.5 53.4 C64.4 54.3 61.3 54.6 60.0 53.4 C58.7 52.1 57.3 47.4 57.8 45.7Z" fill="#b0000a"/>
<path d="M32.7 92.6 C33.8 90.5 37.1 89.2 39.3 88.3 C41.5 87.4 44.0 86.8 45.8 87.2 C47.6 87.6 48.4 89.6 50.2 90.5 C52.0 91.4 54.5 92.3 56.7 92.6 C58.9 93.0 61.8 91.3 63.3 92.6 C64.7 94.0 70.6 99.6 65.5 100.9 C60.4 102.3 38.2 102.3 32.7 100.9 C27.3 99.6 31.6 94.8 32.7 92.6Z" fill="#ff9a00"/>
<path d="M37.1 94.8 C38.5 93.7 42.2 93.0 43.6 93.7 C45.1 94.5 46.5 98.0 45.8 99.2 C45.1 100.4 41.1 100.8 39.3 100.9 C37.5 101.1 35.3 101.3 34.9 100.3 C34.5 99.3 35.6 95.9 37.1 94.8Z" fill="#ff1a00"/>
<path d="M54.5 93.7 C56.0 92.8 60.5 91.9 62.2 92.6 C63.8 93.4 64.9 96.8 64.4 98.1 C63.8 99.4 60.7 100.3 58.9 100.3 C57.1 100.3 54.2 99.2 53.5 98.1 C52.7 97.0 53.1 94.6 54.5 93.7Z" fill="#ff1a00"/>
<path d="M113.5 38.1 C114.5 35.7 118.9 34.6 120.0 37.0 C121.1 39.4 121.0 49.9 120.0 52.3 C119.0 54.6 115.0 53.5 113.9 51.2 C112.8 48.8 112.4 40.5 113.5 38.1Z" fill="#ff9a00"/>
<path d="M99.5 57.7 C100.7 55.7 105.8 51.9 108.2 49.0 C110.5 46.1 111.6 42.1 113.6 40.3 C115.6 38.5 118.5 37.4 120.2 38.1 C121.8 38.8 122.9 42.1 123.5 44.6 C124.0 47.2 124.2 50.8 123.5 53.4 C122.7 55.9 120.9 59.2 119.1 59.9 C117.3 60.6 114.7 57.5 112.5 57.7 C110.4 57.9 108.0 60.5 106.0 61.0 C104.0 61.5 101.6 61.5 100.5 61.0 C99.5 60.5 98.2 59.7 99.5 57.7Z" fill="#fff46a"/>
<path d="M101.6 57.7 C102.4 56.5 107.3 54.8 109.3 52.3 C111.3 49.7 112.0 44.3 113.6 42.5 C115.3 40.6 117.6 40.6 119.1 41.4 C120.6 42.1 122.0 44.3 122.4 46.8 C122.7 49.4 122.2 54.8 121.3 56.6 C120.4 58.5 118.7 57.7 116.9 57.7 C115.1 57.7 112.4 56.3 110.4 56.6 C108.4 57.0 106.4 59.7 104.9 59.9 C103.5 60.1 100.9 59.0 101.6 57.7Z" fill="#ff9a00"/>
<path d="M115.2 43.5 C116.0 42.6 119.0 43.5 120.2 44.6 C121.4 45.7 122.6 48.8 122.4 50.1 C122.2 51.4 120.3 52.3 119.1 52.3 C117.9 52.3 115.8 51.5 115.2 50.1 C114.5 48.6 114.3 44.5 115.2 43.5Z" fill="#ff1a00"/>
<path d="M73.3 73.0 C74.4 71.0 79.3 70.1 82.0 70.4 C84.7 70.7 87.8 72.7 89.6 74.7 C91.5 76.8 92.9 80.7 92.9 82.8 C92.9 84.9 91.6 86.6 89.6 87.2 C87.6 87.8 83.3 87.4 80.9 86.5 C78.5 85.7 76.3 84.4 75.0 82.2 C73.7 79.9 72.1 75.0 73.3 73.0Z" fill="#fff46a"/>
<path d="M74.4 74.1 C75.3 72.5 79.6 71.5 82.0 71.9 C84.4 72.3 86.9 74.5 88.5 76.3 C90.2 78.1 91.8 81.2 91.8 82.8 C91.8 84.5 90.2 85.7 88.5 86.1 C86.9 86.5 84.0 85.7 82.0 85.0 C80.0 84.3 77.8 83.5 76.5 81.7 C75.3 79.9 73.5 75.7 74.4 74.1Z" fill="#ff9a00"/>
<path d="M80.9 75.2 C81.5 74.1 85.3 75.2 86.4 76.3 C87.5 77.4 88.0 80.6 87.5 81.7 C86.9 82.8 84.2 83.9 83.1 82.8 C82.0 81.7 80.4 76.3 80.9 75.2Z" fill="#ff1a00"/>
<path d="M76.5 88.3 C77.3 86.6 80.2 86.8 82.0 87.2 C83.8 87.6 86.5 88.8 87.5 90.5 C88.4 92.1 88.4 95.4 87.5 97.0 C86.5 98.6 83.6 100.3 82.0 100.3 C80.4 100.3 78.5 99.0 77.6 97.0 C76.7 95.0 75.8 89.9 76.5 88.3Z" fill="#ff9a00"/>
<path d="M77.6 89.4 C78.0 88.4 80.8 87.7 81.6 88.3 C82.4 88.8 82.8 91.6 82.4 92.6 C82.1 93.7 80.2 94.9 79.4 94.4 C78.6 93.8 77.3 90.4 77.6 89.4Z" fill="#ff1a00"/>
<path d="M82.0 92.6 C82.5 91.6 85.5 91.0 86.4 91.6 C87.3 92.1 88.0 94.8 87.5 95.9 C86.9 97.0 84.0 98.6 83.1 98.1 C82.2 97.6 81.5 93.7 82.0 92.6Z" fill="#ff1a00"/>
<path d="M90.7 86.1 C92.9 83.5 98.0 82.6 101.6 81.7 C105.3 80.8 110.0 79.9 112.5 80.6 C115.1 81.4 116.5 83.7 116.9 86.1 C117.3 88.5 116.2 92.3 114.7 94.8 C113.3 97.4 109.8 98.8 108.2 101.4 C106.5 103.9 106.7 108.3 104.9 110.1 C103.1 111.9 99.6 112.6 97.3 112.3 C94.9 111.9 92.2 110.5 90.7 107.9 C89.3 105.4 88.5 100.6 88.5 97.0 C88.5 93.4 88.5 88.6 90.7 86.1Z" fill="#fff46a"/>
<path d="M92.9 90.5 C94.4 88.3 97.3 87.4 99.5 86.1 C101.6 84.8 103.8 83.4 106.0 82.8 C108.2 82.3 111.1 81.9 112.5 82.8 C114.0 83.7 115.1 86.3 114.7 88.3 C114.4 90.3 111.8 92.3 110.4 94.8 C108.9 97.4 107.5 101.2 106.0 103.6 C104.5 105.9 103.5 108.3 101.6 109.0 C99.8 109.7 96.9 109.6 95.1 107.9 C93.3 106.3 91.1 102.1 90.7 99.2 C90.4 96.3 91.5 92.6 92.9 90.5Z" fill="#ff9a00"/>
<path d="M97.3 90.5 C98.0 88.6 101.5 86.1 102.7 86.1 C104.0 86.1 104.9 88.3 104.9 90.5 C104.9 92.6 103.8 98.1 102.7 99.2 C101.6 100.3 99.3 98.5 98.4 97.0 C97.5 95.6 96.5 92.3 97.3 90.5Z" fill="#ff1a00"/>
<path d="M106.0 83.9 C106.5 82.7 111.3 82.7 112.5 83.5 C113.8 84.2 114.2 87.1 113.6 88.3 C113.1 89.4 110.5 91.2 109.3 90.5 C108.0 89.7 105.5 85.1 106.0 83.9Z" fill="#ff1a00"/>
<path d="M101.6 97.0 C102.1 95.7 105.1 95.2 106.0 95.9 C106.9 96.6 107.5 100.1 107.1 101.4 C106.7 102.6 104.3 104.3 103.4 103.6 C102.5 102.8 101.2 98.3 101.6 97.0Z" fill="#ff1a00"/>
<path d="M122.4 90.5 C123.1 87.2 128.0 82.7 130.0 81.3 C132.0 79.9 132.8 80.6 134.4 82.2 C135.9 83.7 138.4 87.2 139.2 90.5 C140.0 93.7 140.2 99.6 139.2 101.8 C138.2 104.1 135.5 104.1 133.3 104.0 C131.0 103.8 127.5 103.2 125.6 100.9 C123.8 98.7 121.6 93.7 122.4 90.5Z" fill="#fff46a"/>
<path d="M123.5 91.6 C124.2 89.6 128.2 85.7 130.0 85.0 C131.8 84.3 133.1 85.5 134.4 87.2 C135.6 88.8 137.5 92.6 137.6 94.8 C137.8 97.0 136.7 99.6 135.5 100.3 C134.2 101.0 131.6 99.7 130.0 99.2 C128.4 98.6 126.7 98.3 125.6 97.0 C124.6 95.7 122.7 93.6 123.5 91.6Z" fill="#ff9a00"/>
<path d="M130.0 82.8 C130.4 81.0 132.4 81.9 133.3 83.9 C134.2 85.9 135.5 92.1 135.5 94.8 C135.5 97.6 134.0 100.3 133.3 100.3 C132.6 100.3 131.6 97.7 131.1 94.8 C130.6 91.9 129.6 84.6 130.0 82.8Z" fill="#ff1a00"/>
<path d="M83.1 104.6 C84.6 102.7 91.1 102.3 92.9 104.0 C94.7 105.7 95.5 113.0 94.0 114.9 C92.5 116.8 85.6 117.3 83.7 115.6 C81.9 113.8 81.6 106.6 83.1 104.6Z" fill="#fff46a"/>
<path d="M84.2 105.7 C85.3 104.2 90.4 104.0 91.8 105.3 C93.3 106.6 94.0 111.8 92.9 113.4 C91.8 114.9 86.7 115.7 85.3 114.5 C83.8 113.2 83.1 107.3 84.2 105.7Z" fill="#ff9a00"/>
<path d="M85.3 106.8 C85.8 106.1 88.4 106.1 89.0 106.8 C89.5 107.6 89.1 110.5 88.5 111.2 C88.0 111.9 86.3 111.9 85.7 111.2 C85.2 110.5 84.7 107.6 85.3 106.8Z" fill="#ff1a00"/>
<path d="M125.2 109.0 C125.2 109.6 125.1 110.3 124.9 110.8 C124.7 111.3 124.3 111.7 124.0 111.9 C123.7 112.1 123.2 112.1 122.9 111.9 C122.6 111.7 122.2 111.3 122.0 110.8 C121.8 110.3 121.7 109.6 121.7 109.0 C121.7 108.4 121.8 107.7 122.0 107.2 C122.2 106.7 122.6 106.3 122.9 106.1 C123.2 105.9 123.7 105.9 124.0 106.1 C124.3 106.3 124.7 106.7 124.9 107.2 C125.1 107.7 125.2 108.4 125.2 109.0Z" fill="#fff46a"/>
<path d="M143.1 31.5 C143.1 31.9 143.0 32.3 142.9 32.6 C142.8 32.8 142.5 33.1 142.3 33.2 C142.1 33.3 141.9 33.3 141.7 33.2 C141.5 33.1 141.2 32.8 141.1 32.6 C141.0 32.3 140.9 31.9 140.9 31.5 C140.9 31.2 141.0 30.8 141.1 30.5 C141.2 30.2 141.5 30.0 141.7 29.9 C141.9 29.8 142.1 29.8 142.3 29.9 C142.5 30.0 142.8 30.2 142.9 30.5 C143.0 30.8 143.1 31.2 143.1 31.5Z" fill="#fff46a"/>
</g>
<use href="#dRiv" fill="none" stroke="#40d0f0" stroke-width="1"/>
<use href="#dCh" fill="none" stroke="#5e5e5e" stroke-width="0.8"/>
<use href="#dCoast" fill="none" stroke="#40d0f0" stroke-width="0.9"/>
<use href="#dIs" fill="none" stroke="#40d0f0" stroke-width="0.7"/>
</g>
<g transform="translate(0,114.2)">
<rect x="2" y="0" width="37.3" height="40" fill="#fff" stroke="#999" stroke-width="0.8"/>
<text x="4.9" y="4.6" font-size="2.7" fill="#333" font-family="Liberation Sans,Arial,sans-serif">Intensity</text>
<rect x="2.9" y="6.50" width="9.8" height="3" fill="#fff" stroke="#bbb" stroke-width="0.4"/>
<text x="13.9" y="9.10" font-size="2.95" fill="#1a1a3a" stroke="#1a1a3a" stroke-width="0.08" font-family="Liberation Sans,Arial,sans-serif">No Drought</text>
<rect x="2.9" y="12.05" width="9.8" height="3" fill="#ffff66" stroke="#bbb" stroke-width="0.4"/>
<text x="13.9" y="14.65" font-size="2.95" fill="#1a1a3a" stroke="#1a1a3a" stroke-width="0.08" font-family="Liberation Sans,Arial,sans-serif">Mild Drought</text>
<rect x="2.9" y="17.60" width="9.8" height="3" fill="#ff9900" stroke="#bbb" stroke-width="0.4"/>
<text x="13.9" y="20.20" font-size="2.95" fill="#1a1a3a" stroke="#1a1a3a" stroke-width="0.08" font-family="Liberation Sans,Arial,sans-serif">Moderate Drought</text>
<rect x="2.9" y="23.15" width="9.8" height="3" fill="#ff0000" stroke="#bbb" stroke-width="0.4"/>
<text x="13.9" y="25.75" font-size="2.95" fill="#1a1a3a" stroke="#1a1a3a" stroke-width="0.08" font-family="Liberation Sans,Arial,sans-serif">Severe Drought</text>
<rect x="2.9" y="28.70" width="9.8" height="3" fill="#b00010" stroke="#bbb" stroke-width="0.4"/>
<text x="13.9" y="31.30" font-size="2.95" fill="#1a1a3a" stroke="#1a1a3a" stroke-width="0.08" font-family="Liberation Sans,Arial,sans-serif">Extreme Drought</text>
</g>
<use href="#dIns" y="111.8"/>
</svg>
<rect x="5.65" y="376.65" width="176.7" height="146.5" fill="none" stroke="#555" stroke-width="1.3"/>
<svg x="5" y="526" width="178" height="145" overflow="hidden"><rect width="178" height="145" fill="#eef2fb"/>
<g transform="translate(0,0)"><use href="#sSea" fill="#62cffc"/>
<use href="#sJp" fill="#eef2fb" stroke="#fff" stroke-width="0.6"/>
<use href="#sBord" fill="none" stroke="#d3c9bb" stroke-width="1.2"/>
<use href="#sDmz" fill="none" stroke="#f06a9a" stroke-width="1"/>
<use href="#sCh" fill="#f6f7fb"/>
<use href="#sIs" fill="#f6f7fb"/>
<g clip-path="url(#sClip)"><use href="#sCh" fill="url(#pG)"/></g>
<use href="#sRiv" fill="none" stroke="#55bdf2" stroke-width="1.5"/>
<use href="#sLake" fill="none" stroke="#52c0f2" stroke-width="1.8"/>
<g clip-path="url(#sClip)"><g filter="url(#fb)">
<path d="M42.1 29.1 C46.4 23.2 63.6 23.2 68.0 29.1 C72.3 35.1 72.3 58.8 68.0 64.7 C63.6 70.7 46.4 70.7 42.1 64.7 C37.8 58.8 37.8 35.1 42.1 29.1Z" fill="url(#pY)"/>
<path d="M90.6 48.5 C97.1 44.2 123.0 44.2 129.4 48.5 C135.9 52.9 135.9 70.1 129.4 74.4 C123.0 78.7 97.1 78.7 90.6 74.4 C84.1 70.1 84.1 52.9 90.6 48.5Z" fill="url(#pY)"/>
<path d="M64.7 80.9 C68.0 76.1 77.1 75.0 84.1 74.4 C91.2 73.9 99.2 76.6 106.8 77.7 C114.3 78.7 124.6 77.7 129.4 80.9 C134.3 84.1 135.9 91.7 135.9 97.1 C135.9 102.5 134.3 109.5 129.4 113.3 C124.6 117.0 114.9 119.2 106.8 119.7 C98.7 120.3 87.9 119.2 80.9 116.5 C73.9 113.8 67.4 109.5 64.7 103.6 C62.0 97.6 61.5 85.8 64.7 80.9Z" fill="url(#pY)"/>
<path d="M139.2 25.9 C144.0 20.5 163.4 20.5 168.3 25.9 C173.1 31.3 173.1 52.9 168.3 58.3 C163.4 63.6 144.0 63.6 139.2 58.3 C134.3 52.9 134.3 31.3 139.2 25.9Z" fill="url(#pY)"/>
<path d="M16.2 61.5 C24.3 57.7 56.6 57.7 64.7 61.5 C72.8 65.3 72.8 80.4 64.7 84.1 C56.6 87.9 24.3 87.9 16.2 84.1 C8.1 80.4 8.1 65.3 16.2 61.5Z" fill="url(#pY)"/>
<path d="M42.1 32.4 C45.8 28.6 60.9 28.6 64.7 32.4 C68.5 36.1 68.5 51.2 64.7 55.0 C60.9 58.8 45.8 58.8 42.1 55.0 C38.3 51.2 38.3 36.1 42.1 32.4Z" fill="url(#pO)"/>
<path d="M92.0 58.5 C93.7 56.6 99.3 57.2 103.6 57.1 C108.0 57.0 114.3 57.3 118.2 57.8 C122.1 58.3 125.2 58.7 126.9 60.0 C128.6 61.3 129.8 64.4 128.4 65.8 C126.9 67.3 121.6 68.0 118.2 68.7 C114.8 69.5 110.9 69.5 108.0 70.2 C105.1 70.9 103.2 73.3 100.7 73.1 C98.3 72.8 94.9 71.2 93.5 68.7 C92.0 66.3 90.3 60.5 92.0 58.5Z" fill="url(#pO)"/>
<path d="M78.9 76.0 C81.6 74.1 93.2 74.1 96.4 76.0 C99.5 77.9 100.5 85.7 97.8 87.6 C95.2 89.6 83.5 89.6 80.4 87.6 C77.2 85.7 76.2 77.9 78.9 76.0Z" fill="url(#pO)"/>
<path d="M97.8 84.7 C99.5 82.9 108.5 81.8 110.9 83.3 C113.3 84.7 114.1 91.6 112.4 93.5 C110.7 95.3 103.2 95.6 100.7 94.2 C98.3 92.7 96.1 86.5 97.8 84.7Z" fill="url(#pO)"/>
<path d="M115.3 87.6 C117.5 85.6 127.2 85.7 129.8 87.6 C132.5 89.6 133.5 97.2 131.3 99.3 C129.1 101.3 119.4 101.9 116.7 100.0 C114.1 98.1 113.1 89.7 115.3 87.6Z" fill="url(#pO)"/>
<path d="M60.0 87.6 C62.4 82.5 69.7 85.5 74.5 86.2 C79.4 86.9 84.2 90.5 89.1 92.0 C93.9 93.5 98.8 93.7 103.6 94.9 C108.5 96.1 113.3 98.1 118.2 99.3 C123.0 100.5 130.3 99.3 132.7 102.2 C135.2 105.1 144.8 114.3 132.7 116.7 C120.6 119.2 72.1 121.6 60.0 116.7 C47.9 111.9 57.6 92.7 60.0 87.6Z" fill="url(#pY)"/>
<path d="M60.0 90.5 C62.2 87.2 69.5 87.6 73.1 89.1 C76.7 90.5 77.9 96.6 81.8 99.3 C85.7 101.9 95.2 102.7 96.4 105.1 C97.6 107.5 93.2 112.4 89.1 113.8 C85.0 115.3 76.5 114.5 71.6 113.8 C66.8 113.1 61.9 113.3 60.0 109.5 C58.1 105.6 57.8 93.9 60.0 90.5Z" fill="url(#pO)"/>
<path d="M48.5 93.9 C52.3 92.2 67.4 92.2 71.2 93.9 C75.0 95.5 75.0 101.9 71.2 103.6 C67.4 105.2 52.3 105.2 48.5 103.6 C44.8 101.9 44.8 95.5 48.5 93.9Z" fill="url(#pO)"/>
<path d="M83.3 78.9 C84.6 77.8 90.4 77.9 92.0 78.9 C93.6 79.9 94.1 83.6 92.7 84.7 C91.4 85.8 85.6 86.4 84.0 85.5 C82.4 84.5 81.9 80.0 83.3 78.9Z" fill="url(#pR)"/>
<path d="M100.7 87.6 C101.7 86.9 105.6 86.9 106.5 87.6 C107.5 88.4 107.5 91.3 106.5 92.0 C105.6 92.7 101.7 92.7 100.7 92.0 C99.8 91.3 99.8 88.4 100.7 87.6Z" fill="url(#pR)"/>
<path d="M119.6 92.0 C120.8 91.2 125.7 91.2 126.9 92.0 C128.1 92.8 128.1 96.2 126.9 97.1 C125.7 97.9 120.8 97.9 119.6 97.1 C118.4 96.2 118.4 92.8 119.6 92.0Z" fill="url(#pR)"/>
</g></g>
<use href="#sLand" fill="none" stroke="#d4aa52" stroke-width="1.6" stroke-linejoin="round"/>
<path d="M8.2 87.4L11.5 86.5L15.5 87.4M8.2 87.4L7.4 90.6L8.2 93.1" fill="none" stroke="#ea4f9c" stroke-width="0.9"/>
<path d="M142.6 117.5L141.3 125.5L139.6 133L135.5 140" fill="none" stroke="#d4aa52" stroke-width="1.1" stroke-dasharray="2.2 1.6"/>
<ellipse cx="138" cy="142" rx="2.6" ry="2.2" fill="#f4f6fa"/>
<rect x="1" y="137.0" width="82" height="9" fill="#fff"/>
<rect x="1.6" y="134.4" width="18.9" height="2.7" fill="#8c0000"/>
<text x="11.1" y="141.8" font-size="3.5" font-weight="bold" fill="#8b1a1a" text-anchor="middle" font-family="Liberation Sans,Arial,sans-serif">0.7%</text>
<rect x="21.3" y="134.4" width="19.3" height="2.7" fill="#ec0000"/>
<text x="31.0" y="141.8" font-size="3.5" font-weight="bold" fill="#e02020" text-anchor="middle" font-family="Liberation Sans,Arial,sans-serif">2.6%</text>
<rect x="41.7" y="134.4" width="19.2" height="2.7" fill="#ff8c00"/>
<text x="51.3" y="141.8" font-size="3.5" font-weight="bold" fill="#f59a20" text-anchor="middle" font-family="Liberation Sans,Arial,sans-serif">10.8%</text>
<rect x="62.2" y="134.4" width="18.8" height="2.7" fill="#ffe000"/>
<text x="71.6" y="141.8" font-size="3.5" font-weight="bold" fill="#e8d040" text-anchor="middle" font-family="Liberation Sans,Arial,sans-serif">21.5%</text></g>
</svg>
<rect x="5.65" y="526.65" width="176.7" height="143.7" fill="none" stroke="#555" stroke-width="1.3"/>
<rect x="184" y="350" width="179" height="25" fill="#1473c8"/>
<text class="t" transform="translate(273.5,368) scale(0.87,1)" font-size="13.8" text-anchor="middle">Aug. 15, 2022</text>
<svg x="185" y="376" width="178" height="147.8" overflow="hidden"><rect width="178" height="147.8" fill="#fff"/>
<g transform="translate(0,-1)">
<use href="#dCh" fill="#fff"/>
<use href="#dProv" fill="none" stroke="#c4c4c4" stroke-width="0.6"/>
<g clip-path="url(#dClip)">
<path d="M30.5 35.9 C32.0 33.0 35.6 31.2 38.2 29.4 C40.7 27.5 43.8 25.9 45.8 25.0 C47.8 24.1 48.7 22.8 50.2 23.9 C51.6 25.0 53.3 28.8 54.5 31.5 C55.8 34.3 56.0 38.1 57.8 40.3 C59.6 42.5 63.5 42.5 65.5 44.6 C67.5 46.8 69.3 50.8 69.8 53.4 C70.4 55.9 69.5 57.7 68.7 59.9 C68.0 62.1 66.4 64.3 65.5 66.5 C64.6 68.6 64.0 73.0 63.3 73.0 C62.6 73.0 62.2 68.3 61.1 66.5 C60.0 64.6 58.5 62.5 56.7 62.1 C54.9 61.7 51.8 62.5 50.2 64.3 C48.5 66.1 48.4 71.4 46.9 73.0 C45.5 74.6 43.5 74.1 41.5 74.1 C39.5 74.1 36.5 74.3 34.9 73.0 C33.3 71.7 32.0 69.4 31.6 66.5 C31.3 63.6 33.1 58.8 32.7 55.5 C32.4 52.3 29.8 50.1 29.5 46.8 C29.1 43.5 29.1 38.8 30.5 35.9Z" fill="#fff46a"/>
<path d="M31.6 53.4 C33.3 50.6 40.4 52.3 42.5 54.5 C44.7 56.6 44.5 63.0 44.7 66.5 C44.9 69.9 44.7 73.6 43.6 75.2 C42.5 76.8 40.0 77.0 38.2 76.3 C36.4 75.6 33.8 74.6 32.7 70.8 C31.6 67.0 30.0 56.1 31.6 53.4Z" fill="#fff46a"/>
<path d="M36.7 31.5 C37.4 30.5 40.9 29.7 41.9 30.5 C42.9 31.2 43.5 34.8 42.8 35.9 C42.0 37.0 38.5 37.7 37.5 37.0 C36.5 36.3 35.9 32.6 36.7 31.5Z" fill="#ff9a00"/>
<path d="M46.9 33.7 C48.2 31.5 51.2 30.8 52.4 31.5 C53.6 32.3 54.3 35.7 54.1 38.1 C53.9 40.5 52.1 43.4 51.3 45.7 C50.4 48.1 50.2 51.4 49.1 52.3 C48.0 53.2 45.5 52.5 44.7 51.2 C44.0 49.9 44.4 47.5 44.7 44.6 C45.1 41.7 45.6 35.9 46.9 33.7Z" fill="#ff9a00"/>
<path d="M53.5 43.5 C54.4 41.5 57.1 40.3 58.9 40.3 C60.7 40.3 63.1 41.9 64.4 43.5 C65.6 45.2 66.6 48.1 66.6 50.1 C66.6 52.1 65.8 54.5 64.4 55.5 C62.9 56.6 59.6 57.2 57.8 56.6 C56.0 56.1 54.2 54.5 53.5 52.3 C52.7 50.1 52.5 45.5 53.5 43.5Z" fill="#ff9a00"/>
<path d="M57.8 44.6 C58.5 43.9 61.2 44.6 62.2 45.7 C63.2 46.8 64.1 49.9 63.7 51.2 C63.4 52.5 61.0 53.5 60.0 53.4 C59.0 53.2 58.2 51.5 57.8 50.1 C57.5 48.6 57.1 45.4 57.8 44.6Z" fill="#ff1a00"/>
<path d="M33.8 52.3 C34.3 50.9 36.5 51.0 37.1 52.3 C37.6 53.5 37.6 58.6 37.1 59.9 C36.6 61.3 34.8 61.6 34.3 60.3 C33.7 59.1 33.3 53.6 33.8 52.3Z" fill="#ff9a00"/>
<path d="M74.2 53.4 C75.6 52.3 81.5 52.3 82.9 53.4 C84.4 54.5 84.4 58.8 82.9 59.9 C81.5 61.0 75.6 61.0 74.2 59.9 C72.7 58.8 72.7 54.5 74.2 53.4Z" fill="#fff46a"/>
<path d="M102.6 52.9 C105.5 51.3 117.1 50.7 120.0 52.3 C122.9 53.9 122.9 60.9 120.0 62.5 C117.1 64.2 105.5 63.7 102.6 62.1 C99.6 60.5 99.6 54.6 102.6 52.9Z" fill="#fff46a"/>
<path d="M103.0 54.5 C104.7 53.7 111.7 53.7 113.5 54.5 C115.2 55.2 115.2 58.1 113.5 58.8 C111.7 59.5 104.7 59.5 103.0 58.8 C101.2 58.1 101.2 55.2 103.0 54.5Z" fill="#ff9a00"/>
<path d="M113.5 22.8 C114.6 21.5 118.9 21.5 120.0 22.8 C121.1 24.1 121.1 29.2 120.0 30.5 C118.9 31.7 114.6 31.7 113.5 30.5 C112.4 29.2 112.4 24.1 113.5 22.8Z" fill="#fff46a"/>
<path d="M30.5 75.2 C32.7 70.9 40.7 74.1 43.6 75.2 C46.5 76.3 45.5 80.1 48.0 81.7 C50.5 83.4 55.3 84.6 58.9 85.0 C62.6 85.4 66.6 84.5 69.8 83.9 C73.1 83.4 74.9 82.5 78.6 81.7 C82.2 81.0 87.3 79.6 91.6 79.6 C96.0 79.6 100.0 81.7 104.7 81.7 C109.5 81.7 117.5 76.4 120.0 79.6 C122.6 82.8 134.9 97.4 120.0 100.9 C105.1 104.5 45.5 105.2 30.5 100.9 C15.6 96.6 28.4 79.5 30.5 75.2Z" fill="#fff46a"/>
<path d="M32.7 83.9 C34.2 80.4 38.9 79.6 41.5 79.6 C44.0 79.6 45.8 82.5 48.0 83.9 C50.2 85.4 51.6 87.6 54.5 88.3 C57.5 89.0 62.2 88.6 65.5 88.3 C68.7 87.9 71.3 87.0 74.2 86.1 C77.1 85.2 80.0 83.6 82.9 82.8 C85.8 82.1 88.4 81.4 91.6 81.7 C94.9 82.1 98.9 84.6 102.6 85.0 C106.2 85.4 110.6 84.3 113.5 83.9 C116.4 83.6 118.9 80.0 120.0 82.8 C121.1 85.7 134.6 97.9 120.0 100.9 C105.5 104.0 47.3 103.8 32.7 100.9 C18.2 98.1 31.3 87.5 32.7 83.9Z" fill="#ff9a00"/>
<path d="M36.0 88.3 C37.3 86.6 40.7 85.0 42.5 85.0 C44.4 85.0 46.0 86.3 46.9 88.3 C47.8 90.3 48.5 94.9 48.0 97.0 C47.5 99.1 45.5 100.3 43.6 100.9 C41.8 101.6 38.5 102.0 37.1 100.9 C35.6 99.9 35.1 96.9 34.9 94.8 C34.7 92.7 34.7 89.9 36.0 88.3Z" fill="#ff1a00"/>
<path d="M39.3 90.5 C39.8 89.2 42.7 88.6 43.6 89.4 C44.5 90.1 45.3 93.6 44.7 94.8 C44.2 96.1 41.3 97.7 40.4 97.0 C39.5 96.3 38.7 91.7 39.3 90.5Z" fill="#b0000a"/>
<path d="M52.4 94.8 C53.3 93.4 57.3 92.3 58.9 92.6 C60.5 93.0 62.0 95.6 62.2 97.0 C62.4 98.4 61.5 100.3 60.0 100.9 C58.5 101.6 54.7 102.0 53.5 100.9 C52.2 99.9 51.5 96.2 52.4 94.8Z" fill="#ff1a00"/>
<path d="M72.0 90.5 C73.5 89.0 78.2 89.4 80.7 88.3 C83.3 87.2 85.5 84.3 87.3 83.9 C89.1 83.6 91.3 84.6 91.6 86.1 C92.0 87.6 90.9 90.8 89.5 92.6 C88.0 94.5 85.1 95.9 82.9 97.0 C80.7 98.1 78.2 99.2 76.4 99.2 C74.6 99.2 72.7 98.5 72.0 97.0 C71.3 95.6 70.6 91.9 72.0 90.5Z" fill="#ff1a00"/>
<path d="M96.0 90.5 C97.5 88.8 101.8 87.9 104.7 87.2 C107.6 86.5 111.6 85.2 113.5 86.1 C115.3 87.0 116.4 90.8 115.6 92.6 C114.9 94.5 111.6 95.9 109.1 97.0 C106.6 98.1 102.6 99.2 100.4 99.2 C98.2 99.2 96.7 98.5 96.0 97.0 C95.3 95.6 94.6 92.1 96.0 90.5Z" fill="#ff1a00"/>
<path d="M58.0 81.7 C60.2 78.1 66.7 79.5 71.1 79.5 C75.5 79.5 80.5 81.7 84.2 81.7 C87.8 81.7 90.0 79.0 92.9 79.5 C95.8 80.1 98.0 84.3 101.6 85.0 C105.3 85.7 110.7 84.5 114.7 83.9 C118.7 83.4 122.4 81.7 125.6 81.7 C128.9 81.7 132.2 82.1 134.4 83.9 C136.6 85.7 138.2 89.4 138.7 92.6 C139.3 95.9 138.7 100.3 137.6 103.5 C136.6 106.8 134.6 109.7 132.2 112.3 C129.8 114.8 126.7 117.4 123.5 118.8 C120.2 120.3 116.2 121.0 112.5 121.0 C108.9 121.0 105.3 119.6 101.6 118.8 C98.0 118.1 94.4 117.4 90.7 116.6 C87.1 115.9 83.1 115.6 79.8 114.5 C76.5 113.4 73.6 111.9 71.1 110.1 C68.5 108.3 66.7 105.0 64.5 103.5 C62.4 102.1 59.1 105.0 58.0 101.4 C56.9 97.7 55.8 85.4 58.0 81.7Z" fill="#fff46a"/>
<path d="M58.0 88.3 C59.8 86.1 65.3 86.5 68.9 86.1 C72.5 85.7 76.5 86.8 79.8 86.1 C83.1 85.4 86.0 82.1 88.5 81.7 C91.1 81.4 92.9 83.0 95.1 83.9 C97.3 84.8 99.1 86.8 101.6 87.2 C104.2 87.5 107.5 86.1 110.4 86.1 C113.3 86.1 116.2 87.4 119.1 87.2 C122.0 87.0 125.3 85.0 127.8 85.0 C130.4 85.0 132.7 85.5 134.4 87.2 C136.0 88.8 137.5 91.7 137.6 94.8 C137.8 97.9 136.7 102.8 135.5 105.7 C134.2 108.6 132.4 110.6 130.0 112.3 C127.6 113.9 124.6 114.8 121.3 115.6 C118.0 116.3 113.6 116.8 110.4 116.6 C107.1 116.5 104.5 115.2 101.6 114.5 C98.7 113.7 95.8 113.0 92.9 112.3 C90.0 111.6 86.7 111.0 84.2 110.1 C81.6 109.2 80.2 108.3 77.6 106.8 C75.1 105.4 72.2 102.6 68.9 101.4 C65.6 100.1 59.8 101.4 58.0 99.2 C56.2 97.0 56.2 90.5 58.0 88.3Z" fill="#ff9a00"/>
<path d="M71.1 92.6 C72.0 91.2 75.1 90.3 77.6 89.4 C80.2 88.5 84.0 88.5 86.4 87.2 C88.7 85.9 90.5 81.7 91.8 81.7 C93.1 81.7 94.2 85.2 94.0 87.2 C93.8 89.2 91.6 91.4 90.7 93.7 C89.8 96.1 90.0 99.4 88.5 101.4 C87.1 103.4 84.0 105.7 82.0 105.7 C80.0 105.7 78.2 102.6 76.5 101.4 C74.9 100.1 73.1 99.5 72.2 98.1 C71.3 96.6 70.2 94.1 71.1 92.6Z" fill="#ff1a00"/>
<path d="M99.5 90.5 C100.5 88.6 103.8 87.5 106.0 87.2 C108.2 86.8 111.3 87.2 112.5 88.3 C113.8 89.4 114.4 92.1 113.6 93.7 C112.9 95.4 109.8 96.8 108.2 98.1 C106.5 99.4 105.3 101.4 103.8 101.4 C102.4 101.4 100.2 99.9 99.5 98.1 C98.7 96.3 98.4 92.3 99.5 90.5Z" fill="#ff1a00"/>
<path d="M112.5 99.2 C113.1 97.9 116.9 97.5 119.1 97.0 C121.3 96.5 124.2 97.2 125.6 95.9 C127.1 94.6 126.7 90.6 127.8 89.4 C128.9 88.1 131.1 87.7 132.2 88.3 C133.3 88.8 134.2 90.5 134.4 92.6 C134.6 94.8 134.2 98.8 133.3 101.4 C132.4 103.9 130.6 106.1 128.9 107.9 C127.3 109.7 125.1 111.9 123.5 112.3 C121.8 112.6 120.4 111.4 119.1 110.1 C117.8 108.8 116.9 106.5 115.8 104.6 C114.7 102.8 112.0 100.5 112.5 99.2Z" fill="#ff1a00"/>
<path d="M58.0 92.6 C58.9 91.0 62.4 90.3 63.5 91.5 C64.5 92.8 65.5 98.6 64.5 100.3 C63.6 101.9 59.1 102.6 58.0 101.4 C56.9 100.1 57.1 94.3 58.0 92.6Z" fill="#ff1a00"/>
<path d="M106.0 89.4 C106.5 88.5 109.5 88.2 110.4 88.7 C111.3 89.3 112.0 91.8 111.5 92.6 C110.9 93.5 108.0 94.3 107.1 93.7 C106.2 93.2 105.5 90.2 106.0 89.4Z" fill="#b0000a"/>
<path d="M71.1 123.2 C72.9 121.7 79.8 120.8 84.2 121.0 C88.5 121.2 93.6 123.2 97.3 124.3 C100.9 125.4 104.7 126.3 106.0 127.6 C107.3 128.8 106.4 131.0 104.9 131.9 C103.5 132.8 100.7 133.4 97.3 133.0 C93.8 132.6 88.2 130.3 84.2 129.7 C80.2 129.2 75.5 130.8 73.3 129.7 C71.1 128.6 69.3 124.6 71.1 123.2Z" fill="#fff46a"/>
<path d="M73.3 124.3 C74.7 123.5 80.5 123.0 84.2 123.2 C87.8 123.4 91.8 124.5 95.1 125.4 C98.4 126.3 102.7 127.6 103.8 128.6 C104.9 129.7 103.1 131.4 101.6 131.9 C100.2 132.5 97.6 132.5 95.1 131.9 C92.5 131.4 89.6 129.3 86.4 128.6 C83.1 128.0 77.6 128.7 75.5 128.0 C73.3 127.3 71.8 125.1 73.3 124.3Z" fill="#ff9a00"/>
<path d="M102.5 129.1 C102.5 129.4 102.3 129.8 102.0 130.1 C101.7 130.4 101.2 130.6 100.7 130.7 C100.2 130.8 99.6 130.8 99.1 130.7 C98.6 130.6 98.1 130.4 97.8 130.1 C97.5 129.8 97.3 129.4 97.3 129.1 C97.3 128.7 97.5 128.3 97.8 128.1 C98.1 127.8 98.6 127.5 99.1 127.4 C99.6 127.3 100.2 127.3 100.7 127.4 C101.2 127.5 101.7 127.8 102.0 128.1 C102.3 128.3 102.5 128.7 102.5 129.1Z" fill="#ff1a00"/>
<path d="M136.6 114.5 C137.1 112.6 139.8 112.6 140.5 114.5 C141.1 116.3 141.1 123.6 140.5 125.4 C139.9 127.2 137.6 127.2 137.0 125.4 C136.3 123.6 136.0 116.3 136.6 114.5Z" fill="#ff9a00"/>
<path d="M139.8 117.1 C139.8 117.5 139.7 118.0 139.6 118.4 C139.5 118.7 139.3 119.0 139.1 119.2 C138.9 119.3 138.6 119.3 138.4 119.2 C138.2 119.0 138.0 118.7 137.9 118.4 C137.7 118.0 137.6 117.5 137.6 117.1 C137.6 116.7 137.7 116.1 137.9 115.8 C138.0 115.4 138.2 115.1 138.4 115.0 C138.6 114.9 138.9 114.9 139.1 115.0 C139.3 115.1 139.5 115.4 139.6 115.8 C139.7 116.1 139.8 116.7 139.8 117.1Z" fill="#ff1a00"/>
<path d="M101.6 53.4 C105.1 51.7 119.6 50.8 123.5 52.3 C127.3 53.7 128.0 60.5 124.6 62.1 C121.1 63.7 106.5 63.5 102.7 62.1 C98.9 60.6 98.2 55.0 101.6 53.4Z" fill="#fff46a"/>
<path d="M103.8 54.5 C105.3 53.7 111.1 53.7 112.5 54.5 C114.0 55.2 114.0 58.1 112.5 58.8 C111.1 59.5 105.3 59.5 103.8 58.8 C102.4 58.1 102.4 55.2 103.8 54.5Z" fill="#ff9a00"/>
<path d="M118.0 53.4 C118.9 52.3 122.6 52.3 123.5 53.4 C124.4 54.5 124.4 58.8 123.5 59.9 C122.6 61.0 118.9 61.0 118.0 59.9 C117.1 58.8 117.1 54.5 118.0 53.4Z" fill="#ff9a00"/>
<path d="M58.0 55.5 C60.2 53.0 68.9 53.0 71.1 55.5 C73.3 58.1 73.3 68.3 71.1 70.8 C68.9 73.4 60.2 73.4 58.0 70.8 C55.8 68.3 55.8 58.1 58.0 55.5Z" fill="#fff46a"/>
<path d="M58.0 49.0 C59.8 47.9 67.1 47.9 68.9 49.0 C70.7 50.1 70.7 54.5 68.9 55.5 C67.1 56.6 59.8 56.6 58.0 55.5 C56.2 54.5 56.2 50.1 58.0 49.0Z" fill="#ff9a00"/>
</g>
<use href="#dRiv" fill="none" stroke="#40d0f0" stroke-width="1"/>
<use href="#dCh" fill="none" stroke="#5e5e5e" stroke-width="0.8"/>
<use href="#dCoast" fill="none" stroke="#40d0f0" stroke-width="0.9"/>
<use href="#dIs" fill="none" stroke="#40d0f0" stroke-width="0.7"/>
</g>
<g transform="translate(0,114.2)">
<rect x="2" y="0" width="37.3" height="40" fill="#fff" stroke="#999" stroke-width="0.8"/>
<text x="4.9" y="4.6" font-size="2.7" fill="#333" font-family="Liberation Sans,Arial,sans-serif">Intensity</text>
<rect x="2.9" y="6.50" width="9.8" height="3" fill="#fff" stroke="#bbb" stroke-width="0.4"/>
<text x="13.9" y="9.10" font-size="2.95" fill="#1a1a3a" stroke="#1a1a3a" stroke-width="0.08" font-family="Liberation Sans,Arial,sans-serif">No Drought</text>
<rect x="2.9" y="12.05" width="9.8" height="3" fill="#ffff66" stroke="#bbb" stroke-width="0.4"/>
<text x="13.9" y="14.65" font-size="2.95" fill="#1a1a3a" stroke="#1a1a3a" stroke-width="0.08" font-family="Liberation Sans,Arial,sans-serif">Mild Drought</text>
<rect x="2.9" y="17.60" width="9.8" height="3" fill="#ff9900" stroke="#bbb" stroke-width="0.4"/>
<text x="13.9" y="20.20" font-size="2.95" fill="#1a1a3a" stroke="#1a1a3a" stroke-width="0.08" font-family="Liberation Sans,Arial,sans-serif">Moderate Drought</text>
<rect x="2.9" y="23.15" width="9.8" height="3" fill="#ff0000" stroke="#bbb" stroke-width="0.4"/>
<text x="13.9" y="25.75" font-size="2.95" fill="#1a1a3a" stroke="#1a1a3a" stroke-width="0.08" font-family="Liberation Sans,Arial,sans-serif">Severe Drought</text>
<rect x="2.9" y="28.70" width="9.8" height="3" fill="#b00010" stroke="#bbb" stroke-width="0.4"/>
<text x="13.9" y="31.30" font-size="2.95" fill="#1a1a3a" stroke="#1a1a3a" stroke-width="0.08" font-family="Liberation Sans,Arial,sans-serif">Extreme Drought</text>
</g>
<use href="#dIns" y="111.8"/>
</svg>
<rect x="185.65" y="376.65" width="176.7" height="146.5" fill="none" stroke="#555" stroke-width="1.3"/>
<svg x="185" y="526" width="178" height="145" overflow="hidden"><rect width="178" height="145" fill="#eef2fb"/>
<g transform="translate(0.8,0)"><use href="#sSea" fill="#62cffc"/>
<use href="#sJp" fill="#eef2fb" stroke="#fff" stroke-width="0.6"/>
<use href="#sBord" fill="none" stroke="#d3c9bb" stroke-width="1.2"/>
<use href="#sDmz" fill="none" stroke="#f06a9a" stroke-width="1"/>
<use href="#sCh" fill="#f6f7fb"/>
<use href="#sIs" fill="#f6f7fb"/>
<g clip-path="url(#sClip)"><use href="#sCh" fill="url(#pG)"/></g>
<use href="#sRiv" fill="none" stroke="#55bdf2" stroke-width="1.5"/>
<use href="#sLake" fill="none" stroke="#52c0f2" stroke-width="1.8"/>
<g clip-path="url(#sClip)"><g filter="url(#fb)">
<path d="M38.8 29.1 C44.2 23.2 65.8 23.2 71.2 29.1 C76.6 35.1 76.6 58.8 71.2 64.7 C65.8 70.7 44.2 70.7 38.8 64.7 C33.4 58.8 33.4 35.1 38.8 29.1Z" fill="url(#pY)"/>
<path d="M19.4 58.3 C29.7 53.9 70.7 53.9 80.9 58.3 C91.2 62.6 91.2 79.8 80.9 84.1 C70.7 88.5 29.7 88.5 19.4 84.1 C9.2 79.8 9.2 62.6 19.4 58.3Z" fill="url(#pY)"/>
<path d="M71.2 55.0 C82.0 42.6 125.1 42.6 135.9 55.0 C146.7 67.4 146.7 117.0 135.9 129.4 C125.1 141.9 82.0 141.9 71.2 129.4 C60.4 117.0 60.4 67.4 71.2 55.0Z" fill="url(#pY)"/>
<path d="M19.4 87.4 C28.6 84.1 65.3 84.1 74.4 87.4 C83.6 90.6 83.6 103.6 74.4 106.8 C65.3 110.0 28.6 110.0 19.4 106.8 C10.2 103.6 10.2 90.6 19.4 87.4Z" fill="url(#pY)"/>
<path d="M142.4 32.4 C146.7 30.2 164.0 30.2 168.3 32.4 C172.6 34.5 172.6 43.1 168.3 45.3 C164.0 47.5 146.7 47.5 142.4 45.3 C138.1 43.1 138.1 34.5 142.4 32.4Z" fill="url(#pY)"/>
<path d="M42.1 32.4 C43.7 30.7 50.2 30.7 51.8 32.4 C53.4 34.0 53.4 40.5 51.8 42.1 C50.2 43.7 43.7 43.7 42.1 42.1 C40.5 40.5 40.5 34.0 42.1 32.4Z" fill="url(#pO)"/>
<path d="M48.5 45.3 C51.8 43.7 64.7 43.7 68.0 45.3 C71.2 46.9 71.2 53.4 68.0 55.0 C64.7 56.6 51.8 56.6 48.5 55.0 C45.3 53.4 45.3 46.9 48.5 45.3Z" fill="url(#pO)"/>
<path d="M106.8 58.3 C109.5 57.2 120.3 57.2 123.0 58.3 C125.7 59.3 125.7 63.6 123.0 64.7 C120.3 65.8 109.5 65.8 106.8 64.7 C104.1 63.6 104.1 59.3 106.8 58.3Z" fill="url(#pO)"/>
<path d="M110.0 71.2 C113.3 67.4 126.2 67.4 129.4 71.2 C132.7 75.0 132.7 90.1 129.4 93.9 C126.2 97.6 113.3 97.6 110.0 93.9 C106.8 90.1 106.8 75.0 110.0 71.2Z" fill="url(#pO)"/>
<path d="M77.7 74.4 C80.4 71.7 91.2 71.7 93.9 74.4 C96.5 77.1 96.5 87.9 93.9 90.6 C91.2 93.3 80.4 93.3 77.7 90.6 C75.0 87.9 75.0 77.1 77.7 74.4Z" fill="url(#pO)"/>
<path d="M87.4 90.6 C91.2 87.9 106.3 87.9 110.0 90.6 C113.8 93.3 113.8 104.1 110.0 106.8 C106.3 109.5 91.2 109.5 87.4 106.8 C83.6 104.1 83.6 93.3 87.4 90.6Z" fill="url(#pO)"/>
<path d="M100.3 103.6 C106.3 100.3 130.0 100.3 135.9 103.6 C141.9 106.8 141.9 119.7 135.9 123.0 C130.0 126.2 106.3 126.2 100.3 123.0 C94.4 119.7 94.4 106.8 100.3 103.6Z" fill="url(#pO)"/>
<path d="M32.4 90.6 C37.8 88.5 59.3 88.5 64.7 90.6 C70.1 92.8 70.1 101.4 64.7 103.6 C59.3 105.7 37.8 105.7 32.4 103.6 C27.0 101.4 27.0 92.8 32.4 90.6Z" fill="url(#pO)"/>
<path d="M38.8 29.1 C39.9 26.2 45.6 25.4 48.5 27.5 C51.5 29.7 53.4 39.1 56.6 42.1 C59.9 45.0 65.8 43.1 68.0 45.3 C70.1 47.5 71.7 53.1 69.6 55.0 C67.4 56.9 59.6 58.3 55.0 56.6 C50.4 55.0 44.8 49.9 42.1 45.3 C39.4 40.7 37.8 32.1 38.8 29.1Z" fill="url(#pO)"/>
<path d="M106.8 106.8 C111.1 103.3 131.3 101.1 135.9 103.6 C140.5 106.0 138.6 117.9 134.3 121.4 C130.0 124.9 114.6 127.0 110.0 124.6 C105.4 122.2 102.5 110.3 106.8 106.8Z" fill="url(#pO)"/>
<path d="M111.7 69.6 C114.3 64.7 126.2 63.6 129.4 68.0 C132.7 72.3 133.8 90.6 131.1 95.5 C128.4 100.3 116.5 101.4 113.3 97.1 C110.0 92.8 109.0 74.4 111.7 69.6Z" fill="url(#pO)"/>
<path d="M90.6 97.1 C92.2 95.7 98.7 95.7 100.3 97.1 C101.9 98.4 101.9 103.8 100.3 105.2 C98.7 106.5 92.2 106.5 90.6 105.2 C89.0 103.8 89.0 98.4 90.6 97.1Z" fill="url(#pR)"/>
<path d="M113.3 77.7 C115.4 75.5 124.1 75.5 126.2 77.7 C128.4 79.8 128.4 88.5 126.2 90.6 C124.1 92.8 115.4 92.8 113.3 90.6 C111.1 88.5 111.1 79.8 113.3 77.7Z" fill="url(#pR)"/>
</g></g>
<use href="#sLand" fill="none" stroke="#d4aa52" stroke-width="1.6" stroke-linejoin="round"/>
<path d="M8.2 87.4L11.5 86.5L15.5 87.4M8.2 87.4L7.4 90.6L8.2 93.1" fill="none" stroke="#ea4f9c" stroke-width="0.9"/>
<path d="M142.6 117.5L141.3 125.5L139.6 133L135.5 140" fill="none" stroke="#d4aa52" stroke-width="1.1" stroke-dasharray="2.2 1.6"/>
<ellipse cx="138" cy="142" rx="2.6" ry="2.2" fill="#f4f6fa"/>
<rect x="1" y="137.0" width="82" height="9" fill="#fff"/>
<rect x="1.6" y="134.4" width="18.9" height="2.7" fill="#8c0000"/>
<text x="11.1" y="141.8" font-size="3.5" font-weight="bold" fill="#8b1a1a" text-anchor="middle" font-family="Liberation Sans,Arial,sans-serif">0.8%</text>
<rect x="21.3" y="134.4" width="19.3" height="2.7" fill="#ec0000"/>
<text x="31.0" y="141.8" font-size="3.5" font-weight="bold" fill="#e02020" text-anchor="middle" font-family="Liberation Sans,Arial,sans-serif">3.37%</text>
<rect x="41.7" y="134.4" width="19.2" height="2.7" fill="#ff8c00"/>
<text x="51.3" y="141.8" font-size="3.5" font-weight="bold" fill="#f59a20" text-anchor="middle" font-family="Liberation Sans,Arial,sans-serif">10.7%</text>
<rect x="62.2" y="134.4" width="18.8" height="2.7" fill="#ffe000"/>
<text x="71.6" y="141.8" font-size="3.5" font-weight="bold" fill="#e8d040" text-anchor="middle" font-family="Liberation Sans,Arial,sans-serif">23.4%</text></g>
</svg>
<rect x="185.65" y="526.65" width="176.7" height="143.7" fill="none" stroke="#555" stroke-width="1.3"/>
<rect x="364" y="350" width="178.5" height="25" fill="#1473c8"/>
<text class="t" transform="translate(453.2,368) scale(0.87,1)" font-size="13.8" text-anchor="middle">Sept. 15, 2022</text>
<svg x="365" y="376" width="178" height="147.8" overflow="hidden"><rect width="178" height="147.8" fill="#fff"/>
<g transform="translate(0,-1)">
<use href="#dCh" fill="#fff"/>
<use href="#dProv" fill="none" stroke="#c4c4c4" stroke-width="0.6"/>
<g clip-path="url(#dClip)">
<path d="M30.7 34.0 C31.8 31.3 35.9 30.7 38.8 29.1 C41.8 27.5 46.1 23.7 48.5 24.3 C51.0 24.8 51.2 29.9 53.4 32.4 C55.6 34.8 59.6 36.1 61.5 38.8 C63.4 41.5 63.4 46.1 64.7 48.5 C66.1 51.0 66.3 52.9 69.6 53.4 C72.8 53.9 81.4 50.7 84.1 51.8 C86.8 52.9 86.8 58.0 85.8 59.9 C84.7 61.8 80.6 62.3 77.7 63.1 C74.7 63.9 70.1 62.8 68.0 64.7 C65.8 66.6 66.3 72.3 64.7 74.4 C63.1 76.6 60.4 78.2 58.3 77.7 C56.1 77.1 53.9 73.4 51.8 71.2 C49.6 69.0 47.5 67.2 45.3 64.7 C43.1 62.3 41.0 59.9 38.8 56.6 C36.7 53.4 33.7 49.1 32.4 45.3 C31.0 41.5 29.7 36.7 30.7 34.0Z" fill="#fff46a"/>
<path d="M37.2 53.4 C39.4 50.1 49.1 51.5 51.8 55.0 C54.5 58.5 55.6 71.1 53.4 74.4 C51.2 77.8 41.5 78.6 38.8 75.1 C36.1 71.6 35.1 56.7 37.2 53.4Z" fill="#fff46a"/>
<path d="M46.9 37.2 C48.3 35.1 51.2 33.7 53.4 34.0 C55.6 34.3 58.0 36.4 59.9 38.8 C61.8 41.3 64.2 45.3 64.7 48.5 C65.3 51.8 64.5 56.1 63.1 58.3 C61.8 60.4 59.1 61.8 56.6 61.5 C54.2 61.2 50.4 59.1 48.5 56.6 C46.7 54.2 45.6 50.2 45.3 46.9 C45.0 43.7 45.6 39.4 46.9 37.2Z" fill="#ff9a00"/>
<path d="M57.0 42.1 C57.9 41.2 61.1 41.4 62.1 43.0 C63.2 44.7 64.0 50.0 63.4 51.8 C62.9 53.6 60.1 54.3 58.9 53.7 C57.7 53.2 56.6 50.5 56.3 48.5 C56.0 46.6 56.0 43.0 57.0 42.1Z" fill="#ff1a00"/>
<path d="M37.2 29.1 C38.0 28.3 41.3 28.3 42.1 29.1 C42.9 29.9 42.9 33.2 42.1 34.0 C41.3 34.8 38.0 34.8 37.2 34.0 C36.4 33.2 36.4 29.9 37.2 29.1Z" fill="#ff9a00"/>
<path d="M66.3 53.4 C67.2 51.5 73.2 50.2 76.1 50.2 C78.9 50.2 82.4 51.9 83.5 53.4 C84.6 54.9 84.6 57.6 82.5 58.9 C80.5 60.2 73.9 62.4 71.2 61.5 C68.5 60.6 65.5 55.3 66.3 53.4Z" fill="#ff9a00"/>
<path d="M30.7 74.4 C32.9 71.7 39.1 70.7 42.1 71.2 C45.0 71.7 46.4 75.5 48.5 77.7 C50.7 79.8 52.3 82.3 55.0 84.1 C57.7 86.0 62.8 86.8 64.7 89.0 C66.6 91.2 67.4 94.7 66.3 97.1 C65.3 99.5 61.8 102.5 58.3 103.6 C54.7 104.6 49.6 104.6 45.3 103.6 C41.0 102.5 35.1 99.8 32.4 97.1 C29.7 94.4 29.4 91.2 29.1 87.4 C28.9 83.6 28.6 77.1 30.7 74.4Z" fill="#fff46a"/>
<path d="M32.4 87.4 C33.4 85.0 38.6 82.8 42.1 82.5 C45.6 82.3 49.9 84.1 53.4 85.8 C56.9 87.4 61.8 90.3 63.1 92.2 C64.5 94.1 63.9 96.0 61.5 97.1 C59.1 98.2 52.9 98.7 48.5 98.7 C44.2 98.7 38.3 99.0 35.6 97.1 C32.9 95.2 31.3 89.8 32.4 87.4Z" fill="#ff9a00"/>
<path d="M44.3 89.6 C44.9 88.7 47.2 88.7 47.9 89.6 C48.6 90.6 49.1 94.5 48.5 95.5 C48.0 96.4 45.4 96.4 44.7 95.5 C44.0 94.5 43.8 90.6 44.3 89.6Z" fill="#ff1a00"/>
<path d="M106.8 48.5 C109.5 45.6 113.8 38.3 116.5 35.6 C119.2 32.9 121.4 31.3 123.0 32.4 C124.6 33.4 125.9 38.3 126.2 42.1 C126.5 45.8 126.2 51.8 124.6 55.0 C123.0 58.3 120.0 60.7 116.5 61.5 C113.0 62.3 106.3 61.2 103.6 59.9 C100.9 58.5 99.8 55.3 100.3 53.4 C100.9 51.5 104.1 51.5 106.8 48.5Z" fill="#fff46a"/>
<path d="M103.6 53.4 C104.9 51.5 110.0 47.7 113.3 46.9 C116.5 46.1 121.1 47.2 123.0 48.5 C124.9 49.9 125.7 53.1 124.6 55.0 C123.5 56.9 119.7 59.3 116.5 59.9 C113.3 60.4 107.3 59.3 105.2 58.3 C103.0 57.2 102.2 55.3 103.6 53.4Z" fill="#ff9a00"/>
<path d="M117.2 50.2 C118.3 49.5 123.4 50.0 124.6 50.8 C125.8 51.6 125.7 54.3 124.6 55.0 C123.5 55.7 119.0 55.8 117.8 55.0 C116.6 54.2 116.0 50.9 117.2 50.2Z" fill="#ff1a00"/>
<path d="M119.7 19.4 C120.8 16.2 125.1 11.3 127.8 9.7 C130.5 8.1 133.5 8.1 135.9 9.7 C138.3 11.3 141.9 16.2 142.4 19.4 C142.9 22.7 141.3 27.0 139.2 29.1 C137.0 31.3 132.4 32.4 129.4 32.4 C126.5 32.4 123.0 31.3 121.4 29.1 C119.7 27.0 118.7 22.7 119.7 19.4Z" fill="#fff46a"/>
<path d="M130.1 13.6 C130.9 12.3 134.3 12.4 135.3 13.6 C136.2 14.8 136.7 19.7 135.9 21.0 C135.1 22.3 131.4 22.6 130.4 21.4 C129.4 20.1 129.3 14.9 130.1 13.6Z" fill="#fff"/>
<path d="M114.9 22.7 C116.2 21.0 121.6 21.0 123.0 22.7 C124.3 24.3 124.3 30.7 123.0 32.4 C121.6 34.0 116.2 34.0 114.9 32.4 C113.5 30.7 113.5 24.3 114.9 22.7Z" fill="#fff46a"/>
<path d="M84.1 71.2 C85.8 69.6 92.2 69.6 93.9 71.2 C95.5 72.8 95.5 79.3 93.9 80.9 C92.2 82.5 85.8 82.5 84.1 80.9 C82.5 79.3 82.5 72.8 84.1 71.2Z" fill="#fff46a"/>
<path d="M93.9 84.1 C95.5 82.5 101.9 82.5 103.6 84.1 C105.2 85.8 105.2 92.2 103.6 93.9 C101.9 95.5 95.5 95.5 93.9 93.9 C92.2 92.2 92.2 85.8 93.9 84.1Z" fill="#fff46a"/>
<path d="M80.9 76.1 C83.1 73.4 88.5 73.0 92.2 72.8 C96.0 72.7 99.5 75.2 103.6 75.1 C107.6 74.9 112.2 71.4 116.5 71.8 C120.8 72.3 126.2 75.1 129.4 77.7 C132.7 80.3 134.4 83.1 135.9 87.4 C137.4 91.7 138.6 98.8 138.5 103.6 C138.4 108.3 136.9 112.2 135.3 115.9 C133.7 119.5 131.9 123.4 128.8 125.6 C125.7 127.7 121.5 129.1 116.5 128.8 C111.5 128.5 103.7 125.6 98.7 123.6 C93.7 121.7 89.7 120.2 86.7 117.2 C83.8 114.1 82.1 109.9 80.9 105.2 C79.7 100.5 79.3 93.9 79.3 89.0 C79.3 84.1 78.7 78.7 80.9 76.1Z" fill="#fff46a"/>
<path d="M83.1 107.6 C83.6 104.8 83.9 100.2 86.4 97.7 C88.8 95.3 94.3 95.0 97.8 92.8 C101.4 90.6 104.6 86.8 107.6 84.6 C110.6 82.5 113.4 80.3 115.8 79.7 C118.3 79.2 120.2 80.3 122.4 81.4 C124.6 82.5 126.9 84.4 128.9 86.3 C131.0 88.2 133.4 90.1 134.6 92.8 C135.9 95.6 136.1 99.4 136.3 102.6 C136.4 105.9 136.4 109.7 135.5 112.5 C134.5 115.2 132.7 117.2 130.6 119.0 C128.4 120.8 125.4 122.0 122.4 123.1 C119.4 124.2 115.8 124.9 112.6 125.6 C109.3 126.2 105.7 127.5 102.7 127.2 C99.7 126.9 97.0 125.3 94.5 123.9 C92.1 122.6 89.9 120.6 88.0 119.0 C86.1 117.4 83.9 116.0 83.1 114.1 C82.3 112.2 82.5 110.3 83.1 107.6Z" fill="#ff9a00"/>
<path d="M89.3 82.7 C89.9 81.5 92.6 81.5 93.2 82.7 C93.9 83.8 93.8 88.4 93.2 89.5 C92.6 90.7 90.3 90.7 89.6 89.5 C89.0 88.4 88.7 83.8 89.3 82.7Z" fill="#ff9a00"/>
<path d="M86.4 102.6 C87.2 100.9 89.1 99.6 91.3 98.6 C93.5 97.5 97.3 97.3 99.5 96.1 C101.6 94.9 102.5 92.3 104.4 91.2 C106.3 90.1 108.7 90.1 110.9 89.5 C113.1 89.0 115.3 88.5 117.5 87.9 C119.6 87.4 122.1 86.1 124.0 86.3 C125.9 86.4 127.4 87.4 128.9 88.7 C130.4 90.1 132.1 92.1 133.0 94.5 C134.0 96.8 134.6 99.9 134.6 102.6 C134.6 105.4 134.1 108.4 133.0 110.8 C131.9 113.3 130.4 115.7 128.1 117.4 C125.8 119.0 122.2 120.1 119.1 120.6 C116.0 121.2 112.6 120.9 109.3 120.6 C106.0 120.4 102.5 120.0 99.5 119.0 C96.5 118.1 93.5 116.6 91.3 114.9 C89.1 113.3 87.2 111.2 86.4 109.2 C85.5 107.1 85.5 104.4 86.4 102.6Z" fill="#ff1a00"/>
<path d="M89.6 105.9 C89.9 104.4 92.4 103.6 94.5 102.6 C96.7 101.7 100.3 101.0 102.7 100.2 C105.2 99.4 107.1 98.3 109.3 97.7 C111.5 97.2 113.6 97.7 115.8 96.9 C118.0 96.1 120.3 93.6 122.4 92.8 C124.4 92.0 126.7 91.2 128.1 92.0 C129.5 92.8 129.9 95.7 130.6 97.7 C131.2 99.8 132.2 102.1 132.2 104.3 C132.2 106.5 131.6 108.9 130.6 110.8 C129.5 112.7 127.8 114.5 125.6 115.7 C123.5 117.0 120.5 117.9 117.5 118.2 C114.5 118.5 110.6 118.1 107.6 117.4 C104.6 116.7 101.9 115.1 99.5 114.1 C97.0 113.1 94.5 113.0 92.9 111.6 C91.3 110.3 89.4 107.4 89.6 105.9Z" fill="#b0000a"/>
<path d="M135.3 111.7 C135.9 109.5 139.1 109.5 139.8 111.7 C140.6 113.8 140.5 122.4 139.8 124.6 C139.2 126.8 136.7 126.8 135.9 124.6 C135.2 122.4 134.6 113.8 135.3 111.7Z" fill="#b0000a"/>
<path d="M80.3 110.0 C80.3 110.5 80.1 111.1 79.8 111.6 C79.5 112.0 79.0 112.3 78.5 112.5 C78.0 112.7 77.4 112.7 76.9 112.5 C76.4 112.3 75.9 112.0 75.6 111.6 C75.3 111.1 75.1 110.5 75.1 110.0 C75.1 109.5 75.3 108.9 75.6 108.5 C75.9 108.1 76.4 107.7 76.9 107.6 C77.4 107.4 78.0 107.4 78.5 107.6 C79.0 107.7 79.5 108.1 79.8 108.5 C80.1 108.9 80.3 109.5 80.3 110.0Z" fill="#ff9a00"/>
</g>
<use href="#dRiv" fill="none" stroke="#40d0f0" stroke-width="1"/>
<use href="#dCh" fill="none" stroke="#5e5e5e" stroke-width="0.8"/>
<use href="#dCoast" fill="none" stroke="#40d0f0" stroke-width="0.9"/>
<use href="#dIs" fill="none" stroke="#40d0f0" stroke-width="0.7"/>
</g>
<g transform="translate(0,114.2)">
<rect x="2" y="0" width="37.3" height="40" fill="#fff" stroke="#999" stroke-width="0.8"/>
<text x="4.9" y="4.6" font-size="2.7" fill="#333" font-family="Liberation Sans,Arial,sans-serif">Intensity</text>
<rect x="2.9" y="6.50" width="9.8" height="3" fill="#fff" stroke="#bbb" stroke-width="0.4"/>
<text x="13.9" y="9.10" font-size="2.95" fill="#1a1a3a" stroke="#1a1a3a" stroke-width="0.08" font-family="Liberation Sans,Arial,sans-serif">No Drought</text>
<rect x="2.9" y="12.05" width="9.8" height="3" fill="#ffff66" stroke="#bbb" stroke-width="0.4"/>
<text x="13.9" y="14.65" font-size="2.95" fill="#1a1a3a" stroke="#1a1a3a" stroke-width="0.08" font-family="Liberation Sans,Arial,sans-serif">Mild Drought</text>
<rect x="2.9" y="17.60" width="9.8" height="3" fill="#ff9900" stroke="#bbb" stroke-width="0.4"/>
<text x="13.9" y="20.20" font-size="2.95" fill="#1a1a3a" stroke="#1a1a3a" stroke-width="0.08" font-family="Liberation Sans,Arial,sans-serif">Moderate Drought</text>
<rect x="2.9" y="23.15" width="9.8" height="3" fill="#ff0000" stroke="#bbb" stroke-width="0.4"/>
<text x="13.9" y="25.75" font-size="2.95" fill="#1a1a3a" stroke="#1a1a3a" stroke-width="0.08" font-family="Liberation Sans,Arial,sans-serif">Severe Drought</text>
<rect x="2.9" y="28.70" width="9.8" height="3" fill="#b00010" stroke="#bbb" stroke-width="0.4"/>
<text x="13.9" y="31.30" font-size="2.95" fill="#1a1a3a" stroke="#1a1a3a" stroke-width="0.08" font-family="Liberation Sans,Arial,sans-serif">Extreme Drought</text>
</g>
<use href="#dIns" y="111.8"/>
</svg>
<rect x="365.65" y="376.65" width="176.7" height="146.5" fill="none" stroke="#555" stroke-width="1.3"/>
<svg x="365" y="526" width="178" height="145" overflow="hidden"><rect width="178" height="145" fill="#eef2fb"/>
<g transform="translate(0,0)"><use href="#sSea" fill="#62cffc"/>
<use href="#sJp" fill="#eef2fb" stroke="#fff" stroke-width="0.6"/>
<use href="#sBord" fill="none" stroke="#d3c9bb" stroke-width="1.2"/>
<use href="#sDmz" fill="none" stroke="#f06a9a" stroke-width="1"/>
<use href="#sCh" fill="#f6f7fb"/>
<use href="#sIs" fill="#f6f7fb"/>
<g clip-path="url(#sClip)"><use href="#sCh" fill="url(#pG)"/></g>
<use href="#sRiv" fill="none" stroke="#55bdf2" stroke-width="1.5"/>
<use href="#sLake" fill="none" stroke="#52c0f2" stroke-width="1.8"/>
<g clip-path="url(#sClip)"><g filter="url(#fb)">
<path d="M29.1 29.1 C35.1 23.2 58.8 23.2 64.7 29.1 C70.7 35.1 70.7 58.8 64.7 64.7 C58.8 70.7 35.1 70.7 29.1 64.7 C23.2 58.8 23.2 35.1 29.1 29.1Z" fill="url(#pY)"/>
<path d="M16.2 58.3 C27.0 53.9 70.1 53.9 80.9 58.3 C91.7 62.6 91.7 79.8 80.9 84.1 C70.1 88.5 27.0 88.5 16.2 84.1 C5.4 79.8 5.4 62.6 16.2 58.3Z" fill="url(#pY)"/>
<path d="M103.6 45.3 C107.9 42.1 125.1 42.1 129.4 45.3 C133.8 48.5 133.8 61.5 129.4 64.7 C125.1 68.0 107.9 68.0 103.6 64.7 C99.2 61.5 99.2 48.5 103.6 45.3Z" fill="url(#pY)"/>
<path d="M135.9 12.9 C140.2 5.4 157.5 5.4 161.8 12.9 C166.1 20.5 166.1 50.7 161.8 58.3 C157.5 65.8 140.2 65.8 135.9 58.3 C131.6 50.7 131.6 20.5 135.9 12.9Z" fill="url(#pY)"/>
<path d="M51.8 77.7 C66.3 68.0 124.6 68.0 139.2 77.7 C153.7 87.4 153.7 126.2 139.2 135.9 C124.6 145.6 66.3 145.6 51.8 135.9 C37.2 126.2 37.2 87.4 51.8 77.7Z" fill="url(#pY)"/>
<path d="M32.4 29.1 C36.1 25.9 51.2 25.9 55.0 29.1 C58.8 32.4 58.8 45.3 55.0 48.5 C51.2 51.8 36.1 51.8 32.4 48.5 C28.6 45.3 28.6 32.4 32.4 29.1Z" fill="url(#pO)"/>
<path d="M74.4 55.0 C78.2 53.4 93.3 53.4 97.1 55.0 C100.9 56.6 100.9 63.1 97.1 64.7 C93.3 66.3 78.2 66.3 74.4 64.7 C70.7 63.1 70.7 56.6 74.4 55.0Z" fill="url(#pO)"/>
<path d="M106.8 51.8 C110.0 50.2 123.0 50.2 126.2 51.8 C129.4 53.4 129.4 59.9 126.2 61.5 C123.0 63.1 110.0 63.1 106.8 61.5 C103.6 59.9 103.6 53.4 106.8 51.8Z" fill="url(#pO)"/>
<path d="M74.4 87.4 C78.2 85.2 93.3 85.2 97.1 87.4 C100.9 89.5 100.9 98.2 97.1 100.3 C93.3 102.5 78.2 102.5 74.4 100.3 C70.7 98.2 70.7 89.5 74.4 87.4Z" fill="url(#pO)"/>
<path d="M77.7 90.6 C80.4 83.6 93.3 80.9 97.1 87.4 C100.9 93.9 103.0 122.4 100.3 129.4 C97.6 136.5 84.7 135.9 80.9 129.4 C77.1 123.0 75.0 97.6 77.7 90.6Z" fill="url(#pO)"/>
<path d="M87.3 105.8 C87.7 103.2 89.7 99.3 91.8 97.6 C93.9 96.0 97.4 96.6 100.0 95.8 C102.6 95.1 104.8 93.2 107.3 93.1 C109.7 92.9 112.1 94.3 114.5 94.9 C117.0 95.5 119.4 96.1 121.8 96.7 C124.2 97.3 127.0 97.3 129.1 98.5 C131.2 99.8 133.6 101.9 134.5 104.0 C135.5 106.1 135.2 108.8 134.5 111.3 C133.9 113.7 132.7 116.7 130.9 118.5 C129.1 120.4 126.1 121.0 123.6 122.2 C121.2 123.4 118.5 124.9 116.4 125.8 C114.2 126.7 112.7 127.0 110.9 127.6 C109.1 128.2 107.3 129.3 105.5 129.5 C103.6 129.6 101.5 129.5 100.0 128.5 C98.5 127.6 97.6 125.7 96.4 124.0 C95.2 122.3 93.9 120.4 92.7 118.5 C91.5 116.7 90.0 115.2 89.1 113.1 C88.2 111.0 86.8 108.4 87.3 105.8Z" fill="url(#pR2)"/>
<path d="M132.7 119.7 C133.8 118.1 138.1 118.1 139.2 119.7 C140.2 121.4 140.2 127.8 139.2 129.4 C138.1 131.1 133.8 131.1 132.7 129.4 C131.6 127.8 131.6 121.4 132.7 119.7Z" fill="url(#pO)"/>
</g></g>
<use href="#sLand" fill="none" stroke="#d4aa52" stroke-width="1.6" stroke-linejoin="round"/>
<path d="M8.2 87.4L11.5 86.5L15.5 87.4M8.2 87.4L7.4 90.6L8.2 93.1" fill="none" stroke="#ea4f9c" stroke-width="0.9"/>
<path d="M142.6 117.5L141.3 125.5L139.6 133L135.5 140" fill="none" stroke="#d4aa52" stroke-width="1.1" stroke-dasharray="2.2 1.6"/>
<ellipse cx="138" cy="142" rx="2.6" ry="2.2" fill="#f4f6fa"/>
<rect x="1" y="137.0" width="82" height="9" fill="#fff"/>
<rect x="1.6" y="134.4" width="18.9" height="2.7" fill="#8c0000"/>
<text x="11.1" y="141.8" font-size="3.5" font-weight="bold" fill="#8b1a1a" text-anchor="middle" font-family="Liberation Sans,Arial,sans-serif">1.86%</text>
<rect x="21.3" y="134.4" width="19.3" height="2.7" fill="#ec0000"/>
<text x="31.0" y="141.8" font-size="3.5" font-weight="bold" fill="#e02020" text-anchor="middle" font-family="Liberation Sans,Arial,sans-serif">6.36%</text>
<rect x="41.7" y="134.4" width="19.2" height="2.7" fill="#ff8c00"/>
<text x="51.3" y="141.8" font-size="3.5" font-weight="bold" fill="#f59a20" text-anchor="middle" font-family="Liberation Sans,Arial,sans-serif">16.1%</text>
<rect x="62.2" y="134.4" width="18.8" height="2.7" fill="#ffe000"/>
<text x="71.6" y="141.8" font-size="3.5" font-weight="bold" fill="#e8d040" text-anchor="middle" font-family="Liberation Sans,Arial,sans-serif">28.5%</text></g>
</svg>
<rect x="365.65" y="526.65" width="176.7" height="143.7" fill="none" stroke="#555" stroke-width="1.3"/>
</svg></body></html>
